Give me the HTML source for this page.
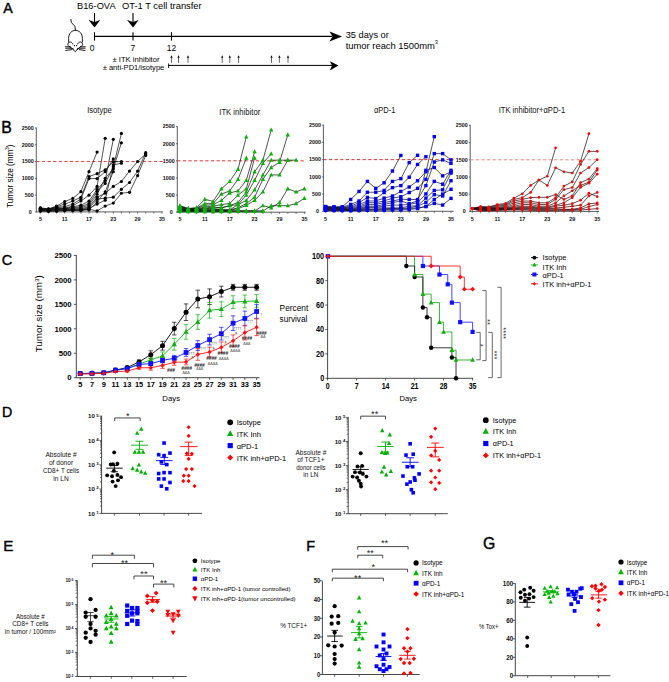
<!DOCTYPE html><html><head><meta charset="utf-8"><style>html,body{margin:0;padding:0;background:#fff;overflow:hidden;width:669px;height:682px;}svg{display:block;}text{font-family:"Liberation Sans", sans-serif;}</style></head><body>
<svg width="669" height="682" viewBox="0 0 669 682">
<rect width="669" height="682" fill="#fff"/>
<text x="3.20" y="12.70" font-size="14.20" fill="#000" stroke="#000" stroke-width="0.4">A</text>
<text x="1.30" y="132.90" font-size="15.80" fill="#000" stroke="#000" stroke-width="0.4">B</text>
<text x="1.80" y="264.80" font-size="14.50" fill="#000" stroke="#000" stroke-width="0.4">C</text>
<text x="2.00" y="416.50" font-size="14.20" fill="#000" stroke="#000" stroke-width="0.4">D</text>
<text x="3.20" y="551.40" font-size="15.20" fill="#000" stroke="#000" stroke-width="0.4">E</text>
<text x="306.20" y="551.40" font-size="14.50" fill="#000" stroke="#000" stroke-width="0.4">F</text>
<text x="482.90" y="549.10" font-size="15.80" fill="#000" stroke="#000" stroke-width="0.4">G</text>
<text x="77.00" y="9.40" font-size="9.3" text-anchor="start" fill="#000" >B16-OVA</text>
<text x="122.00" y="9.40" font-size="9.3" text-anchor="start" fill="#000" textLength="79.70" lengthAdjust="spacingAndGlyphs" >OT-1 T cell transfer</text>
<line x1="94.50" y1="13.10" x2="94.50" y2="23.00" stroke="#000" stroke-width="1.1" />
<path d="M88.50,19.8 Q91.50,21.3 94.50,22.1 Q97.50,21.3 100.30,19.8 Q97.70,23.6 94.50,27.5 Q91.30,23.6 88.50,19.8 Z" fill="#000"/>
<line x1="133.00" y1="13.10" x2="133.00" y2="23.00" stroke="#000" stroke-width="1.1" />
<path d="M127.00,19.8 Q130.00,21.3 133.00,22.1 Q136.00,21.3 138.80,19.8 Q136.20,23.6 133.00,27.5 Q129.80,23.6 127.00,19.8 Z" fill="#000"/>
<line x1="94.50" y1="36.40" x2="332.00" y2="36.40" stroke="#000" stroke-width="1.1" />
<path d="M329.5,31.4 L342,36.4 L329.5,41.5 L332.5,36.4 Z" fill="#000"/>
<line x1="94.50" y1="32.20" x2="94.50" y2="40.60" stroke="#000" stroke-width="1.1" />
<line x1="133.00" y1="32.20" x2="133.00" y2="40.60" stroke="#000" stroke-width="1.1" />
<line x1="171.50" y1="32.20" x2="171.50" y2="40.60" stroke="#000" stroke-width="1.1" />
<text x="92.20" y="50.80" font-size="8.5" text-anchor="middle" fill="#000" >0</text>
<text x="132.90" y="50.80" font-size="8.5" text-anchor="middle" fill="#000" >7</text>
<text x="171.50" y="50.80" font-size="8.5" text-anchor="middle" fill="#000" >12</text>
<text x="159.50" y="62.20" font-size="7.6" text-anchor="end" fill="#000" textLength="47.00" lengthAdjust="spacingAndGlyphs" >± ITK inhibitor</text>
<text x="164.30" y="69.60" font-size="7.6" text-anchor="end" fill="#000" textLength="61.60" lengthAdjust="spacingAndGlyphs" >± anti-PD1/isotype</text>
<line x1="168.60" y1="65.40" x2="332.00" y2="65.40" stroke="#000" stroke-width="1.0" />
<line x1="168.60" y1="63.50" x2="168.60" y2="68.00" stroke="#000" stroke-width="0.9" />
<path d="M329.8,61.3 L338.5,65.4 L329.8,70.5 L332,65.4 Z" fill="#000"/>
<line x1="171.50" y1="57.50" x2="171.50" y2="62.80" stroke="#000" stroke-width="0.6" />
<path d="M170.30,57.8 L171.50,55.3 L172.70,57.8 Z" fill="#000"/>
<line x1="178.50" y1="57.50" x2="178.50" y2="62.80" stroke="#000" stroke-width="0.6" />
<path d="M177.30,57.8 L178.50,55.3 L179.70,57.8 Z" fill="#000"/>
<line x1="188.00" y1="57.50" x2="188.00" y2="62.80" stroke="#000" stroke-width="0.6" />
<path d="M186.80,57.8 L188.00,55.3 L189.20,57.8 Z" fill="#000"/>
<line x1="222.20" y1="57.50" x2="222.20" y2="62.80" stroke="#000" stroke-width="0.6" />
<path d="M221.00,57.8 L222.20,55.3 L223.40,57.8 Z" fill="#000"/>
<line x1="229.80" y1="57.50" x2="229.80" y2="62.80" stroke="#000" stroke-width="0.6" />
<path d="M228.60,57.8 L229.80,55.3 L231.00,57.8 Z" fill="#000"/>
<line x1="238.60" y1="57.50" x2="238.60" y2="62.80" stroke="#000" stroke-width="0.6" />
<path d="M237.40,57.8 L238.60,55.3 L239.80,57.8 Z" fill="#000"/>
<line x1="271.50" y1="57.50" x2="271.50" y2="62.80" stroke="#000" stroke-width="0.6" />
<path d="M270.30,57.8 L271.50,55.3 L272.70,57.8 Z" fill="#000"/>
<line x1="279.40" y1="57.50" x2="279.40" y2="62.80" stroke="#000" stroke-width="0.6" />
<path d="M278.20,57.8 L279.40,55.3 L280.60,57.8 Z" fill="#000"/>
<line x1="288.00" y1="57.50" x2="288.00" y2="62.80" stroke="#000" stroke-width="0.6" />
<path d="M286.80,57.8 L288.00,55.3 L289.20,57.8 Z" fill="#000"/>
<text x="345.70" y="37.80" font-size="9.3" text-anchor="start" fill="#000" textLength="43.10" lengthAdjust="spacingAndGlyphs" >35 days or</text>
<text x="345.70" y="48.70" font-size="9.3" text-anchor="start" fill="#000" textLength="89.20" lengthAdjust="spacingAndGlyphs" >tumor reach 1500mm</text>
<text x="434.90" y="44.40" font-size="5.2" text-anchor="start" fill="#000" >3</text>
<g fill="none" stroke="#000" stroke-width="0.9" stroke-linecap="round" stroke-linejoin="round">
<path d="M70.9,19.4 L71.4,22.6 L74.9,26.2 L75.5,30.3"/>
<path d="M68.7,42 L68.6,38.5 C68.6,33.5 71.8,30.3 75.5,30.3 C79.2,30.3 82.4,33.5 82.4,38.5 L82.4,42"/>
<path d="M72.8,44 C72.3,41.5 69,41.5 68.2,43.2 C67.3,45 68.6,46.5 70,46.8 L75.2,51.6 L80.4,46.8 C81.8,46.5 83.2,45 82.3,43.2 C81.5,41.5 78.2,41.5 77.7,44"/>
<path d="M65.6,46.7 L70.5,46.9 M65.6,48.2 L71.5,48.2 M65.8,50.5 L71.5,49.6 M85.2,46.7 L80.3,46.9 M85.2,48.2 L79.3,48.2 M85,50.5 L79.3,49.6"/>
</g>
<circle cx="74.4" cy="45.6" r="0.7" fill="#000"/><circle cx="76.5" cy="45.6" r="0.7" fill="#000"/>
<path d="M71.3,47.6 L73.6,48.6 L73.6,50 Z M79.2,47.6 L76.9,48.6 L76.9,50 Z" fill="#000"/>
<text x="87.20" y="113.30" font-size="8.4" text-anchor="start" fill="#111" textLength="24.60" lengthAdjust="spacingAndGlyphs" >Isotype</text>
<line x1="36.30" y1="127.50" x2="36.30" y2="212.30" stroke="#333" stroke-width="0.8" />
<line x1="36.30" y1="211.90" x2="162.80" y2="211.90" stroke="#333" stroke-width="0.8" />
<line x1="35.00" y1="211.90" x2="36.30" y2="211.90" stroke="#333" stroke-width="0.7" />
<text x="31.80" y="213.75" font-size="5.4" text-anchor="end" fill="#111" font-weight="bold" >0</text>
<line x1="35.00" y1="195.12" x2="36.30" y2="195.12" stroke="#333" stroke-width="0.7" />
<text x="33.80" y="196.97" font-size="5.4" text-anchor="end" fill="#111" font-weight="bold" >500</text>
<line x1="35.00" y1="178.34" x2="36.30" y2="178.34" stroke="#333" stroke-width="0.7" />
<text x="33.80" y="180.19" font-size="5.4" text-anchor="end" fill="#111" font-weight="bold" >1000</text>
<line x1="35.00" y1="161.56" x2="36.30" y2="161.56" stroke="#333" stroke-width="0.7" />
<text x="33.80" y="163.41" font-size="5.4" text-anchor="end" fill="#111" font-weight="bold" >1500</text>
<line x1="35.00" y1="144.78" x2="36.30" y2="144.78" stroke="#333" stroke-width="0.7" />
<text x="33.80" y="146.63" font-size="5.4" text-anchor="end" fill="#111" font-weight="bold" >2000</text>
<line x1="35.00" y1="128.00" x2="36.30" y2="128.00" stroke="#333" stroke-width="0.7" />
<text x="33.80" y="129.85" font-size="5.4" text-anchor="end" fill="#111" font-weight="bold" >2500</text>
<line x1="40.40" y1="211.90" x2="40.40" y2="213.70" stroke="#333" stroke-width="0.6" />
<line x1="48.50" y1="211.90" x2="48.50" y2="213.70" stroke="#333" stroke-width="0.6" />
<line x1="56.60" y1="211.90" x2="56.60" y2="213.70" stroke="#333" stroke-width="0.6" />
<line x1="64.70" y1="211.90" x2="64.70" y2="213.70" stroke="#333" stroke-width="0.6" />
<line x1="72.80" y1="211.90" x2="72.80" y2="213.70" stroke="#333" stroke-width="0.6" />
<line x1="80.90" y1="211.90" x2="80.90" y2="213.70" stroke="#333" stroke-width="0.6" />
<line x1="89.00" y1="211.90" x2="89.00" y2="213.70" stroke="#333" stroke-width="0.6" />
<line x1="97.10" y1="211.90" x2="97.10" y2="213.70" stroke="#333" stroke-width="0.6" />
<line x1="105.20" y1="211.90" x2="105.20" y2="213.70" stroke="#333" stroke-width="0.6" />
<line x1="113.30" y1="211.90" x2="113.30" y2="213.70" stroke="#333" stroke-width="0.6" />
<line x1="121.40" y1="211.90" x2="121.40" y2="213.70" stroke="#333" stroke-width="0.6" />
<line x1="129.50" y1="211.90" x2="129.50" y2="213.70" stroke="#333" stroke-width="0.6" />
<line x1="137.60" y1="211.90" x2="137.60" y2="213.70" stroke="#333" stroke-width="0.6" />
<line x1="145.70" y1="211.90" x2="145.70" y2="213.70" stroke="#333" stroke-width="0.6" />
<line x1="153.80" y1="211.90" x2="153.80" y2="213.70" stroke="#333" stroke-width="0.6" />
<line x1="161.90" y1="211.90" x2="161.90" y2="213.70" stroke="#333" stroke-width="0.6" />
<text x="40.40" y="220.90" font-size="5.4" text-anchor="middle" fill="#111" font-weight="bold" >5</text>
<text x="64.70" y="220.90" font-size="5.4" text-anchor="middle" fill="#111" font-weight="bold" >11</text>
<text x="89.00" y="220.90" font-size="5.4" text-anchor="middle" fill="#111" font-weight="bold" >17</text>
<text x="113.30" y="220.90" font-size="5.4" text-anchor="middle" fill="#111" font-weight="bold" >23</text>
<text x="137.60" y="220.90" font-size="5.4" text-anchor="middle" fill="#111" font-weight="bold" >29</text>
<text x="161.90" y="220.90" font-size="5.4" text-anchor="middle" fill="#111" font-weight="bold" >35</text>
<line x1="36.30" y1="161.56" x2="162.80" y2="161.56" stroke="#e04040" stroke-width="1.0" stroke-dasharray="3.2 2.4"/>
<polyline points="40.40,207.87 48.50,208.88 56.60,206.19 64.70,201.50 72.80,198.41 80.90,191.63 89.00,171.70 97.10,152.10" fill="none" stroke="#111" stroke-width="0.72" />
<polyline points="40.40,208.16 48.50,209.09 56.60,206.65 64.70,204.11 72.80,200.99 80.90,197.37 89.00,176.59 97.10,173.68 105.20,169.75 113.30,161.90 121.40,161.49" fill="none" stroke="#111" stroke-width="0.72" />
<polyline points="40.40,208.45 48.50,209.31 56.60,207.11 64.70,206.70 72.80,204.11 80.90,198.91 89.00,178.57 97.10,178.57 105.20,171.70 113.30,158.94" fill="none" stroke="#111" stroke-width="0.72" />
<polyline points="40.40,208.74 48.50,209.52 56.60,207.57 64.70,208.28 72.80,205.86 80.90,200.99 89.00,195.22 97.10,186.39 105.20,138.37" fill="none" stroke="#111" stroke-width="0.72" />
<polyline points="40.40,209.03 48.50,209.73 56.60,208.03 64.70,208.54 72.80,206.87 80.90,205.19 89.00,201.13 97.10,189.35 105.20,180.52 113.30,139.34" fill="none" stroke="#111" stroke-width="0.72" />
<polyline points="40.40,209.32 48.50,209.95 56.60,208.48 64.70,208.88 72.80,207.87 80.90,206.53 89.00,203.51 97.10,191.33 105.20,183.47 113.30,166.80 121.40,133.47" fill="none" stroke="#111" stroke-width="0.72" />
<polyline points="40.40,209.61 48.50,210.16 56.60,208.94 64.70,209.22 72.80,208.54 80.90,207.54 89.00,205.19 97.10,194.25 105.20,178.34 113.30,168.78 121.40,142.87" fill="none" stroke="#111" stroke-width="0.72" />
<polyline points="40.40,209.90 48.50,210.37 56.60,209.40 64.70,209.55 72.80,209.22 80.90,208.54 89.00,206.87 97.10,197.20 105.20,193.27 113.30,186.39 121.40,181.49 129.50,171.12 137.60,161.49 145.70,154.04" fill="none" stroke="#111" stroke-width="0.72" />
<polyline points="40.40,210.19 48.50,210.59 56.60,209.86 64.70,209.89 72.80,209.55 80.90,209.22 89.00,207.87 97.10,199.15 105.20,198.17 113.30,197.20 121.40,189.35 129.50,182.50 137.60,171.12 145.70,152.67" fill="none" stroke="#111" stroke-width="0.72" />
<polyline points="40.40,210.48 48.50,210.80 56.60,210.31 64.70,210.22 72.80,209.89 80.90,209.89 89.00,209.22 97.10,210.93 105.20,206.03 113.30,203.07 121.40,193.27 129.50,192.30 137.60,175.62 145.70,155.42" fill="none" stroke="#111" stroke-width="0.72" />
<polyline points="40.40,210.77 48.50,211.02 56.60,210.77 64.70,210.56 72.80,210.22 80.90,210.22 89.00,208.54 97.10,204.05 105.20,200.15 113.30,164.92 121.40,163.24" fill="none" stroke="#111" stroke-width="0.72" />
<polyline points="40.40,211.06 48.50,211.23 56.60,211.23 64.70,210.56 72.80,210.56 80.90,210.56 89.00,209.89 97.10,201.83 105.20,191.76 113.30,171.63" fill="none" stroke="#111" stroke-width="0.72" />
<circle cx="40.40" cy="207.87" r="1.60" fill="#000"/>
<circle cx="48.50" cy="208.88" r="1.60" fill="#000"/>
<circle cx="56.60" cy="206.19" r="1.60" fill="#000"/>
<circle cx="64.70" cy="201.50" r="1.60" fill="#000"/>
<circle cx="72.80" cy="198.41" r="1.60" fill="#000"/>
<circle cx="80.90" cy="191.63" r="1.60" fill="#000"/>
<circle cx="89.00" cy="171.70" r="1.60" fill="#000"/>
<circle cx="97.10" cy="152.10" r="1.60" fill="#000"/>
<circle cx="40.40" cy="208.16" r="1.60" fill="#000"/>
<circle cx="48.50" cy="209.09" r="1.60" fill="#000"/>
<circle cx="56.60" cy="206.65" r="1.60" fill="#000"/>
<circle cx="64.70" cy="204.11" r="1.60" fill="#000"/>
<circle cx="72.80" cy="200.99" r="1.60" fill="#000"/>
<circle cx="80.90" cy="197.37" r="1.60" fill="#000"/>
<circle cx="89.00" cy="176.59" r="1.60" fill="#000"/>
<circle cx="97.10" cy="173.68" r="1.60" fill="#000"/>
<circle cx="105.20" cy="169.75" r="1.60" fill="#000"/>
<circle cx="113.30" cy="161.90" r="1.60" fill="#000"/>
<circle cx="121.40" cy="161.49" r="1.60" fill="#000"/>
<circle cx="40.40" cy="208.45" r="1.60" fill="#000"/>
<circle cx="48.50" cy="209.31" r="1.60" fill="#000"/>
<circle cx="56.60" cy="207.11" r="1.60" fill="#000"/>
<circle cx="64.70" cy="206.70" r="1.60" fill="#000"/>
<circle cx="72.80" cy="204.11" r="1.60" fill="#000"/>
<circle cx="80.90" cy="198.91" r="1.60" fill="#000"/>
<circle cx="89.00" cy="178.57" r="1.60" fill="#000"/>
<circle cx="97.10" cy="178.57" r="1.60" fill="#000"/>
<circle cx="105.20" cy="171.70" r="1.60" fill="#000"/>
<circle cx="113.30" cy="158.94" r="1.60" fill="#000"/>
<circle cx="40.40" cy="208.74" r="1.60" fill="#000"/>
<circle cx="48.50" cy="209.52" r="1.60" fill="#000"/>
<circle cx="56.60" cy="207.57" r="1.60" fill="#000"/>
<circle cx="64.70" cy="208.28" r="1.60" fill="#000"/>
<circle cx="72.80" cy="205.86" r="1.60" fill="#000"/>
<circle cx="80.90" cy="200.99" r="1.60" fill="#000"/>
<circle cx="89.00" cy="195.22" r="1.60" fill="#000"/>
<circle cx="97.10" cy="186.39" r="1.60" fill="#000"/>
<circle cx="105.20" cy="138.37" r="1.60" fill="#000"/>
<circle cx="40.40" cy="209.03" r="1.60" fill="#000"/>
<circle cx="48.50" cy="209.73" r="1.60" fill="#000"/>
<circle cx="56.60" cy="208.03" r="1.60" fill="#000"/>
<circle cx="64.70" cy="208.54" r="1.60" fill="#000"/>
<circle cx="72.80" cy="206.87" r="1.60" fill="#000"/>
<circle cx="80.90" cy="205.19" r="1.60" fill="#000"/>
<circle cx="89.00" cy="201.13" r="1.60" fill="#000"/>
<circle cx="97.10" cy="189.35" r="1.60" fill="#000"/>
<circle cx="105.20" cy="180.52" r="1.60" fill="#000"/>
<circle cx="113.30" cy="139.34" r="1.60" fill="#000"/>
<circle cx="40.40" cy="209.32" r="1.60" fill="#000"/>
<circle cx="48.50" cy="209.95" r="1.60" fill="#000"/>
<circle cx="56.60" cy="208.48" r="1.60" fill="#000"/>
<circle cx="64.70" cy="208.88" r="1.60" fill="#000"/>
<circle cx="72.80" cy="207.87" r="1.60" fill="#000"/>
<circle cx="80.90" cy="206.53" r="1.60" fill="#000"/>
<circle cx="89.00" cy="203.51" r="1.60" fill="#000"/>
<circle cx="97.10" cy="191.33" r="1.60" fill="#000"/>
<circle cx="105.20" cy="183.47" r="1.60" fill="#000"/>
<circle cx="113.30" cy="166.80" r="1.60" fill="#000"/>
<circle cx="121.40" cy="133.47" r="1.60" fill="#000"/>
<circle cx="40.40" cy="209.61" r="1.60" fill="#000"/>
<circle cx="48.50" cy="210.16" r="1.60" fill="#000"/>
<circle cx="56.60" cy="208.94" r="1.60" fill="#000"/>
<circle cx="64.70" cy="209.22" r="1.60" fill="#000"/>
<circle cx="72.80" cy="208.54" r="1.60" fill="#000"/>
<circle cx="80.90" cy="207.54" r="1.60" fill="#000"/>
<circle cx="89.00" cy="205.19" r="1.60" fill="#000"/>
<circle cx="97.10" cy="194.25" r="1.60" fill="#000"/>
<circle cx="105.20" cy="178.34" r="1.60" fill="#000"/>
<circle cx="113.30" cy="168.78" r="1.60" fill="#000"/>
<circle cx="121.40" cy="142.87" r="1.60" fill="#000"/>
<circle cx="40.40" cy="209.90" r="1.60" fill="#000"/>
<circle cx="48.50" cy="210.37" r="1.60" fill="#000"/>
<circle cx="56.60" cy="209.40" r="1.60" fill="#000"/>
<circle cx="64.70" cy="209.55" r="1.60" fill="#000"/>
<circle cx="72.80" cy="209.22" r="1.60" fill="#000"/>
<circle cx="80.90" cy="208.54" r="1.60" fill="#000"/>
<circle cx="89.00" cy="206.87" r="1.60" fill="#000"/>
<circle cx="97.10" cy="197.20" r="1.60" fill="#000"/>
<circle cx="105.20" cy="193.27" r="1.60" fill="#000"/>
<circle cx="113.30" cy="186.39" r="1.60" fill="#000"/>
<circle cx="121.40" cy="181.49" r="1.60" fill="#000"/>
<circle cx="129.50" cy="171.12" r="1.60" fill="#000"/>
<circle cx="137.60" cy="161.49" r="1.60" fill="#000"/>
<circle cx="145.70" cy="154.04" r="1.60" fill="#000"/>
<circle cx="40.40" cy="210.19" r="1.60" fill="#000"/>
<circle cx="48.50" cy="210.59" r="1.60" fill="#000"/>
<circle cx="56.60" cy="209.86" r="1.60" fill="#000"/>
<circle cx="64.70" cy="209.89" r="1.60" fill="#000"/>
<circle cx="72.80" cy="209.55" r="1.60" fill="#000"/>
<circle cx="80.90" cy="209.22" r="1.60" fill="#000"/>
<circle cx="89.00" cy="207.87" r="1.60" fill="#000"/>
<circle cx="97.10" cy="199.15" r="1.60" fill="#000"/>
<circle cx="105.20" cy="198.17" r="1.60" fill="#000"/>
<circle cx="113.30" cy="197.20" r="1.60" fill="#000"/>
<circle cx="121.40" cy="189.35" r="1.60" fill="#000"/>
<circle cx="129.50" cy="182.50" r="1.60" fill="#000"/>
<circle cx="137.60" cy="171.12" r="1.60" fill="#000"/>
<circle cx="145.70" cy="152.67" r="1.60" fill="#000"/>
<circle cx="40.40" cy="210.48" r="1.60" fill="#000"/>
<circle cx="48.50" cy="210.80" r="1.60" fill="#000"/>
<circle cx="56.60" cy="210.31" r="1.60" fill="#000"/>
<circle cx="64.70" cy="210.22" r="1.60" fill="#000"/>
<circle cx="72.80" cy="209.89" r="1.60" fill="#000"/>
<circle cx="80.90" cy="209.89" r="1.60" fill="#000"/>
<circle cx="89.00" cy="209.22" r="1.60" fill="#000"/>
<circle cx="97.10" cy="210.93" r="1.60" fill="#000"/>
<circle cx="105.20" cy="206.03" r="1.60" fill="#000"/>
<circle cx="113.30" cy="203.07" r="1.60" fill="#000"/>
<circle cx="121.40" cy="193.27" r="1.60" fill="#000"/>
<circle cx="129.50" cy="192.30" r="1.60" fill="#000"/>
<circle cx="137.60" cy="175.62" r="1.60" fill="#000"/>
<circle cx="145.70" cy="155.42" r="1.60" fill="#000"/>
<circle cx="40.40" cy="210.77" r="1.60" fill="#000"/>
<circle cx="48.50" cy="211.02" r="1.60" fill="#000"/>
<circle cx="56.60" cy="210.77" r="1.60" fill="#000"/>
<circle cx="64.70" cy="210.56" r="1.60" fill="#000"/>
<circle cx="72.80" cy="210.22" r="1.60" fill="#000"/>
<circle cx="80.90" cy="210.22" r="1.60" fill="#000"/>
<circle cx="89.00" cy="208.54" r="1.60" fill="#000"/>
<circle cx="97.10" cy="204.05" r="1.60" fill="#000"/>
<circle cx="105.20" cy="200.15" r="1.60" fill="#000"/>
<circle cx="113.30" cy="164.92" r="1.60" fill="#000"/>
<circle cx="121.40" cy="163.24" r="1.60" fill="#000"/>
<circle cx="40.40" cy="211.06" r="1.60" fill="#000"/>
<circle cx="48.50" cy="211.23" r="1.60" fill="#000"/>
<circle cx="56.60" cy="211.23" r="1.60" fill="#000"/>
<circle cx="64.70" cy="210.56" r="1.60" fill="#000"/>
<circle cx="72.80" cy="210.56" r="1.60" fill="#000"/>
<circle cx="80.90" cy="210.56" r="1.60" fill="#000"/>
<circle cx="89.00" cy="209.89" r="1.60" fill="#000"/>
<circle cx="97.10" cy="201.83" r="1.60" fill="#000"/>
<circle cx="105.20" cy="191.76" r="1.60" fill="#000"/>
<circle cx="113.30" cy="171.63" r="1.60" fill="#000"/>
<text x="219.30" y="114.50" font-size="8.4" text-anchor="start" fill="#111" textLength="40.90" lengthAdjust="spacingAndGlyphs" >ITK inhibitor</text>
<line x1="177.30" y1="126.10" x2="177.30" y2="212.60" stroke="#333" stroke-width="0.8" />
<line x1="177.30" y1="212.20" x2="305.80" y2="212.20" stroke="#333" stroke-width="0.8" />
<line x1="176.00" y1="212.20" x2="177.30" y2="212.20" stroke="#333" stroke-width="0.7" />
<text x="172.80" y="214.05" font-size="5.4" text-anchor="end" fill="#111" font-weight="bold" >0</text>
<line x1="176.00" y1="195.08" x2="177.30" y2="195.08" stroke="#333" stroke-width="0.7" />
<text x="174.80" y="196.93" font-size="5.4" text-anchor="end" fill="#111" font-weight="bold" >500</text>
<line x1="176.00" y1="177.96" x2="177.30" y2="177.96" stroke="#333" stroke-width="0.7" />
<text x="174.80" y="179.81" font-size="5.4" text-anchor="end" fill="#111" font-weight="bold" >1000</text>
<line x1="176.00" y1="160.84" x2="177.30" y2="160.84" stroke="#333" stroke-width="0.7" />
<text x="174.80" y="162.69" font-size="5.4" text-anchor="end" fill="#111" font-weight="bold" >1500</text>
<line x1="176.00" y1="143.72" x2="177.30" y2="143.72" stroke="#333" stroke-width="0.7" />
<text x="174.80" y="145.57" font-size="5.4" text-anchor="end" fill="#111" font-weight="bold" >2000</text>
<line x1="176.00" y1="126.60" x2="177.30" y2="126.60" stroke="#333" stroke-width="0.7" />
<text x="174.80" y="128.45" font-size="5.4" text-anchor="end" fill="#111" font-weight="bold" >2500</text>
<line x1="179.90" y1="212.20" x2="179.90" y2="214.00" stroke="#333" stroke-width="0.6" />
<line x1="188.20" y1="212.20" x2="188.20" y2="214.00" stroke="#333" stroke-width="0.6" />
<line x1="196.50" y1="212.20" x2="196.50" y2="214.00" stroke="#333" stroke-width="0.6" />
<line x1="204.80" y1="212.20" x2="204.80" y2="214.00" stroke="#333" stroke-width="0.6" />
<line x1="213.10" y1="212.20" x2="213.10" y2="214.00" stroke="#333" stroke-width="0.6" />
<line x1="221.40" y1="212.20" x2="221.40" y2="214.00" stroke="#333" stroke-width="0.6" />
<line x1="229.70" y1="212.20" x2="229.70" y2="214.00" stroke="#333" stroke-width="0.6" />
<line x1="238.00" y1="212.20" x2="238.00" y2="214.00" stroke="#333" stroke-width="0.6" />
<line x1="246.30" y1="212.20" x2="246.30" y2="214.00" stroke="#333" stroke-width="0.6" />
<line x1="254.60" y1="212.20" x2="254.60" y2="214.00" stroke="#333" stroke-width="0.6" />
<line x1="262.90" y1="212.20" x2="262.90" y2="214.00" stroke="#333" stroke-width="0.6" />
<line x1="271.20" y1="212.20" x2="271.20" y2="214.00" stroke="#333" stroke-width="0.6" />
<line x1="279.50" y1="212.20" x2="279.50" y2="214.00" stroke="#333" stroke-width="0.6" />
<line x1="287.80" y1="212.20" x2="287.80" y2="214.00" stroke="#333" stroke-width="0.6" />
<line x1="296.10" y1="212.20" x2="296.10" y2="214.00" stroke="#333" stroke-width="0.6" />
<line x1="304.40" y1="212.20" x2="304.40" y2="214.00" stroke="#333" stroke-width="0.6" />
<text x="179.90" y="220.90" font-size="5.4" text-anchor="middle" fill="#111" font-weight="bold" >5</text>
<text x="204.80" y="220.90" font-size="5.4" text-anchor="middle" fill="#111" font-weight="bold" >11</text>
<text x="229.70" y="220.90" font-size="5.4" text-anchor="middle" fill="#111" font-weight="bold" >17</text>
<text x="254.60" y="220.90" font-size="5.4" text-anchor="middle" fill="#111" font-weight="bold" >23</text>
<text x="279.50" y="220.90" font-size="5.4" text-anchor="middle" fill="#111" font-weight="bold" >29</text>
<text x="304.40" y="220.90" font-size="5.4" text-anchor="middle" fill="#111" font-weight="bold" >35</text>
<line x1="177.30" y1="160.84" x2="305.80" y2="160.84" stroke="#e03030" stroke-width="1.0" stroke-dasharray="3.2 2.4"/>
<polyline points="179.90,205.69 188.20,208.43 196.50,207.75 204.80,199.26 213.10,201.38 221.40,188.78 229.70,181.38 238.00,169.26 246.30,136.87" fill="none" stroke="#111" stroke-width="0.72" />
<polyline points="179.90,206.21 188.20,208.71 196.50,208.09 204.80,203.64 213.10,203.64 221.40,194.05 229.70,190.87 238.00,179.26 246.30,158.03" fill="none" stroke="#111" stroke-width="0.72" />
<polyline points="179.90,206.72 188.20,208.99 196.50,208.43 204.80,205.35 213.10,204.67 221.40,200.39 229.70,192.99 238.00,190.87 246.30,180.32 254.60,151.70" fill="none" stroke="#111" stroke-width="0.72" />
<polyline points="179.90,207.24 188.20,209.27 196.50,208.78 204.80,207.06 213.10,206.04 221.40,204.63 229.70,203.54 238.00,195.08 246.30,188.78 254.60,158.03" fill="none" stroke="#111" stroke-width="0.72" />
<polyline points="179.90,207.75 188.20,209.55 196.50,209.12 204.80,208.09 213.10,207.06 221.40,207.82 229.70,205.69 238.00,202.51 246.30,191.93 254.60,171.80 262.90,160.16 271.20,129.96" fill="none" stroke="#111" stroke-width="0.72" />
<polyline points="179.90,208.26 188.20,209.83 196.50,209.46 204.80,208.78 213.10,208.09 221.40,207.82 229.70,205.69 238.00,204.63 246.30,195.08 254.60,180.32 262.90,163.34 271.20,153.82" fill="none" stroke="#111" stroke-width="0.72" />
<polyline points="179.90,208.78 188.20,210.11 196.50,209.80 204.80,209.46 213.10,208.78 221.40,209.94 229.70,209.94 238.00,204.63 246.30,200.39 254.60,189.81 262.90,174.95 271.20,160.16 279.50,160.16 287.80,160.16 296.10,160.16" fill="none" stroke="#111" stroke-width="0.72" />
<polyline points="179.90,209.29 188.20,210.39 196.50,210.15 204.80,210.15 213.10,209.46 221.40,209.94 229.70,209.94 238.00,207.75 246.30,203.64 254.60,197.20 262.90,179.26 271.20,167.55 279.50,162.28 287.80,134.75" fill="none" stroke="#111" stroke-width="0.72" />
<polyline points="179.90,209.80 188.20,210.67 196.50,210.49 204.80,210.49 213.10,210.15 221.40,210.15 229.70,210.15 238.00,208.78 246.30,205.35 254.60,200.39 262.90,191.93 271.20,174.95 279.50,174.95 287.80,160.16" fill="none" stroke="#111" stroke-width="0.72" />
<polyline points="179.90,210.32 188.20,210.95 196.50,210.83 204.80,210.83 213.10,210.49 221.40,210.83 229.70,210.83 238.00,211.00 246.30,211.00 254.60,211.00 262.90,205.69 271.20,207.82 279.50,202.51 287.80,188.78 296.10,191.93 304.40,188.78" fill="none" stroke="#111" stroke-width="0.72" />
<polyline points="179.90,210.83 188.20,211.24 196.50,211.17 204.80,211.17 213.10,210.83 221.40,211.17 229.70,211.17 238.00,211.00 246.30,211.00 254.60,211.00 262.90,211.00 271.20,205.69 279.50,205.69 287.80,205.69 296.10,203.57 304.40,198.26" fill="none" stroke="#111" stroke-width="0.72" />
<polyline points="179.90,211.34 188.20,211.52 196.50,211.52 204.80,211.52 213.10,211.52 221.40,211.52 229.70,211.52 238.00,211.00 246.30,211.00 254.60,211.00 262.90,211.00" fill="none" stroke="#111" stroke-width="0.72" />
<polygon points="179.90,203.24 182.05,207.33 177.75,207.33" fill="#00b400"/>
<polygon points="188.20,205.98 190.35,210.07 186.05,210.07" fill="#00b400"/>
<polygon points="196.50,205.30 198.65,209.38 194.35,209.38" fill="#00b400"/>
<polygon points="204.80,196.81 206.95,200.89 202.65,200.89" fill="#00b400"/>
<polygon points="213.10,198.93 215.25,203.01 210.95,203.01" fill="#00b400"/>
<polygon points="221.40,186.33 223.55,190.41 219.25,190.41" fill="#00b400"/>
<polygon points="229.70,178.93 231.85,183.02 227.55,183.02" fill="#00b400"/>
<polygon points="238.00,166.81 240.15,170.90 235.85,170.90" fill="#00b400"/>
<polygon points="246.30,134.42 248.45,138.51 244.15,138.51" fill="#00b400"/>
<polygon points="179.90,203.76 182.05,207.84 177.75,207.84" fill="#00b400"/>
<polygon points="188.20,206.26 190.35,210.35 186.05,210.35" fill="#00b400"/>
<polygon points="196.50,205.64 198.65,209.73 194.35,209.73" fill="#00b400"/>
<polygon points="204.80,201.19 206.95,205.27 202.65,205.27" fill="#00b400"/>
<polygon points="213.10,201.19 215.25,205.27 210.95,205.27" fill="#00b400"/>
<polygon points="221.40,191.60 223.55,195.69 219.25,195.69" fill="#00b400"/>
<polygon points="229.70,188.42 231.85,192.50 227.55,192.50" fill="#00b400"/>
<polygon points="238.00,176.81 240.15,180.90 235.85,180.90" fill="#00b400"/>
<polygon points="246.30,155.58 248.45,159.67 244.15,159.67" fill="#00b400"/>
<polygon points="179.90,204.27 182.05,208.36 177.75,208.36" fill="#00b400"/>
<polygon points="188.20,206.54 190.35,210.63 186.05,210.63" fill="#00b400"/>
<polygon points="196.50,205.98 198.65,210.07 194.35,210.07" fill="#00b400"/>
<polygon points="204.80,202.90 206.95,206.99 202.65,206.99" fill="#00b400"/>
<polygon points="213.10,202.22 215.25,206.30 210.95,206.30" fill="#00b400"/>
<polygon points="221.40,197.94 223.55,202.02 219.25,202.02" fill="#00b400"/>
<polygon points="229.70,190.54 231.85,194.63 227.55,194.63" fill="#00b400"/>
<polygon points="238.00,188.42 240.15,192.50 235.85,192.50" fill="#00b400"/>
<polygon points="246.30,177.87 248.45,181.96 244.15,181.96" fill="#00b400"/>
<polygon points="254.60,149.25 256.75,153.33 252.45,153.33" fill="#00b400"/>
<polygon points="179.90,204.78 182.05,208.87 177.75,208.87" fill="#00b400"/>
<polygon points="188.20,206.82 190.35,210.91 186.05,210.91" fill="#00b400"/>
<polygon points="196.50,206.32 198.65,210.41 194.35,210.41" fill="#00b400"/>
<polygon points="204.80,204.61 206.95,208.70 202.65,208.70" fill="#00b400"/>
<polygon points="213.10,203.59 215.25,207.67 210.95,207.67" fill="#00b400"/>
<polygon points="221.40,202.18 223.55,206.27 219.25,206.27" fill="#00b400"/>
<polygon points="229.70,201.09 231.85,205.17 227.55,205.17" fill="#00b400"/>
<polygon points="238.00,192.63 240.15,196.71 235.85,196.71" fill="#00b400"/>
<polygon points="246.30,186.33 248.45,190.41 244.15,190.41" fill="#00b400"/>
<polygon points="254.60,155.58 256.75,159.67 252.45,159.67" fill="#00b400"/>
<polygon points="179.90,205.30 182.05,209.38 177.75,209.38" fill="#00b400"/>
<polygon points="188.20,207.10 190.35,211.19 186.05,211.19" fill="#00b400"/>
<polygon points="196.50,206.67 198.65,210.75 194.35,210.75" fill="#00b400"/>
<polygon points="204.80,205.64 206.95,209.73 202.65,209.73" fill="#00b400"/>
<polygon points="213.10,204.61 215.25,208.70 210.95,208.70" fill="#00b400"/>
<polygon points="221.40,205.37 223.55,209.45 219.25,209.45" fill="#00b400"/>
<polygon points="229.70,203.24 231.85,207.33 227.55,207.33" fill="#00b400"/>
<polygon points="238.00,200.06 240.15,204.14 235.85,204.14" fill="#00b400"/>
<polygon points="246.30,189.48 248.45,193.56 244.15,193.56" fill="#00b400"/>
<polygon points="254.60,169.35 256.75,173.43 252.45,173.43" fill="#00b400"/>
<polygon points="262.90,157.70 265.05,161.79 260.75,161.79" fill="#00b400"/>
<polygon points="271.20,127.50 273.35,131.59 269.05,131.59" fill="#00b400"/>
<polygon points="179.90,205.81 182.05,209.90 177.75,209.90" fill="#00b400"/>
<polygon points="188.20,207.38 190.35,211.47 186.05,211.47" fill="#00b400"/>
<polygon points="196.50,207.01 198.65,211.09 194.35,211.09" fill="#00b400"/>
<polygon points="204.80,206.32 206.95,210.41 202.65,210.41" fill="#00b400"/>
<polygon points="213.10,205.64 215.25,209.73 210.95,209.73" fill="#00b400"/>
<polygon points="221.40,205.37 223.55,209.45 219.25,209.45" fill="#00b400"/>
<polygon points="229.70,203.24 231.85,207.33 227.55,207.33" fill="#00b400"/>
<polygon points="238.00,202.18 240.15,206.27 235.85,206.27" fill="#00b400"/>
<polygon points="246.30,192.63 248.45,196.71 244.15,196.71" fill="#00b400"/>
<polygon points="254.60,177.87 256.75,181.96 252.45,181.96" fill="#00b400"/>
<polygon points="262.90,160.89 265.05,164.97 260.75,164.97" fill="#00b400"/>
<polygon points="271.20,151.37 273.35,155.45 269.05,155.45" fill="#00b400"/>
<polygon points="179.90,206.32 182.05,210.41 177.75,210.41" fill="#00b400"/>
<polygon points="188.20,207.66 190.35,211.75 186.05,211.75" fill="#00b400"/>
<polygon points="196.50,207.35 198.65,211.44 194.35,211.44" fill="#00b400"/>
<polygon points="204.80,207.01 206.95,211.09 202.65,211.09" fill="#00b400"/>
<polygon points="213.10,206.32 215.25,210.41 210.95,210.41" fill="#00b400"/>
<polygon points="221.40,207.49 223.55,211.57 219.25,211.57" fill="#00b400"/>
<polygon points="229.70,207.49 231.85,211.57 227.55,211.57" fill="#00b400"/>
<polygon points="238.00,202.18 240.15,206.27 235.85,206.27" fill="#00b400"/>
<polygon points="246.30,197.94 248.45,202.02 244.15,202.02" fill="#00b400"/>
<polygon points="254.60,187.36 256.75,191.44 252.45,191.44" fill="#00b400"/>
<polygon points="262.90,172.50 265.05,176.58 260.75,176.58" fill="#00b400"/>
<polygon points="271.20,157.70 273.35,161.79 269.05,161.79" fill="#00b400"/>
<polygon points="279.50,157.70 281.65,161.79 277.35,161.79" fill="#00b400"/>
<polygon points="287.80,157.70 289.95,161.79 285.65,161.79" fill="#00b400"/>
<polygon points="296.10,157.70 298.25,161.79 293.95,161.79" fill="#00b400"/>
<polygon points="179.90,206.84 182.05,210.92 177.75,210.92" fill="#00b400"/>
<polygon points="188.20,207.94 190.35,212.03 186.05,212.03" fill="#00b400"/>
<polygon points="196.50,207.69 198.65,211.78 194.35,211.78" fill="#00b400"/>
<polygon points="204.80,207.69 206.95,211.78 202.65,211.78" fill="#00b400"/>
<polygon points="213.10,207.01 215.25,211.09 210.95,211.09" fill="#00b400"/>
<polygon points="221.40,207.49 223.55,211.57 219.25,211.57" fill="#00b400"/>
<polygon points="229.70,207.49 231.85,211.57 227.55,211.57" fill="#00b400"/>
<polygon points="238.00,205.30 240.15,209.38 235.85,209.38" fill="#00b400"/>
<polygon points="246.30,201.19 248.45,205.27 244.15,205.27" fill="#00b400"/>
<polygon points="254.60,194.75 256.75,198.84 252.45,198.84" fill="#00b400"/>
<polygon points="262.90,176.81 265.05,180.90 260.75,180.90" fill="#00b400"/>
<polygon points="271.20,165.10 273.35,169.19 269.05,169.19" fill="#00b400"/>
<polygon points="279.50,159.83 281.65,163.91 277.35,163.91" fill="#00b400"/>
<polygon points="287.80,132.30 289.95,136.38 285.65,136.38" fill="#00b400"/>
<polygon points="179.90,207.35 182.05,211.44 177.75,211.44" fill="#00b400"/>
<polygon points="188.20,208.22 190.35,212.31 186.05,212.31" fill="#00b400"/>
<polygon points="196.50,208.04 198.65,212.12 194.35,212.12" fill="#00b400"/>
<polygon points="204.80,208.04 206.95,212.12 202.65,212.12" fill="#00b400"/>
<polygon points="213.10,207.69 215.25,211.78 210.95,211.78" fill="#00b400"/>
<polygon points="221.40,207.69 223.55,211.78 219.25,211.78" fill="#00b400"/>
<polygon points="229.70,207.69 231.85,211.78 227.55,211.78" fill="#00b400"/>
<polygon points="238.00,206.32 240.15,210.41 235.85,210.41" fill="#00b400"/>
<polygon points="246.30,202.90 248.45,206.99 244.15,206.99" fill="#00b400"/>
<polygon points="254.60,197.94 256.75,202.02 252.45,202.02" fill="#00b400"/>
<polygon points="262.90,189.48 265.05,193.56 260.75,193.56" fill="#00b400"/>
<polygon points="271.20,172.50 273.35,176.58 269.05,176.58" fill="#00b400"/>
<polygon points="279.50,172.50 281.65,176.58 277.35,176.58" fill="#00b400"/>
<polygon points="287.80,157.70 289.95,161.79 285.65,161.79" fill="#00b400"/>
<polygon points="179.90,207.87 182.05,211.95 177.75,211.95" fill="#00b400"/>
<polygon points="188.20,208.50 190.35,212.59 186.05,212.59" fill="#00b400"/>
<polygon points="196.50,208.38 198.65,212.46 194.35,212.46" fill="#00b400"/>
<polygon points="204.80,208.38 206.95,212.46 202.65,212.46" fill="#00b400"/>
<polygon points="213.10,208.04 215.25,212.12 210.95,212.12" fill="#00b400"/>
<polygon points="221.40,208.38 223.55,212.46 219.25,212.46" fill="#00b400"/>
<polygon points="229.70,208.38 231.85,212.46 227.55,212.46" fill="#00b400"/>
<polygon points="238.00,208.55 240.15,212.64 235.85,212.64" fill="#00b400"/>
<polygon points="246.30,208.55 248.45,212.64 244.15,212.64" fill="#00b400"/>
<polygon points="254.60,208.55 256.75,212.64 252.45,212.64" fill="#00b400"/>
<polygon points="262.90,203.24 265.05,207.33 260.75,207.33" fill="#00b400"/>
<polygon points="271.20,205.37 273.35,209.45 269.05,209.45" fill="#00b400"/>
<polygon points="279.50,200.06 281.65,204.14 277.35,204.14" fill="#00b400"/>
<polygon points="287.80,186.33 289.95,190.41 285.65,190.41" fill="#00b400"/>
<polygon points="296.10,189.48 298.25,193.56 293.95,193.56" fill="#00b400"/>
<polygon points="304.40,186.33 306.55,190.41 302.25,190.41" fill="#00b400"/>
<polygon points="179.90,208.38 182.05,212.46 177.75,212.46" fill="#00b400"/>
<polygon points="188.20,208.78 190.35,212.87 186.05,212.87" fill="#00b400"/>
<polygon points="196.50,208.72 198.65,212.81 194.35,212.81" fill="#00b400"/>
<polygon points="204.80,208.72 206.95,212.81 202.65,212.81" fill="#00b400"/>
<polygon points="213.10,208.38 215.25,212.46 210.95,212.46" fill="#00b400"/>
<polygon points="221.40,208.72 223.55,212.81 219.25,212.81" fill="#00b400"/>
<polygon points="229.70,208.72 231.85,212.81 227.55,212.81" fill="#00b400"/>
<polygon points="238.00,208.55 240.15,212.64 235.85,212.64" fill="#00b400"/>
<polygon points="246.30,208.55 248.45,212.64 244.15,212.64" fill="#00b400"/>
<polygon points="254.60,208.55 256.75,212.64 252.45,212.64" fill="#00b400"/>
<polygon points="262.90,208.55 265.05,212.64 260.75,212.64" fill="#00b400"/>
<polygon points="271.20,203.24 273.35,207.33 269.05,207.33" fill="#00b400"/>
<polygon points="279.50,203.24 281.65,207.33 277.35,207.33" fill="#00b400"/>
<polygon points="287.80,203.24 289.95,207.33 285.65,207.33" fill="#00b400"/>
<polygon points="296.10,201.12 298.25,205.21 293.95,205.21" fill="#00b400"/>
<polygon points="304.40,195.81 306.55,199.90 302.25,199.90" fill="#00b400"/>
<polygon points="179.90,208.89 182.05,212.98 177.75,212.98" fill="#00b400"/>
<polygon points="188.20,209.06 190.35,213.15 186.05,213.15" fill="#00b400"/>
<polygon points="196.50,209.06 198.65,213.15 194.35,213.15" fill="#00b400"/>
<polygon points="204.80,209.06 206.95,213.15 202.65,213.15" fill="#00b400"/>
<polygon points="213.10,209.06 215.25,213.15 210.95,213.15" fill="#00b400"/>
<polygon points="221.40,209.06 223.55,213.15 219.25,213.15" fill="#00b400"/>
<polygon points="229.70,209.06 231.85,213.15 227.55,213.15" fill="#00b400"/>
<polygon points="238.00,208.55 240.15,212.64 235.85,212.64" fill="#00b400"/>
<polygon points="246.30,208.55 248.45,212.64 244.15,212.64" fill="#00b400"/>
<polygon points="254.60,208.55 256.75,212.64 252.45,212.64" fill="#00b400"/>
<polygon points="262.90,208.55 265.05,212.64 260.75,212.64" fill="#00b400"/>
<text x="373.90" y="113.30" font-size="8.4" text-anchor="start" fill="#111" textLength="21.50" lengthAdjust="spacingAndGlyphs" >αPD-1</text>
<line x1="323.40" y1="124.70" x2="323.40" y2="211.70" stroke="#333" stroke-width="0.8" />
<line x1="323.40" y1="211.30" x2="453.50" y2="211.30" stroke="#333" stroke-width="0.8" />
<line x1="322.10" y1="211.30" x2="323.40" y2="211.30" stroke="#333" stroke-width="0.7" />
<text x="318.90" y="213.15" font-size="5.4" text-anchor="end" fill="#111" font-weight="bold" >0</text>
<line x1="322.10" y1="194.08" x2="323.40" y2="194.08" stroke="#333" stroke-width="0.7" />
<text x="320.90" y="195.93" font-size="5.4" text-anchor="end" fill="#111" font-weight="bold" >500</text>
<line x1="322.10" y1="176.86" x2="323.40" y2="176.86" stroke="#333" stroke-width="0.7" />
<text x="320.90" y="178.71" font-size="5.4" text-anchor="end" fill="#111" font-weight="bold" >1000</text>
<line x1="322.10" y1="159.64" x2="323.40" y2="159.64" stroke="#333" stroke-width="0.7" />
<text x="320.90" y="161.49" font-size="5.4" text-anchor="end" fill="#111" font-weight="bold" >1500</text>
<line x1="322.10" y1="142.42" x2="323.40" y2="142.42" stroke="#333" stroke-width="0.7" />
<text x="320.90" y="144.27" font-size="5.4" text-anchor="end" fill="#111" font-weight="bold" >2000</text>
<line x1="322.10" y1="125.20" x2="323.40" y2="125.20" stroke="#333" stroke-width="0.7" />
<text x="320.90" y="127.05" font-size="5.4" text-anchor="end" fill="#111" font-weight="bold" >2500</text>
<line x1="325.60" y1="211.30" x2="325.60" y2="213.10" stroke="#333" stroke-width="0.6" />
<line x1="333.96" y1="211.30" x2="333.96" y2="213.10" stroke="#333" stroke-width="0.6" />
<line x1="342.32" y1="211.30" x2="342.32" y2="213.10" stroke="#333" stroke-width="0.6" />
<line x1="350.68" y1="211.30" x2="350.68" y2="213.10" stroke="#333" stroke-width="0.6" />
<line x1="359.04" y1="211.30" x2="359.04" y2="213.10" stroke="#333" stroke-width="0.6" />
<line x1="367.40" y1="211.30" x2="367.40" y2="213.10" stroke="#333" stroke-width="0.6" />
<line x1="375.76" y1="211.30" x2="375.76" y2="213.10" stroke="#333" stroke-width="0.6" />
<line x1="384.12" y1="211.30" x2="384.12" y2="213.10" stroke="#333" stroke-width="0.6" />
<line x1="392.48" y1="211.30" x2="392.48" y2="213.10" stroke="#333" stroke-width="0.6" />
<line x1="400.84" y1="211.30" x2="400.84" y2="213.10" stroke="#333" stroke-width="0.6" />
<line x1="409.20" y1="211.30" x2="409.20" y2="213.10" stroke="#333" stroke-width="0.6" />
<line x1="417.56" y1="211.30" x2="417.56" y2="213.10" stroke="#333" stroke-width="0.6" />
<line x1="425.92" y1="211.30" x2="425.92" y2="213.10" stroke="#333" stroke-width="0.6" />
<line x1="434.28" y1="211.30" x2="434.28" y2="213.10" stroke="#333" stroke-width="0.6" />
<line x1="442.64" y1="211.30" x2="442.64" y2="213.10" stroke="#333" stroke-width="0.6" />
<line x1="451.00" y1="211.30" x2="451.00" y2="213.10" stroke="#333" stroke-width="0.6" />
<text x="325.60" y="220.90" font-size="5.4" text-anchor="middle" fill="#111" font-weight="bold" >5</text>
<text x="350.68" y="220.90" font-size="5.4" text-anchor="middle" fill="#111" font-weight="bold" >11</text>
<text x="375.76" y="220.90" font-size="5.4" text-anchor="middle" fill="#111" font-weight="bold" >17</text>
<text x="400.84" y="220.90" font-size="5.4" text-anchor="middle" fill="#111" font-weight="bold" >23</text>
<text x="425.92" y="220.90" font-size="5.4" text-anchor="middle" fill="#111" font-weight="bold" >29</text>
<text x="451.00" y="220.90" font-size="5.4" text-anchor="middle" fill="#111" font-weight="bold" >35</text>
<line x1="323.40" y1="159.64" x2="453.50" y2="159.64" stroke="#e03030" stroke-width="1.0" stroke-dasharray="3.2 2.4"/>
<polyline points="325.60,206.48 333.96,206.82 342.32,206.82 350.68,199.49 359.04,191.43 367.40,181.41 375.76,188.36 384.12,182.82 392.48,171.01 400.84,155.44" fill="none" stroke="#111" stroke-width="0.72" />
<polyline points="325.60,206.84 333.96,207.17 342.32,207.17 350.68,204.41 359.04,200.97 367.40,192.25 375.76,192.25 384.12,190.46 392.48,181.41 400.84,178.65 409.20,162.64 417.56,155.30" fill="none" stroke="#111" stroke-width="0.72" />
<polyline points="325.60,207.20 333.96,207.51 342.32,207.51 350.68,206.13 359.04,202.69 367.40,197.39 375.76,198.56 384.12,192.53 392.48,187.67 400.84,185.61 409.20,177.24 417.56,164.46 425.92,156.68" fill="none" stroke="#111" stroke-width="0.72" />
<polyline points="325.60,207.56 333.96,207.86 342.32,207.86 350.68,207.17 359.04,204.41 367.40,200.97 375.76,200.97 384.12,198.11 392.48,196.01 400.84,191.43 409.20,186.99 417.56,180.72 425.92,171.69 434.28,136.67" fill="none" stroke="#111" stroke-width="0.72" />
<polyline points="325.60,207.92 333.96,208.20 342.32,208.20 350.68,207.86 359.04,206.13 367.40,202.69 375.76,202.69 384.12,200.97 392.48,198.11 400.84,196.70 409.20,192.53 417.56,188.36 425.92,179.34 434.28,153.61 442.64,153.61 451.00,159.88" fill="none" stroke="#111" stroke-width="0.72" />
<polyline points="325.60,208.28 333.96,208.54 342.32,208.54 350.68,208.54 359.04,207.17 367.40,204.41 375.76,204.41 384.12,202.69 392.48,200.97 400.84,199.25 409.20,199.49 417.56,199.49 425.92,185.61 434.28,161.95 442.64,159.88 451.00,163.36" fill="none" stroke="#111" stroke-width="0.72" />
<polyline points="325.60,208.64 333.96,208.89 342.32,208.89 350.68,209.23 359.04,207.86 367.40,206.13 375.76,206.13 384.12,204.41 392.48,202.69 400.84,200.97 409.20,203.72 417.56,200.97 425.92,170.32 434.28,167.53 442.64,175.86 451.00,171.69" fill="none" stroke="#111" stroke-width="0.72" />
<polyline points="325.60,209.00 333.96,209.23 342.32,209.23 350.68,209.58 359.04,208.54 367.40,207.17 375.76,207.17 384.12,206.13 392.48,205.10 400.84,205.10 409.20,204.41 417.56,202.69 425.92,193.91 434.28,181.41 442.64,184.20 451.00,170.32" fill="none" stroke="#111" stroke-width="0.72" />
<polyline points="325.60,209.36 333.96,209.58 342.32,209.58 350.68,209.92 359.04,209.23 367.40,207.86 375.76,207.86 384.12,207.86 392.48,207.86 400.84,207.86 409.20,206.13 417.56,205.79 425.92,198.11 434.28,190.46 442.64,189.78 451.00,173.07" fill="none" stroke="#111" stroke-width="0.72" />
<polyline points="325.60,209.72 333.96,209.92 342.32,209.92 350.68,210.27 359.04,209.58 367.40,209.23 375.76,209.23 384.12,208.54 392.48,208.54 400.84,208.54 409.20,207.86 417.56,206.13 425.92,202.35 434.28,194.63 442.64,196.01 451.00,180.72" fill="none" stroke="#111" stroke-width="0.72" />
<polyline points="325.60,210.08 333.96,210.27 342.32,210.27 350.68,210.61 359.04,210.27 367.40,209.58 375.76,209.58 384.12,209.58 392.48,209.23 400.84,209.23 409.20,208.54 417.56,207.86 425.92,206.48 434.28,199.49 442.64,194.08 451.00,189.33" fill="none" stroke="#111" stroke-width="0.72" />
<polyline points="325.60,210.44 333.96,210.61 342.32,210.61 350.68,210.61 359.04,210.61 367.40,210.27 375.76,210.27 384.12,210.27 392.48,209.92 400.84,209.92 409.20,209.58 417.56,208.54 425.92,206.48 434.28,203.38 442.64,205.03 451.00,198.39" fill="none" stroke="#111" stroke-width="0.72" />
<rect x="323.90" y="204.78" width="3.40" height="3.40" fill="#0000ff"/>
<rect x="332.26" y="205.12" width="3.40" height="3.40" fill="#0000ff"/>
<rect x="340.62" y="205.12" width="3.40" height="3.40" fill="#0000ff"/>
<rect x="348.98" y="197.79" width="3.40" height="3.40" fill="#0000ff"/>
<rect x="357.34" y="189.73" width="3.40" height="3.40" fill="#0000ff"/>
<rect x="365.70" y="179.71" width="3.40" height="3.40" fill="#0000ff"/>
<rect x="374.06" y="186.66" width="3.40" height="3.40" fill="#0000ff"/>
<rect x="382.42" y="181.12" width="3.40" height="3.40" fill="#0000ff"/>
<rect x="390.78" y="169.31" width="3.40" height="3.40" fill="#0000ff"/>
<rect x="399.14" y="153.74" width="3.40" height="3.40" fill="#0000ff"/>
<rect x="323.90" y="205.14" width="3.40" height="3.40" fill="#0000ff"/>
<rect x="332.26" y="205.47" width="3.40" height="3.40" fill="#0000ff"/>
<rect x="340.62" y="205.47" width="3.40" height="3.40" fill="#0000ff"/>
<rect x="348.98" y="202.71" width="3.40" height="3.40" fill="#0000ff"/>
<rect x="357.34" y="199.27" width="3.40" height="3.40" fill="#0000ff"/>
<rect x="365.70" y="190.55" width="3.40" height="3.40" fill="#0000ff"/>
<rect x="374.06" y="190.55" width="3.40" height="3.40" fill="#0000ff"/>
<rect x="382.42" y="188.76" width="3.40" height="3.40" fill="#0000ff"/>
<rect x="390.78" y="179.71" width="3.40" height="3.40" fill="#0000ff"/>
<rect x="399.14" y="176.95" width="3.40" height="3.40" fill="#0000ff"/>
<rect x="407.50" y="160.94" width="3.40" height="3.40" fill="#0000ff"/>
<rect x="415.86" y="153.60" width="3.40" height="3.40" fill="#0000ff"/>
<rect x="323.90" y="205.50" width="3.40" height="3.40" fill="#0000ff"/>
<rect x="332.26" y="205.81" width="3.40" height="3.40" fill="#0000ff"/>
<rect x="340.62" y="205.81" width="3.40" height="3.40" fill="#0000ff"/>
<rect x="348.98" y="204.43" width="3.40" height="3.40" fill="#0000ff"/>
<rect x="357.34" y="200.99" width="3.40" height="3.40" fill="#0000ff"/>
<rect x="365.70" y="195.69" width="3.40" height="3.40" fill="#0000ff"/>
<rect x="374.06" y="196.86" width="3.40" height="3.40" fill="#0000ff"/>
<rect x="382.42" y="190.83" width="3.40" height="3.40" fill="#0000ff"/>
<rect x="390.78" y="185.97" width="3.40" height="3.40" fill="#0000ff"/>
<rect x="399.14" y="183.91" width="3.40" height="3.40" fill="#0000ff"/>
<rect x="407.50" y="175.54" width="3.40" height="3.40" fill="#0000ff"/>
<rect x="415.86" y="162.76" width="3.40" height="3.40" fill="#0000ff"/>
<rect x="424.22" y="154.98" width="3.40" height="3.40" fill="#0000ff"/>
<rect x="323.90" y="205.86" width="3.40" height="3.40" fill="#0000ff"/>
<rect x="332.26" y="206.16" width="3.40" height="3.40" fill="#0000ff"/>
<rect x="340.62" y="206.16" width="3.40" height="3.40" fill="#0000ff"/>
<rect x="348.98" y="205.47" width="3.40" height="3.40" fill="#0000ff"/>
<rect x="357.34" y="202.71" width="3.40" height="3.40" fill="#0000ff"/>
<rect x="365.70" y="199.27" width="3.40" height="3.40" fill="#0000ff"/>
<rect x="374.06" y="199.27" width="3.40" height="3.40" fill="#0000ff"/>
<rect x="382.42" y="196.41" width="3.40" height="3.40" fill="#0000ff"/>
<rect x="390.78" y="194.31" width="3.40" height="3.40" fill="#0000ff"/>
<rect x="399.14" y="189.73" width="3.40" height="3.40" fill="#0000ff"/>
<rect x="407.50" y="185.29" width="3.40" height="3.40" fill="#0000ff"/>
<rect x="415.86" y="179.02" width="3.40" height="3.40" fill="#0000ff"/>
<rect x="424.22" y="169.99" width="3.40" height="3.40" fill="#0000ff"/>
<rect x="432.58" y="134.97" width="3.40" height="3.40" fill="#0000ff"/>
<rect x="323.90" y="206.22" width="3.40" height="3.40" fill="#0000ff"/>
<rect x="332.26" y="206.50" width="3.40" height="3.40" fill="#0000ff"/>
<rect x="340.62" y="206.50" width="3.40" height="3.40" fill="#0000ff"/>
<rect x="348.98" y="206.16" width="3.40" height="3.40" fill="#0000ff"/>
<rect x="357.34" y="204.43" width="3.40" height="3.40" fill="#0000ff"/>
<rect x="365.70" y="200.99" width="3.40" height="3.40" fill="#0000ff"/>
<rect x="374.06" y="200.99" width="3.40" height="3.40" fill="#0000ff"/>
<rect x="382.42" y="199.27" width="3.40" height="3.40" fill="#0000ff"/>
<rect x="390.78" y="196.41" width="3.40" height="3.40" fill="#0000ff"/>
<rect x="399.14" y="195.00" width="3.40" height="3.40" fill="#0000ff"/>
<rect x="407.50" y="190.83" width="3.40" height="3.40" fill="#0000ff"/>
<rect x="415.86" y="186.66" width="3.40" height="3.40" fill="#0000ff"/>
<rect x="424.22" y="177.64" width="3.40" height="3.40" fill="#0000ff"/>
<rect x="432.58" y="151.91" width="3.40" height="3.40" fill="#0000ff"/>
<rect x="440.94" y="151.91" width="3.40" height="3.40" fill="#0000ff"/>
<rect x="449.30" y="158.18" width="3.40" height="3.40" fill="#0000ff"/>
<rect x="323.90" y="206.58" width="3.40" height="3.40" fill="#0000ff"/>
<rect x="332.26" y="206.84" width="3.40" height="3.40" fill="#0000ff"/>
<rect x="340.62" y="206.84" width="3.40" height="3.40" fill="#0000ff"/>
<rect x="348.98" y="206.84" width="3.40" height="3.40" fill="#0000ff"/>
<rect x="357.34" y="205.47" width="3.40" height="3.40" fill="#0000ff"/>
<rect x="365.70" y="202.71" width="3.40" height="3.40" fill="#0000ff"/>
<rect x="374.06" y="202.71" width="3.40" height="3.40" fill="#0000ff"/>
<rect x="382.42" y="200.99" width="3.40" height="3.40" fill="#0000ff"/>
<rect x="390.78" y="199.27" width="3.40" height="3.40" fill="#0000ff"/>
<rect x="399.14" y="197.55" width="3.40" height="3.40" fill="#0000ff"/>
<rect x="407.50" y="197.79" width="3.40" height="3.40" fill="#0000ff"/>
<rect x="415.86" y="197.79" width="3.40" height="3.40" fill="#0000ff"/>
<rect x="424.22" y="183.91" width="3.40" height="3.40" fill="#0000ff"/>
<rect x="432.58" y="160.25" width="3.40" height="3.40" fill="#0000ff"/>
<rect x="440.94" y="158.18" width="3.40" height="3.40" fill="#0000ff"/>
<rect x="449.30" y="161.66" width="3.40" height="3.40" fill="#0000ff"/>
<rect x="323.90" y="206.94" width="3.40" height="3.40" fill="#0000ff"/>
<rect x="332.26" y="207.19" width="3.40" height="3.40" fill="#0000ff"/>
<rect x="340.62" y="207.19" width="3.40" height="3.40" fill="#0000ff"/>
<rect x="348.98" y="207.53" width="3.40" height="3.40" fill="#0000ff"/>
<rect x="357.34" y="206.16" width="3.40" height="3.40" fill="#0000ff"/>
<rect x="365.70" y="204.43" width="3.40" height="3.40" fill="#0000ff"/>
<rect x="374.06" y="204.43" width="3.40" height="3.40" fill="#0000ff"/>
<rect x="382.42" y="202.71" width="3.40" height="3.40" fill="#0000ff"/>
<rect x="390.78" y="200.99" width="3.40" height="3.40" fill="#0000ff"/>
<rect x="399.14" y="199.27" width="3.40" height="3.40" fill="#0000ff"/>
<rect x="407.50" y="202.02" width="3.40" height="3.40" fill="#0000ff"/>
<rect x="415.86" y="199.27" width="3.40" height="3.40" fill="#0000ff"/>
<rect x="424.22" y="168.62" width="3.40" height="3.40" fill="#0000ff"/>
<rect x="432.58" y="165.83" width="3.40" height="3.40" fill="#0000ff"/>
<rect x="440.94" y="174.16" width="3.40" height="3.40" fill="#0000ff"/>
<rect x="449.30" y="169.99" width="3.40" height="3.40" fill="#0000ff"/>
<rect x="323.90" y="207.30" width="3.40" height="3.40" fill="#0000ff"/>
<rect x="332.26" y="207.53" width="3.40" height="3.40" fill="#0000ff"/>
<rect x="340.62" y="207.53" width="3.40" height="3.40" fill="#0000ff"/>
<rect x="348.98" y="207.88" width="3.40" height="3.40" fill="#0000ff"/>
<rect x="357.34" y="206.84" width="3.40" height="3.40" fill="#0000ff"/>
<rect x="365.70" y="205.47" width="3.40" height="3.40" fill="#0000ff"/>
<rect x="374.06" y="205.47" width="3.40" height="3.40" fill="#0000ff"/>
<rect x="382.42" y="204.43" width="3.40" height="3.40" fill="#0000ff"/>
<rect x="390.78" y="203.40" width="3.40" height="3.40" fill="#0000ff"/>
<rect x="399.14" y="203.40" width="3.40" height="3.40" fill="#0000ff"/>
<rect x="407.50" y="202.71" width="3.40" height="3.40" fill="#0000ff"/>
<rect x="415.86" y="200.99" width="3.40" height="3.40" fill="#0000ff"/>
<rect x="424.22" y="192.21" width="3.40" height="3.40" fill="#0000ff"/>
<rect x="432.58" y="179.71" width="3.40" height="3.40" fill="#0000ff"/>
<rect x="440.94" y="182.50" width="3.40" height="3.40" fill="#0000ff"/>
<rect x="449.30" y="168.62" width="3.40" height="3.40" fill="#0000ff"/>
<rect x="323.90" y="207.66" width="3.40" height="3.40" fill="#0000ff"/>
<rect x="332.26" y="207.88" width="3.40" height="3.40" fill="#0000ff"/>
<rect x="340.62" y="207.88" width="3.40" height="3.40" fill="#0000ff"/>
<rect x="348.98" y="208.22" width="3.40" height="3.40" fill="#0000ff"/>
<rect x="357.34" y="207.53" width="3.40" height="3.40" fill="#0000ff"/>
<rect x="365.70" y="206.16" width="3.40" height="3.40" fill="#0000ff"/>
<rect x="374.06" y="206.16" width="3.40" height="3.40" fill="#0000ff"/>
<rect x="382.42" y="206.16" width="3.40" height="3.40" fill="#0000ff"/>
<rect x="390.78" y="206.16" width="3.40" height="3.40" fill="#0000ff"/>
<rect x="399.14" y="206.16" width="3.40" height="3.40" fill="#0000ff"/>
<rect x="407.50" y="204.43" width="3.40" height="3.40" fill="#0000ff"/>
<rect x="415.86" y="204.09" width="3.40" height="3.40" fill="#0000ff"/>
<rect x="424.22" y="196.41" width="3.40" height="3.40" fill="#0000ff"/>
<rect x="432.58" y="188.76" width="3.40" height="3.40" fill="#0000ff"/>
<rect x="440.94" y="188.08" width="3.40" height="3.40" fill="#0000ff"/>
<rect x="449.30" y="171.37" width="3.40" height="3.40" fill="#0000ff"/>
<rect x="323.90" y="208.02" width="3.40" height="3.40" fill="#0000ff"/>
<rect x="332.26" y="208.22" width="3.40" height="3.40" fill="#0000ff"/>
<rect x="340.62" y="208.22" width="3.40" height="3.40" fill="#0000ff"/>
<rect x="348.98" y="208.57" width="3.40" height="3.40" fill="#0000ff"/>
<rect x="357.34" y="207.88" width="3.40" height="3.40" fill="#0000ff"/>
<rect x="365.70" y="207.53" width="3.40" height="3.40" fill="#0000ff"/>
<rect x="374.06" y="207.53" width="3.40" height="3.40" fill="#0000ff"/>
<rect x="382.42" y="206.84" width="3.40" height="3.40" fill="#0000ff"/>
<rect x="390.78" y="206.84" width="3.40" height="3.40" fill="#0000ff"/>
<rect x="399.14" y="206.84" width="3.40" height="3.40" fill="#0000ff"/>
<rect x="407.50" y="206.16" width="3.40" height="3.40" fill="#0000ff"/>
<rect x="415.86" y="204.43" width="3.40" height="3.40" fill="#0000ff"/>
<rect x="424.22" y="200.65" width="3.40" height="3.40" fill="#0000ff"/>
<rect x="432.58" y="192.93" width="3.40" height="3.40" fill="#0000ff"/>
<rect x="440.94" y="194.31" width="3.40" height="3.40" fill="#0000ff"/>
<rect x="449.30" y="179.02" width="3.40" height="3.40" fill="#0000ff"/>
<rect x="323.90" y="208.38" width="3.40" height="3.40" fill="#0000ff"/>
<rect x="332.26" y="208.57" width="3.40" height="3.40" fill="#0000ff"/>
<rect x="340.62" y="208.57" width="3.40" height="3.40" fill="#0000ff"/>
<rect x="348.98" y="208.91" width="3.40" height="3.40" fill="#0000ff"/>
<rect x="357.34" y="208.57" width="3.40" height="3.40" fill="#0000ff"/>
<rect x="365.70" y="207.88" width="3.40" height="3.40" fill="#0000ff"/>
<rect x="374.06" y="207.88" width="3.40" height="3.40" fill="#0000ff"/>
<rect x="382.42" y="207.88" width="3.40" height="3.40" fill="#0000ff"/>
<rect x="390.78" y="207.53" width="3.40" height="3.40" fill="#0000ff"/>
<rect x="399.14" y="207.53" width="3.40" height="3.40" fill="#0000ff"/>
<rect x="407.50" y="206.84" width="3.40" height="3.40" fill="#0000ff"/>
<rect x="415.86" y="206.16" width="3.40" height="3.40" fill="#0000ff"/>
<rect x="424.22" y="204.78" width="3.40" height="3.40" fill="#0000ff"/>
<rect x="432.58" y="197.79" width="3.40" height="3.40" fill="#0000ff"/>
<rect x="440.94" y="192.38" width="3.40" height="3.40" fill="#0000ff"/>
<rect x="449.30" y="187.63" width="3.40" height="3.40" fill="#0000ff"/>
<rect x="323.90" y="208.74" width="3.40" height="3.40" fill="#0000ff"/>
<rect x="332.26" y="208.91" width="3.40" height="3.40" fill="#0000ff"/>
<rect x="340.62" y="208.91" width="3.40" height="3.40" fill="#0000ff"/>
<rect x="348.98" y="208.91" width="3.40" height="3.40" fill="#0000ff"/>
<rect x="357.34" y="208.91" width="3.40" height="3.40" fill="#0000ff"/>
<rect x="365.70" y="208.57" width="3.40" height="3.40" fill="#0000ff"/>
<rect x="374.06" y="208.57" width="3.40" height="3.40" fill="#0000ff"/>
<rect x="382.42" y="208.57" width="3.40" height="3.40" fill="#0000ff"/>
<rect x="390.78" y="208.22" width="3.40" height="3.40" fill="#0000ff"/>
<rect x="399.14" y="208.22" width="3.40" height="3.40" fill="#0000ff"/>
<rect x="407.50" y="207.88" width="3.40" height="3.40" fill="#0000ff"/>
<rect x="415.86" y="206.84" width="3.40" height="3.40" fill="#0000ff"/>
<rect x="424.22" y="204.78" width="3.40" height="3.40" fill="#0000ff"/>
<rect x="432.58" y="201.68" width="3.40" height="3.40" fill="#0000ff"/>
<rect x="440.94" y="203.33" width="3.40" height="3.40" fill="#0000ff"/>
<rect x="449.30" y="196.69" width="3.40" height="3.40" fill="#0000ff"/>
<text x="498.70" y="112.90" font-size="8.4" text-anchor="start" fill="#111" textLength="66.40" lengthAdjust="spacingAndGlyphs" >ITK inhibitor+αPD-1</text>
<line x1="470.20" y1="124.90" x2="470.20" y2="211.80" stroke="#333" stroke-width="0.8" />
<line x1="470.20" y1="211.40" x2="599.00" y2="211.40" stroke="#333" stroke-width="0.8" />
<line x1="468.90" y1="211.40" x2="470.20" y2="211.40" stroke="#333" stroke-width="0.7" />
<text x="465.70" y="213.25" font-size="5.4" text-anchor="end" fill="#111" font-weight="bold" >0</text>
<line x1="468.90" y1="194.20" x2="470.20" y2="194.20" stroke="#333" stroke-width="0.7" />
<text x="467.70" y="196.05" font-size="5.4" text-anchor="end" fill="#111" font-weight="bold" >500</text>
<line x1="468.90" y1="177.00" x2="470.20" y2="177.00" stroke="#333" stroke-width="0.7" />
<text x="467.70" y="178.85" font-size="5.4" text-anchor="end" fill="#111" font-weight="bold" >1000</text>
<line x1="468.90" y1="159.80" x2="470.20" y2="159.80" stroke="#333" stroke-width="0.7" />
<text x="467.70" y="161.65" font-size="5.4" text-anchor="end" fill="#111" font-weight="bold" >1500</text>
<line x1="468.90" y1="142.60" x2="470.20" y2="142.60" stroke="#333" stroke-width="0.7" />
<text x="467.70" y="144.45" font-size="5.4" text-anchor="end" fill="#111" font-weight="bold" >2000</text>
<line x1="468.90" y1="125.40" x2="470.20" y2="125.40" stroke="#333" stroke-width="0.7" />
<text x="467.70" y="127.25" font-size="5.4" text-anchor="end" fill="#111" font-weight="bold" >2500</text>
<line x1="472.30" y1="211.40" x2="472.30" y2="213.20" stroke="#333" stroke-width="0.6" />
<line x1="480.63" y1="211.40" x2="480.63" y2="213.20" stroke="#333" stroke-width="0.6" />
<line x1="488.96" y1="211.40" x2="488.96" y2="213.20" stroke="#333" stroke-width="0.6" />
<line x1="497.29" y1="211.40" x2="497.29" y2="213.20" stroke="#333" stroke-width="0.6" />
<line x1="505.62" y1="211.40" x2="505.62" y2="213.20" stroke="#333" stroke-width="0.6" />
<line x1="513.95" y1="211.40" x2="513.95" y2="213.20" stroke="#333" stroke-width="0.6" />
<line x1="522.28" y1="211.40" x2="522.28" y2="213.20" stroke="#333" stroke-width="0.6" />
<line x1="530.61" y1="211.40" x2="530.61" y2="213.20" stroke="#333" stroke-width="0.6" />
<line x1="538.94" y1="211.40" x2="538.94" y2="213.20" stroke="#333" stroke-width="0.6" />
<line x1="547.27" y1="211.40" x2="547.27" y2="213.20" stroke="#333" stroke-width="0.6" />
<line x1="555.60" y1="211.40" x2="555.60" y2="213.20" stroke="#333" stroke-width="0.6" />
<line x1="563.93" y1="211.40" x2="563.93" y2="213.20" stroke="#333" stroke-width="0.6" />
<line x1="572.26" y1="211.40" x2="572.26" y2="213.20" stroke="#333" stroke-width="0.6" />
<line x1="580.59" y1="211.40" x2="580.59" y2="213.20" stroke="#333" stroke-width="0.6" />
<line x1="588.92" y1="211.40" x2="588.92" y2="213.20" stroke="#333" stroke-width="0.6" />
<line x1="597.25" y1="211.40" x2="597.25" y2="213.20" stroke="#333" stroke-width="0.6" />
<text x="472.30" y="220.90" font-size="5.4" text-anchor="middle" fill="#111" font-weight="bold" >5</text>
<text x="497.29" y="220.90" font-size="5.4" text-anchor="middle" fill="#111" font-weight="bold" >11</text>
<text x="522.28" y="220.90" font-size="5.4" text-anchor="middle" fill="#111" font-weight="bold" >17</text>
<text x="547.27" y="220.90" font-size="5.4" text-anchor="middle" fill="#111" font-weight="bold" >23</text>
<text x="572.26" y="220.90" font-size="5.4" text-anchor="middle" fill="#111" font-weight="bold" >29</text>
<text x="597.25" y="220.90" font-size="5.4" text-anchor="middle" fill="#111" font-weight="bold" >35</text>
<line x1="470.20" y1="159.80" x2="599.00" y2="159.80" stroke="#f08080" stroke-width="1.0" stroke-dasharray="3.2 2.4"/>
<polyline points="472.30,208.30 480.63,206.58 488.96,206.93 497.29,204.52 505.62,203.38 513.95,198.05 522.28,193.82 530.61,185.39 538.94,180.06 547.27,185.39 555.60,167.82 563.93,171.77 572.26,173.01 580.59,161.21 588.92,133.66" fill="none" stroke="#111" stroke-width="0.72" />
<polyline points="472.30,208.48 480.63,206.96 488.96,207.27 497.29,205.21 505.62,204.52 513.95,199.36 522.28,197.64 530.61,192.41 538.94,180.06 547.27,176.24 555.60,147.86" fill="none" stroke="#111" stroke-width="0.72" />
<polyline points="472.30,208.48 480.63,207.33 488.96,207.62 497.29,206.24 505.62,205.21 513.95,201.08 522.28,199.36 530.61,197.64 538.94,197.33 547.27,197.33 555.60,194.54 563.93,199.46 572.26,195.92 580.59,182.57 588.92,179.06 597.25,168.54" fill="none" stroke="#111" stroke-width="0.72" />
<polyline points="472.30,208.65 480.63,207.71 488.96,207.96 497.29,207.27 505.62,206.24 513.95,202.80 522.28,201.08 530.61,201.08 538.94,202.80 547.27,202.80 555.60,197.64 563.93,186.12 572.26,181.88 580.59,164.31 588.92,151.37 597.25,151.37" fill="none" stroke="#111" stroke-width="0.72" />
<polyline points="472.30,208.65 480.63,208.09 488.96,208.30 497.29,207.96 505.62,207.27 513.95,204.52 522.28,202.80 530.61,202.80 538.94,204.52 547.27,204.52 555.60,199.36 563.93,189.62 572.26,187.49 580.59,173.01 588.92,167.54 597.25,159.66" fill="none" stroke="#111" stroke-width="0.72" />
<polyline points="472.30,208.65 480.63,208.46 488.96,208.65 497.29,208.30 505.62,207.96 513.95,206.24 522.28,204.52 530.61,204.52 538.94,206.24 547.27,206.24 555.60,202.80 563.93,195.92 572.26,190.76 580.59,185.39 588.92,182.16 597.25,170.12" fill="none" stroke="#111" stroke-width="0.72" />
<polyline points="472.30,208.82 480.63,208.84 488.96,208.99 497.29,208.65 505.62,208.30 513.95,207.27 522.28,206.24 530.61,206.24 538.94,207.27 547.27,207.27 555.60,205.21 563.93,202.80 572.26,197.64 580.59,187.32 588.92,183.19 597.25,174.14" fill="none" stroke="#111" stroke-width="0.72" />
<polyline points="472.30,208.82 480.63,209.21 488.96,209.34 497.29,208.99 505.62,208.65 513.95,207.96 522.28,207.27 530.61,207.27 538.94,207.96 547.27,207.96 555.60,206.24 563.93,205.21 572.26,203.66 580.59,200.15 588.92,193.13 597.25,196.64" fill="none" stroke="#111" stroke-width="0.72" />
<polyline points="472.30,208.82 480.63,209.59 488.96,209.68 497.29,209.34 505.62,208.99 513.95,208.65 522.28,207.96 530.61,207.96 538.94,208.65 547.27,208.65 555.60,207.96 563.93,207.27 572.26,206.24 580.59,205.21 588.92,195.92 597.25,192.41" fill="none" stroke="#111" stroke-width="0.72" />
<polyline points="472.30,208.99 480.63,209.96 488.96,210.02 497.29,209.68 505.62,209.34 513.95,208.99 522.28,208.65 530.61,208.65 538.94,209.34 547.27,209.34 555.60,208.65 563.93,209.30 572.26,209.30 580.59,207.96 588.92,203.83 597.25,202.97" fill="none" stroke="#111" stroke-width="0.72" />
<polyline points="472.30,208.99 480.63,210.34 488.96,210.37 497.29,210.02 505.62,209.68 513.95,209.34 522.28,209.34 530.61,209.34 538.94,210.02 547.27,210.02 555.60,209.68 563.93,209.68 572.26,209.68 580.59,209.34 588.92,206.58 597.25,204.38" fill="none" stroke="#111" stroke-width="0.72" />
<polyline points="472.30,208.99 480.63,210.71 488.96,210.71 497.29,210.37 505.62,210.02 513.95,210.02 522.28,210.02 530.61,210.37 538.94,210.71 547.27,210.71 555.60,210.37 563.93,210.37 572.26,210.37 580.59,210.02 588.92,209.34 597.25,208.58" fill="none" stroke="#111" stroke-width="0.72" />
<circle cx="472.30" cy="208.30" r="1.35" fill="#ff0000"/>
<circle cx="480.63" cy="206.58" r="1.35" fill="#ff0000"/>
<circle cx="488.96" cy="206.93" r="1.35" fill="#ff0000"/>
<circle cx="497.29" cy="204.52" r="1.35" fill="#ff0000"/>
<circle cx="505.62" cy="203.38" r="1.35" fill="#ff0000"/>
<circle cx="513.95" cy="198.05" r="1.35" fill="#ff0000"/>
<circle cx="522.28" cy="193.82" r="1.35" fill="#ff0000"/>
<circle cx="530.61" cy="185.39" r="1.35" fill="#ff0000"/>
<circle cx="538.94" cy="180.06" r="1.35" fill="#ff0000"/>
<circle cx="547.27" cy="185.39" r="1.35" fill="#ff0000"/>
<circle cx="555.60" cy="167.82" r="1.35" fill="#ff0000"/>
<circle cx="563.93" cy="171.77" r="1.35" fill="#ff0000"/>
<circle cx="572.26" cy="173.01" r="1.35" fill="#ff0000"/>
<circle cx="580.59" cy="161.21" r="1.35" fill="#ff0000"/>
<circle cx="588.92" cy="133.66" r="1.35" fill="#ff0000"/>
<circle cx="472.30" cy="208.48" r="1.35" fill="#ff0000"/>
<circle cx="480.63" cy="206.96" r="1.35" fill="#ff0000"/>
<circle cx="488.96" cy="207.27" r="1.35" fill="#ff0000"/>
<circle cx="497.29" cy="205.21" r="1.35" fill="#ff0000"/>
<circle cx="505.62" cy="204.52" r="1.35" fill="#ff0000"/>
<circle cx="513.95" cy="199.36" r="1.35" fill="#ff0000"/>
<circle cx="522.28" cy="197.64" r="1.35" fill="#ff0000"/>
<circle cx="530.61" cy="192.41" r="1.35" fill="#ff0000"/>
<circle cx="538.94" cy="180.06" r="1.35" fill="#ff0000"/>
<circle cx="547.27" cy="176.24" r="1.35" fill="#ff0000"/>
<circle cx="555.60" cy="147.86" r="1.35" fill="#ff0000"/>
<circle cx="472.30" cy="208.48" r="1.35" fill="#ff0000"/>
<circle cx="480.63" cy="207.33" r="1.35" fill="#ff0000"/>
<circle cx="488.96" cy="207.62" r="1.35" fill="#ff0000"/>
<circle cx="497.29" cy="206.24" r="1.35" fill="#ff0000"/>
<circle cx="505.62" cy="205.21" r="1.35" fill="#ff0000"/>
<circle cx="513.95" cy="201.08" r="1.35" fill="#ff0000"/>
<circle cx="522.28" cy="199.36" r="1.35" fill="#ff0000"/>
<circle cx="530.61" cy="197.64" r="1.35" fill="#ff0000"/>
<circle cx="538.94" cy="197.33" r="1.35" fill="#ff0000"/>
<circle cx="547.27" cy="197.33" r="1.35" fill="#ff0000"/>
<circle cx="555.60" cy="194.54" r="1.35" fill="#ff0000"/>
<circle cx="563.93" cy="199.46" r="1.35" fill="#ff0000"/>
<circle cx="572.26" cy="195.92" r="1.35" fill="#ff0000"/>
<circle cx="580.59" cy="182.57" r="1.35" fill="#ff0000"/>
<circle cx="588.92" cy="179.06" r="1.35" fill="#ff0000"/>
<circle cx="597.25" cy="168.54" r="1.35" fill="#ff0000"/>
<circle cx="472.30" cy="208.65" r="1.35" fill="#ff0000"/>
<circle cx="480.63" cy="207.71" r="1.35" fill="#ff0000"/>
<circle cx="488.96" cy="207.96" r="1.35" fill="#ff0000"/>
<circle cx="497.29" cy="207.27" r="1.35" fill="#ff0000"/>
<circle cx="505.62" cy="206.24" r="1.35" fill="#ff0000"/>
<circle cx="513.95" cy="202.80" r="1.35" fill="#ff0000"/>
<circle cx="522.28" cy="201.08" r="1.35" fill="#ff0000"/>
<circle cx="530.61" cy="201.08" r="1.35" fill="#ff0000"/>
<circle cx="538.94" cy="202.80" r="1.35" fill="#ff0000"/>
<circle cx="547.27" cy="202.80" r="1.35" fill="#ff0000"/>
<circle cx="555.60" cy="197.64" r="1.35" fill="#ff0000"/>
<circle cx="563.93" cy="186.12" r="1.35" fill="#ff0000"/>
<circle cx="572.26" cy="181.88" r="1.35" fill="#ff0000"/>
<circle cx="580.59" cy="164.31" r="1.35" fill="#ff0000"/>
<circle cx="588.92" cy="151.37" r="1.35" fill="#ff0000"/>
<circle cx="597.25" cy="151.37" r="1.35" fill="#ff0000"/>
<circle cx="472.30" cy="208.65" r="1.35" fill="#ff0000"/>
<circle cx="480.63" cy="208.09" r="1.35" fill="#ff0000"/>
<circle cx="488.96" cy="208.30" r="1.35" fill="#ff0000"/>
<circle cx="497.29" cy="207.96" r="1.35" fill="#ff0000"/>
<circle cx="505.62" cy="207.27" r="1.35" fill="#ff0000"/>
<circle cx="513.95" cy="204.52" r="1.35" fill="#ff0000"/>
<circle cx="522.28" cy="202.80" r="1.35" fill="#ff0000"/>
<circle cx="530.61" cy="202.80" r="1.35" fill="#ff0000"/>
<circle cx="538.94" cy="204.52" r="1.35" fill="#ff0000"/>
<circle cx="547.27" cy="204.52" r="1.35" fill="#ff0000"/>
<circle cx="555.60" cy="199.36" r="1.35" fill="#ff0000"/>
<circle cx="563.93" cy="189.62" r="1.35" fill="#ff0000"/>
<circle cx="572.26" cy="187.49" r="1.35" fill="#ff0000"/>
<circle cx="580.59" cy="173.01" r="1.35" fill="#ff0000"/>
<circle cx="588.92" cy="167.54" r="1.35" fill="#ff0000"/>
<circle cx="597.25" cy="159.66" r="1.35" fill="#ff0000"/>
<circle cx="472.30" cy="208.65" r="1.35" fill="#ff0000"/>
<circle cx="480.63" cy="208.46" r="1.35" fill="#ff0000"/>
<circle cx="488.96" cy="208.65" r="1.35" fill="#ff0000"/>
<circle cx="497.29" cy="208.30" r="1.35" fill="#ff0000"/>
<circle cx="505.62" cy="207.96" r="1.35" fill="#ff0000"/>
<circle cx="513.95" cy="206.24" r="1.35" fill="#ff0000"/>
<circle cx="522.28" cy="204.52" r="1.35" fill="#ff0000"/>
<circle cx="530.61" cy="204.52" r="1.35" fill="#ff0000"/>
<circle cx="538.94" cy="206.24" r="1.35" fill="#ff0000"/>
<circle cx="547.27" cy="206.24" r="1.35" fill="#ff0000"/>
<circle cx="555.60" cy="202.80" r="1.35" fill="#ff0000"/>
<circle cx="563.93" cy="195.92" r="1.35" fill="#ff0000"/>
<circle cx="572.26" cy="190.76" r="1.35" fill="#ff0000"/>
<circle cx="580.59" cy="185.39" r="1.35" fill="#ff0000"/>
<circle cx="588.92" cy="182.16" r="1.35" fill="#ff0000"/>
<circle cx="597.25" cy="170.12" r="1.35" fill="#ff0000"/>
<circle cx="472.30" cy="208.82" r="1.35" fill="#ff0000"/>
<circle cx="480.63" cy="208.84" r="1.35" fill="#ff0000"/>
<circle cx="488.96" cy="208.99" r="1.35" fill="#ff0000"/>
<circle cx="497.29" cy="208.65" r="1.35" fill="#ff0000"/>
<circle cx="505.62" cy="208.30" r="1.35" fill="#ff0000"/>
<circle cx="513.95" cy="207.27" r="1.35" fill="#ff0000"/>
<circle cx="522.28" cy="206.24" r="1.35" fill="#ff0000"/>
<circle cx="530.61" cy="206.24" r="1.35" fill="#ff0000"/>
<circle cx="538.94" cy="207.27" r="1.35" fill="#ff0000"/>
<circle cx="547.27" cy="207.27" r="1.35" fill="#ff0000"/>
<circle cx="555.60" cy="205.21" r="1.35" fill="#ff0000"/>
<circle cx="563.93" cy="202.80" r="1.35" fill="#ff0000"/>
<circle cx="572.26" cy="197.64" r="1.35" fill="#ff0000"/>
<circle cx="580.59" cy="187.32" r="1.35" fill="#ff0000"/>
<circle cx="588.92" cy="183.19" r="1.35" fill="#ff0000"/>
<circle cx="597.25" cy="174.14" r="1.35" fill="#ff0000"/>
<circle cx="472.30" cy="208.82" r="1.35" fill="#ff0000"/>
<circle cx="480.63" cy="209.21" r="1.35" fill="#ff0000"/>
<circle cx="488.96" cy="209.34" r="1.35" fill="#ff0000"/>
<circle cx="497.29" cy="208.99" r="1.35" fill="#ff0000"/>
<circle cx="505.62" cy="208.65" r="1.35" fill="#ff0000"/>
<circle cx="513.95" cy="207.96" r="1.35" fill="#ff0000"/>
<circle cx="522.28" cy="207.27" r="1.35" fill="#ff0000"/>
<circle cx="530.61" cy="207.27" r="1.35" fill="#ff0000"/>
<circle cx="538.94" cy="207.96" r="1.35" fill="#ff0000"/>
<circle cx="547.27" cy="207.96" r="1.35" fill="#ff0000"/>
<circle cx="555.60" cy="206.24" r="1.35" fill="#ff0000"/>
<circle cx="563.93" cy="205.21" r="1.35" fill="#ff0000"/>
<circle cx="572.26" cy="203.66" r="1.35" fill="#ff0000"/>
<circle cx="580.59" cy="200.15" r="1.35" fill="#ff0000"/>
<circle cx="588.92" cy="193.13" r="1.35" fill="#ff0000"/>
<circle cx="597.25" cy="196.64" r="1.35" fill="#ff0000"/>
<circle cx="472.30" cy="208.82" r="1.35" fill="#ff0000"/>
<circle cx="480.63" cy="209.59" r="1.35" fill="#ff0000"/>
<circle cx="488.96" cy="209.68" r="1.35" fill="#ff0000"/>
<circle cx="497.29" cy="209.34" r="1.35" fill="#ff0000"/>
<circle cx="505.62" cy="208.99" r="1.35" fill="#ff0000"/>
<circle cx="513.95" cy="208.65" r="1.35" fill="#ff0000"/>
<circle cx="522.28" cy="207.96" r="1.35" fill="#ff0000"/>
<circle cx="530.61" cy="207.96" r="1.35" fill="#ff0000"/>
<circle cx="538.94" cy="208.65" r="1.35" fill="#ff0000"/>
<circle cx="547.27" cy="208.65" r="1.35" fill="#ff0000"/>
<circle cx="555.60" cy="207.96" r="1.35" fill="#ff0000"/>
<circle cx="563.93" cy="207.27" r="1.35" fill="#ff0000"/>
<circle cx="572.26" cy="206.24" r="1.35" fill="#ff0000"/>
<circle cx="580.59" cy="205.21" r="1.35" fill="#ff0000"/>
<circle cx="588.92" cy="195.92" r="1.35" fill="#ff0000"/>
<circle cx="597.25" cy="192.41" r="1.35" fill="#ff0000"/>
<circle cx="472.30" cy="208.99" r="1.35" fill="#ff0000"/>
<circle cx="480.63" cy="209.96" r="1.35" fill="#ff0000"/>
<circle cx="488.96" cy="210.02" r="1.35" fill="#ff0000"/>
<circle cx="497.29" cy="209.68" r="1.35" fill="#ff0000"/>
<circle cx="505.62" cy="209.34" r="1.35" fill="#ff0000"/>
<circle cx="513.95" cy="208.99" r="1.35" fill="#ff0000"/>
<circle cx="522.28" cy="208.65" r="1.35" fill="#ff0000"/>
<circle cx="530.61" cy="208.65" r="1.35" fill="#ff0000"/>
<circle cx="538.94" cy="209.34" r="1.35" fill="#ff0000"/>
<circle cx="547.27" cy="209.34" r="1.35" fill="#ff0000"/>
<circle cx="555.60" cy="208.65" r="1.35" fill="#ff0000"/>
<circle cx="563.93" cy="209.30" r="1.35" fill="#ff0000"/>
<circle cx="572.26" cy="209.30" r="1.35" fill="#ff0000"/>
<circle cx="580.59" cy="207.96" r="1.35" fill="#ff0000"/>
<circle cx="588.92" cy="203.83" r="1.35" fill="#ff0000"/>
<circle cx="597.25" cy="202.97" r="1.35" fill="#ff0000"/>
<circle cx="472.30" cy="208.99" r="1.35" fill="#ff0000"/>
<circle cx="480.63" cy="210.34" r="1.35" fill="#ff0000"/>
<circle cx="488.96" cy="210.37" r="1.35" fill="#ff0000"/>
<circle cx="497.29" cy="210.02" r="1.35" fill="#ff0000"/>
<circle cx="505.62" cy="209.68" r="1.35" fill="#ff0000"/>
<circle cx="513.95" cy="209.34" r="1.35" fill="#ff0000"/>
<circle cx="522.28" cy="209.34" r="1.35" fill="#ff0000"/>
<circle cx="530.61" cy="209.34" r="1.35" fill="#ff0000"/>
<circle cx="538.94" cy="210.02" r="1.35" fill="#ff0000"/>
<circle cx="547.27" cy="210.02" r="1.35" fill="#ff0000"/>
<circle cx="555.60" cy="209.68" r="1.35" fill="#ff0000"/>
<circle cx="563.93" cy="209.68" r="1.35" fill="#ff0000"/>
<circle cx="572.26" cy="209.68" r="1.35" fill="#ff0000"/>
<circle cx="580.59" cy="209.34" r="1.35" fill="#ff0000"/>
<circle cx="588.92" cy="206.58" r="1.35" fill="#ff0000"/>
<circle cx="597.25" cy="204.38" r="1.35" fill="#ff0000"/>
<circle cx="472.30" cy="208.99" r="1.35" fill="#ff0000"/>
<circle cx="480.63" cy="210.71" r="1.35" fill="#ff0000"/>
<circle cx="488.96" cy="210.71" r="1.35" fill="#ff0000"/>
<circle cx="497.29" cy="210.37" r="1.35" fill="#ff0000"/>
<circle cx="505.62" cy="210.02" r="1.35" fill="#ff0000"/>
<circle cx="513.95" cy="210.02" r="1.35" fill="#ff0000"/>
<circle cx="522.28" cy="210.02" r="1.35" fill="#ff0000"/>
<circle cx="530.61" cy="210.37" r="1.35" fill="#ff0000"/>
<circle cx="538.94" cy="210.71" r="1.35" fill="#ff0000"/>
<circle cx="547.27" cy="210.71" r="1.35" fill="#ff0000"/>
<circle cx="555.60" cy="210.37" r="1.35" fill="#ff0000"/>
<circle cx="563.93" cy="210.37" r="1.35" fill="#ff0000"/>
<circle cx="572.26" cy="210.37" r="1.35" fill="#ff0000"/>
<circle cx="580.59" cy="210.02" r="1.35" fill="#ff0000"/>
<circle cx="588.92" cy="209.34" r="1.35" fill="#ff0000"/>
<circle cx="597.25" cy="208.58" r="1.35" fill="#ff0000"/>
<text x="12.60" y="207.80" font-size="8.3" text-anchor="start" fill="#000" textLength="63.30" lengthAdjust="spacingAndGlyphs" transform="rotate(-90 12.60 207.80)" >Tumor size (mm<tspan font-size="5" dy="-3.2">3</tspan><tspan dy="3.2">)</tspan></text>
<line x1="76.30" y1="255.00" x2="76.30" y2="378.20" stroke="#333" stroke-width="0.9" />
<line x1="76.30" y1="377.70" x2="259.60" y2="377.70" stroke="#333" stroke-width="0.9" />
<line x1="73.80" y1="377.70" x2="76.30" y2="377.70" stroke="#333" stroke-width="0.8" />
<text x="71.60" y="380.40" font-size="8.0" text-anchor="end" fill="#000" font-weight="bold" textLength="4.30" lengthAdjust="spacingAndGlyphs" >0</text>
<line x1="73.80" y1="353.25" x2="76.30" y2="353.25" stroke="#333" stroke-width="0.8" />
<text x="71.60" y="355.95" font-size="8.0" text-anchor="end" fill="#000" font-weight="bold" textLength="12.90" lengthAdjust="spacingAndGlyphs" >500</text>
<line x1="73.80" y1="328.80" x2="76.30" y2="328.80" stroke="#333" stroke-width="0.8" />
<text x="71.60" y="331.50" font-size="8.0" text-anchor="end" fill="#000" font-weight="bold" textLength="17.20" lengthAdjust="spacingAndGlyphs" >1000</text>
<line x1="73.80" y1="304.35" x2="76.30" y2="304.35" stroke="#333" stroke-width="0.8" />
<text x="71.60" y="307.05" font-size="8.0" text-anchor="end" fill="#000" font-weight="bold" textLength="17.20" lengthAdjust="spacingAndGlyphs" >1500</text>
<line x1="73.80" y1="279.90" x2="76.30" y2="279.90" stroke="#333" stroke-width="0.8" />
<text x="71.60" y="282.60" font-size="8.0" text-anchor="end" fill="#000" font-weight="bold" textLength="17.20" lengthAdjust="spacingAndGlyphs" >2000</text>
<line x1="73.80" y1="255.45" x2="76.30" y2="255.45" stroke="#333" stroke-width="0.8" />
<text x="71.60" y="258.15" font-size="8.0" text-anchor="end" fill="#000" font-weight="bold" textLength="17.20" lengthAdjust="spacingAndGlyphs" >2500</text>
<line x1="80.20" y1="377.70" x2="80.20" y2="379.90" stroke="#333" stroke-width="0.8" />
<text x="80.20" y="387.40" font-size="7.4" text-anchor="middle" fill="#000" font-weight="bold" >5</text>
<line x1="91.96" y1="377.70" x2="91.96" y2="379.90" stroke="#333" stroke-width="0.8" />
<text x="91.96" y="387.40" font-size="7.4" text-anchor="middle" fill="#000" font-weight="bold" >7</text>
<line x1="103.72" y1="377.70" x2="103.72" y2="379.90" stroke="#333" stroke-width="0.8" />
<text x="103.72" y="387.40" font-size="7.4" text-anchor="middle" fill="#000" font-weight="bold" >9</text>
<line x1="115.48" y1="377.70" x2="115.48" y2="379.90" stroke="#333" stroke-width="0.8" />
<text x="115.48" y="387.40" font-size="7.4" text-anchor="middle" fill="#000" font-weight="bold" >11</text>
<line x1="127.24" y1="377.70" x2="127.24" y2="379.90" stroke="#333" stroke-width="0.8" />
<text x="127.24" y="387.40" font-size="7.4" text-anchor="middle" fill="#000" font-weight="bold" >13</text>
<line x1="139.00" y1="377.70" x2="139.00" y2="379.90" stroke="#333" stroke-width="0.8" />
<text x="139.00" y="387.40" font-size="7.4" text-anchor="middle" fill="#000" font-weight="bold" >15</text>
<line x1="150.76" y1="377.70" x2="150.76" y2="379.90" stroke="#333" stroke-width="0.8" />
<text x="150.76" y="387.40" font-size="7.4" text-anchor="middle" fill="#000" font-weight="bold" >17</text>
<line x1="162.52" y1="377.70" x2="162.52" y2="379.90" stroke="#333" stroke-width="0.8" />
<text x="162.52" y="387.40" font-size="7.4" text-anchor="middle" fill="#000" font-weight="bold" >19</text>
<line x1="174.28" y1="377.70" x2="174.28" y2="379.90" stroke="#333" stroke-width="0.8" />
<text x="174.28" y="387.40" font-size="7.4" text-anchor="middle" fill="#000" font-weight="bold" >21</text>
<line x1="186.04" y1="377.70" x2="186.04" y2="379.90" stroke="#333" stroke-width="0.8" />
<text x="186.04" y="387.40" font-size="7.4" text-anchor="middle" fill="#000" font-weight="bold" >23</text>
<line x1="197.80" y1="377.70" x2="197.80" y2="379.90" stroke="#333" stroke-width="0.8" />
<text x="197.80" y="387.40" font-size="7.4" text-anchor="middle" fill="#000" font-weight="bold" >25</text>
<line x1="209.56" y1="377.70" x2="209.56" y2="379.90" stroke="#333" stroke-width="0.8" />
<text x="209.56" y="387.40" font-size="7.4" text-anchor="middle" fill="#000" font-weight="bold" >27</text>
<line x1="221.32" y1="377.70" x2="221.32" y2="379.90" stroke="#333" stroke-width="0.8" />
<text x="221.32" y="387.40" font-size="7.4" text-anchor="middle" fill="#000" font-weight="bold" >29</text>
<line x1="233.08" y1="377.70" x2="233.08" y2="379.90" stroke="#333" stroke-width="0.8" />
<text x="233.08" y="387.40" font-size="7.4" text-anchor="middle" fill="#000" font-weight="bold" >31</text>
<line x1="244.84" y1="377.70" x2="244.84" y2="379.90" stroke="#333" stroke-width="0.8" />
<text x="244.84" y="387.40" font-size="7.4" text-anchor="middle" fill="#000" font-weight="bold" >33</text>
<line x1="256.60" y1="377.70" x2="256.60" y2="379.90" stroke="#333" stroke-width="0.8" />
<text x="256.60" y="387.40" font-size="7.4" text-anchor="middle" fill="#000" font-weight="bold" >35</text>
<text x="171.20" y="401.30" font-size="7.6" text-anchor="middle" fill="#000" textLength="17.70" lengthAdjust="spacingAndGlyphs" >Days</text>
<text x="42.30" y="352.30" font-size="9.6" text-anchor="start" fill="#000" textLength="77.00" lengthAdjust="spacingAndGlyphs" transform="rotate(-90 42.30 352.30)" >Tumor size (mm<tspan font-size="6" dy="-3.5">3</tspan><tspan dy="3.5">)</tspan></text>
<line x1="80.20" y1="373.15" x2="80.20" y2="373.54" stroke="#000" stroke-width="0.7" />
<line x1="78.00" y1="373.15" x2="82.40" y2="373.15" stroke="#000" stroke-width="0.7" />
<line x1="80.20" y1="373.93" x2="80.20" y2="373.54" stroke="#000" stroke-width="0.7" />
<line x1="78.00" y1="373.93" x2="82.40" y2="373.93" stroke="#000" stroke-width="0.7" />
<line x1="91.96" y1="372.91" x2="91.96" y2="373.30" stroke="#000" stroke-width="0.7" />
<line x1="89.76" y1="372.91" x2="94.16" y2="372.91" stroke="#000" stroke-width="0.7" />
<line x1="91.96" y1="373.69" x2="91.96" y2="373.30" stroke="#000" stroke-width="0.7" />
<line x1="89.76" y1="373.69" x2="94.16" y2="373.69" stroke="#000" stroke-width="0.7" />
<line x1="103.72" y1="372.32" x2="103.72" y2="372.81" stroke="#000" stroke-width="0.7" />
<line x1="101.52" y1="372.32" x2="105.92" y2="372.32" stroke="#000" stroke-width="0.7" />
<line x1="103.72" y1="373.30" x2="103.72" y2="372.81" stroke="#000" stroke-width="0.7" />
<line x1="101.52" y1="373.30" x2="105.92" y2="373.30" stroke="#000" stroke-width="0.7" />
<line x1="115.48" y1="369.39" x2="115.48" y2="370.12" stroke="#000" stroke-width="0.7" />
<line x1="113.28" y1="369.39" x2="117.68" y2="369.39" stroke="#000" stroke-width="0.7" />
<line x1="115.48" y1="370.85" x2="115.48" y2="370.12" stroke="#000" stroke-width="0.7" />
<line x1="113.28" y1="370.85" x2="117.68" y2="370.85" stroke="#000" stroke-width="0.7" />
<line x1="127.24" y1="366.31" x2="127.24" y2="367.53" stroke="#000" stroke-width="0.7" />
<line x1="125.04" y1="366.31" x2="129.44" y2="366.31" stroke="#000" stroke-width="0.7" />
<line x1="127.24" y1="368.75" x2="127.24" y2="367.53" stroke="#000" stroke-width="0.7" />
<line x1="125.04" y1="368.75" x2="129.44" y2="368.75" stroke="#000" stroke-width="0.7" />
<line x1="139.00" y1="359.95" x2="139.00" y2="361.91" stroke="#000" stroke-width="0.7" />
<line x1="136.80" y1="359.95" x2="141.20" y2="359.95" stroke="#000" stroke-width="0.7" />
<line x1="139.00" y1="363.86" x2="139.00" y2="361.91" stroke="#000" stroke-width="0.7" />
<line x1="136.80" y1="363.86" x2="141.20" y2="363.86" stroke="#000" stroke-width="0.7" />
<line x1="150.76" y1="350.81" x2="150.76" y2="354.72" stroke="#000" stroke-width="0.7" />
<line x1="148.56" y1="350.81" x2="152.96" y2="350.81" stroke="#000" stroke-width="0.7" />
<line x1="150.76" y1="358.63" x2="150.76" y2="354.72" stroke="#000" stroke-width="0.7" />
<line x1="148.56" y1="358.63" x2="152.96" y2="358.63" stroke="#000" stroke-width="0.7" />
<line x1="162.52" y1="341.32" x2="162.52" y2="345.72" stroke="#000" stroke-width="0.7" />
<line x1="160.32" y1="341.32" x2="164.72" y2="341.32" stroke="#000" stroke-width="0.7" />
<line x1="162.52" y1="350.12" x2="162.52" y2="345.72" stroke="#000" stroke-width="0.7" />
<line x1="160.32" y1="350.12" x2="164.72" y2="350.12" stroke="#000" stroke-width="0.7" />
<line x1="174.28" y1="322.25" x2="174.28" y2="328.60" stroke="#000" stroke-width="0.7" />
<line x1="172.08" y1="322.25" x2="176.48" y2="322.25" stroke="#000" stroke-width="0.7" />
<line x1="174.28" y1="334.96" x2="174.28" y2="328.60" stroke="#000" stroke-width="0.7" />
<line x1="172.08" y1="334.96" x2="176.48" y2="334.96" stroke="#000" stroke-width="0.7" />
<line x1="186.04" y1="303.91" x2="186.04" y2="312.22" stroke="#000" stroke-width="0.7" />
<line x1="183.84" y1="303.91" x2="188.24" y2="303.91" stroke="#000" stroke-width="0.7" />
<line x1="186.04" y1="320.54" x2="186.04" y2="312.22" stroke="#000" stroke-width="0.7" />
<line x1="183.84" y1="320.54" x2="188.24" y2="320.54" stroke="#000" stroke-width="0.7" />
<line x1="197.80" y1="290.22" x2="197.80" y2="299.02" stroke="#000" stroke-width="0.7" />
<line x1="195.60" y1="290.22" x2="200.00" y2="290.22" stroke="#000" stroke-width="0.7" />
<line x1="197.80" y1="307.82" x2="197.80" y2="299.02" stroke="#000" stroke-width="0.7" />
<line x1="195.60" y1="307.82" x2="200.00" y2="307.82" stroke="#000" stroke-width="0.7" />
<line x1="209.56" y1="288.90" x2="209.56" y2="296.72" stroke="#000" stroke-width="0.7" />
<line x1="207.36" y1="288.90" x2="211.76" y2="288.90" stroke="#000" stroke-width="0.7" />
<line x1="209.56" y1="304.55" x2="209.56" y2="296.72" stroke="#000" stroke-width="0.7" />
<line x1="207.36" y1="304.55" x2="211.76" y2="304.55" stroke="#000" stroke-width="0.7" />
<line x1="221.32" y1="286.21" x2="221.32" y2="291.59" stroke="#000" stroke-width="0.7" />
<line x1="219.12" y1="286.21" x2="223.52" y2="286.21" stroke="#000" stroke-width="0.7" />
<line x1="221.32" y1="296.97" x2="221.32" y2="291.59" stroke="#000" stroke-width="0.7" />
<line x1="219.12" y1="296.97" x2="223.52" y2="296.97" stroke="#000" stroke-width="0.7" />
<line x1="233.08" y1="284.35" x2="233.08" y2="287.28" stroke="#000" stroke-width="0.7" />
<line x1="230.88" y1="284.35" x2="235.28" y2="284.35" stroke="#000" stroke-width="0.7" />
<line x1="233.08" y1="290.22" x2="233.08" y2="287.28" stroke="#000" stroke-width="0.7" />
<line x1="230.88" y1="290.22" x2="235.28" y2="290.22" stroke="#000" stroke-width="0.7" />
<line x1="244.84" y1="284.35" x2="244.84" y2="287.28" stroke="#000" stroke-width="0.7" />
<line x1="242.64" y1="284.35" x2="247.04" y2="284.35" stroke="#000" stroke-width="0.7" />
<line x1="244.84" y1="290.22" x2="244.84" y2="287.28" stroke="#000" stroke-width="0.7" />
<line x1="242.64" y1="290.22" x2="247.04" y2="290.22" stroke="#000" stroke-width="0.7" />
<line x1="256.60" y1="284.35" x2="256.60" y2="287.28" stroke="#000" stroke-width="0.7" />
<line x1="254.40" y1="284.35" x2="258.80" y2="284.35" stroke="#000" stroke-width="0.7" />
<line x1="256.60" y1="290.22" x2="256.60" y2="287.28" stroke="#000" stroke-width="0.7" />
<line x1="254.40" y1="290.22" x2="258.80" y2="290.22" stroke="#000" stroke-width="0.7" />
<polyline points="80.20,373.54 91.96,373.30 103.72,372.81 115.48,370.12 127.24,367.53 139.00,361.91 150.76,354.72 162.52,345.72 174.28,328.60 186.04,312.22 197.80,299.02 209.56,296.72 221.32,291.59 233.08,287.28 244.84,287.28 256.60,287.28" fill="none" stroke="#000" stroke-width="0.9" />
<line x1="80.20" y1="373.40" x2="80.20" y2="373.79" stroke="#10b010" stroke-width="0.7" />
<line x1="78.00" y1="373.40" x2="82.40" y2="373.40" stroke="#10b010" stroke-width="0.7" />
<line x1="80.20" y1="374.18" x2="80.20" y2="373.79" stroke="#10b010" stroke-width="0.7" />
<line x1="78.00" y1="374.18" x2="82.40" y2="374.18" stroke="#10b010" stroke-width="0.7" />
<line x1="91.96" y1="373.15" x2="91.96" y2="373.54" stroke="#10b010" stroke-width="0.7" />
<line x1="89.76" y1="373.15" x2="94.16" y2="373.15" stroke="#10b010" stroke-width="0.7" />
<line x1="91.96" y1="373.93" x2="91.96" y2="373.54" stroke="#10b010" stroke-width="0.7" />
<line x1="89.76" y1="373.93" x2="94.16" y2="373.93" stroke="#10b010" stroke-width="0.7" />
<line x1="103.72" y1="372.57" x2="103.72" y2="373.05" stroke="#10b010" stroke-width="0.7" />
<line x1="101.52" y1="372.57" x2="105.92" y2="372.57" stroke="#10b010" stroke-width="0.7" />
<line x1="103.72" y1="373.54" x2="103.72" y2="373.05" stroke="#10b010" stroke-width="0.7" />
<line x1="101.52" y1="373.54" x2="105.92" y2="373.54" stroke="#10b010" stroke-width="0.7" />
<line x1="115.48" y1="369.63" x2="115.48" y2="370.37" stroke="#10b010" stroke-width="0.7" />
<line x1="113.28" y1="369.63" x2="117.68" y2="369.63" stroke="#10b010" stroke-width="0.7" />
<line x1="115.48" y1="371.10" x2="115.48" y2="370.37" stroke="#10b010" stroke-width="0.7" />
<line x1="113.28" y1="371.10" x2="117.68" y2="371.10" stroke="#10b010" stroke-width="0.7" />
<line x1="127.24" y1="367.43" x2="127.24" y2="368.41" stroke="#10b010" stroke-width="0.7" />
<line x1="125.04" y1="367.43" x2="129.44" y2="367.43" stroke="#10b010" stroke-width="0.7" />
<line x1="127.24" y1="369.39" x2="127.24" y2="368.41" stroke="#10b010" stroke-width="0.7" />
<line x1="125.04" y1="369.39" x2="129.44" y2="369.39" stroke="#10b010" stroke-width="0.7" />
<line x1="139.00" y1="362.64" x2="139.00" y2="364.11" stroke="#10b010" stroke-width="0.7" />
<line x1="136.80" y1="362.64" x2="141.20" y2="362.64" stroke="#10b010" stroke-width="0.7" />
<line x1="139.00" y1="365.57" x2="139.00" y2="364.11" stroke="#10b010" stroke-width="0.7" />
<line x1="136.80" y1="365.57" x2="141.20" y2="365.57" stroke="#10b010" stroke-width="0.7" />
<line x1="150.76" y1="357.06" x2="150.76" y2="360.00" stroke="#10b010" stroke-width="0.7" />
<line x1="148.56" y1="357.06" x2="152.96" y2="357.06" stroke="#10b010" stroke-width="0.7" />
<line x1="150.76" y1="362.93" x2="150.76" y2="360.00" stroke="#10b010" stroke-width="0.7" />
<line x1="148.56" y1="362.93" x2="152.96" y2="362.93" stroke="#10b010" stroke-width="0.7" />
<line x1="162.52" y1="351.98" x2="162.52" y2="355.89" stroke="#10b010" stroke-width="0.7" />
<line x1="160.32" y1="351.98" x2="164.72" y2="351.98" stroke="#10b010" stroke-width="0.7" />
<line x1="162.52" y1="359.80" x2="162.52" y2="355.89" stroke="#10b010" stroke-width="0.7" />
<line x1="160.32" y1="359.80" x2="164.72" y2="359.80" stroke="#10b010" stroke-width="0.7" />
<line x1="174.28" y1="338.43" x2="174.28" y2="344.30" stroke="#10b010" stroke-width="0.7" />
<line x1="172.08" y1="338.43" x2="176.48" y2="338.43" stroke="#10b010" stroke-width="0.7" />
<line x1="174.28" y1="350.17" x2="174.28" y2="344.30" stroke="#10b010" stroke-width="0.7" />
<line x1="172.08" y1="350.17" x2="176.48" y2="350.17" stroke="#10b010" stroke-width="0.7" />
<line x1="186.04" y1="324.55" x2="186.04" y2="331.88" stroke="#10b010" stroke-width="0.7" />
<line x1="183.84" y1="324.55" x2="188.24" y2="324.55" stroke="#10b010" stroke-width="0.7" />
<line x1="186.04" y1="339.22" x2="186.04" y2="331.88" stroke="#10b010" stroke-width="0.7" />
<line x1="183.84" y1="339.22" x2="188.24" y2="339.22" stroke="#10b010" stroke-width="0.7" />
<line x1="197.80" y1="314.67" x2="197.80" y2="322.00" stroke="#10b010" stroke-width="0.7" />
<line x1="195.60" y1="314.67" x2="200.00" y2="314.67" stroke="#10b010" stroke-width="0.7" />
<line x1="197.80" y1="329.34" x2="197.80" y2="322.00" stroke="#10b010" stroke-width="0.7" />
<line x1="195.60" y1="329.34" x2="200.00" y2="329.34" stroke="#10b010" stroke-width="0.7" />
<line x1="209.56" y1="302.49" x2="209.56" y2="310.32" stroke="#10b010" stroke-width="0.7" />
<line x1="207.36" y1="302.49" x2="211.76" y2="302.49" stroke="#10b010" stroke-width="0.7" />
<line x1="209.56" y1="318.14" x2="209.56" y2="310.32" stroke="#10b010" stroke-width="0.7" />
<line x1="207.36" y1="318.14" x2="211.76" y2="318.14" stroke="#10b010" stroke-width="0.7" />
<line x1="221.32" y1="301.76" x2="221.32" y2="309.09" stroke="#10b010" stroke-width="0.7" />
<line x1="219.12" y1="301.76" x2="223.52" y2="301.76" stroke="#10b010" stroke-width="0.7" />
<line x1="221.32" y1="316.43" x2="221.32" y2="309.09" stroke="#10b010" stroke-width="0.7" />
<line x1="219.12" y1="316.43" x2="223.52" y2="316.43" stroke="#10b010" stroke-width="0.7" />
<line x1="233.08" y1="295.74" x2="233.08" y2="302.10" stroke="#10b010" stroke-width="0.7" />
<line x1="230.88" y1="295.74" x2="235.28" y2="295.74" stroke="#10b010" stroke-width="0.7" />
<line x1="233.08" y1="308.46" x2="233.08" y2="302.10" stroke="#10b010" stroke-width="0.7" />
<line x1="230.88" y1="308.46" x2="235.28" y2="308.46" stroke="#10b010" stroke-width="0.7" />
<line x1="244.84" y1="295.06" x2="244.84" y2="301.42" stroke="#10b010" stroke-width="0.7" />
<line x1="242.64" y1="295.06" x2="247.04" y2="295.06" stroke="#10b010" stroke-width="0.7" />
<line x1="244.84" y1="307.77" x2="244.84" y2="301.42" stroke="#10b010" stroke-width="0.7" />
<line x1="242.64" y1="307.77" x2="247.04" y2="307.77" stroke="#10b010" stroke-width="0.7" />
<line x1="256.60" y1="294.57" x2="256.60" y2="300.93" stroke="#10b010" stroke-width="0.7" />
<line x1="254.40" y1="294.57" x2="258.80" y2="294.57" stroke="#10b010" stroke-width="0.7" />
<line x1="256.60" y1="307.28" x2="256.60" y2="300.93" stroke="#10b010" stroke-width="0.7" />
<line x1="254.40" y1="307.28" x2="258.80" y2="307.28" stroke="#10b010" stroke-width="0.7" />
<polyline points="80.20,373.79 91.96,373.54 103.72,373.05 115.48,370.37 127.24,368.41 139.00,364.11 150.76,360.00 162.52,355.89 174.28,344.30 186.04,331.88 197.80,322.00 209.56,310.32 221.32,309.09 233.08,302.10 244.84,301.42 256.60,300.93" fill="none" stroke="#10b010" stroke-width="0.9" />
<line x1="80.20" y1="373.15" x2="80.20" y2="373.54" stroke="#1010ff" stroke-width="0.7" />
<line x1="78.00" y1="373.15" x2="82.40" y2="373.15" stroke="#1010ff" stroke-width="0.7" />
<line x1="80.20" y1="373.93" x2="80.20" y2="373.54" stroke="#1010ff" stroke-width="0.7" />
<line x1="78.00" y1="373.93" x2="82.40" y2="373.93" stroke="#1010ff" stroke-width="0.7" />
<line x1="91.96" y1="372.91" x2="91.96" y2="373.30" stroke="#1010ff" stroke-width="0.7" />
<line x1="89.76" y1="372.91" x2="94.16" y2="372.91" stroke="#1010ff" stroke-width="0.7" />
<line x1="91.96" y1="373.69" x2="91.96" y2="373.30" stroke="#1010ff" stroke-width="0.7" />
<line x1="89.76" y1="373.69" x2="94.16" y2="373.69" stroke="#1010ff" stroke-width="0.7" />
<line x1="103.72" y1="372.32" x2="103.72" y2="372.81" stroke="#1010ff" stroke-width="0.7" />
<line x1="101.52" y1="372.32" x2="105.92" y2="372.32" stroke="#1010ff" stroke-width="0.7" />
<line x1="103.72" y1="373.30" x2="103.72" y2="372.81" stroke="#1010ff" stroke-width="0.7" />
<line x1="101.52" y1="373.30" x2="105.92" y2="373.30" stroke="#1010ff" stroke-width="0.7" />
<line x1="115.48" y1="369.39" x2="115.48" y2="370.12" stroke="#1010ff" stroke-width="0.7" />
<line x1="113.28" y1="369.39" x2="117.68" y2="369.39" stroke="#1010ff" stroke-width="0.7" />
<line x1="115.48" y1="370.85" x2="115.48" y2="370.12" stroke="#1010ff" stroke-width="0.7" />
<line x1="113.28" y1="370.85" x2="117.68" y2="370.85" stroke="#1010ff" stroke-width="0.7" />
<line x1="127.24" y1="367.63" x2="127.24" y2="368.60" stroke="#1010ff" stroke-width="0.7" />
<line x1="125.04" y1="367.63" x2="129.44" y2="367.63" stroke="#1010ff" stroke-width="0.7" />
<line x1="127.24" y1="369.58" x2="127.24" y2="368.60" stroke="#1010ff" stroke-width="0.7" />
<line x1="125.04" y1="369.58" x2="129.44" y2="369.58" stroke="#1010ff" stroke-width="0.7" />
<line x1="139.00" y1="363.03" x2="139.00" y2="364.50" stroke="#1010ff" stroke-width="0.7" />
<line x1="136.80" y1="363.03" x2="141.20" y2="363.03" stroke="#1010ff" stroke-width="0.7" />
<line x1="139.00" y1="365.96" x2="139.00" y2="364.50" stroke="#1010ff" stroke-width="0.7" />
<line x1="136.80" y1="365.96" x2="141.20" y2="365.96" stroke="#1010ff" stroke-width="0.7" />
<line x1="150.76" y1="361.66" x2="150.76" y2="363.62" stroke="#1010ff" stroke-width="0.7" />
<line x1="148.56" y1="361.66" x2="152.96" y2="361.66" stroke="#1010ff" stroke-width="0.7" />
<line x1="150.76" y1="365.57" x2="150.76" y2="363.62" stroke="#1010ff" stroke-width="0.7" />
<line x1="148.56" y1="365.57" x2="152.96" y2="365.57" stroke="#1010ff" stroke-width="0.7" />
<line x1="162.52" y1="357.94" x2="162.52" y2="360.39" stroke="#1010ff" stroke-width="0.7" />
<line x1="160.32" y1="357.94" x2="164.72" y2="357.94" stroke="#1010ff" stroke-width="0.7" />
<line x1="162.52" y1="362.83" x2="162.52" y2="360.39" stroke="#1010ff" stroke-width="0.7" />
<line x1="160.32" y1="362.83" x2="164.72" y2="362.83" stroke="#1010ff" stroke-width="0.7" />
<line x1="174.28" y1="355.35" x2="174.28" y2="358.29" stroke="#1010ff" stroke-width="0.7" />
<line x1="172.08" y1="355.35" x2="176.48" y2="355.35" stroke="#1010ff" stroke-width="0.7" />
<line x1="174.28" y1="361.22" x2="174.28" y2="358.29" stroke="#1010ff" stroke-width="0.7" />
<line x1="172.08" y1="361.22" x2="176.48" y2="361.22" stroke="#1010ff" stroke-width="0.7" />
<line x1="186.04" y1="348.60" x2="186.04" y2="352.52" stroke="#1010ff" stroke-width="0.7" />
<line x1="183.84" y1="348.60" x2="188.24" y2="348.60" stroke="#1010ff" stroke-width="0.7" />
<line x1="186.04" y1="356.43" x2="186.04" y2="352.52" stroke="#1010ff" stroke-width="0.7" />
<line x1="183.84" y1="356.43" x2="188.24" y2="356.43" stroke="#1010ff" stroke-width="0.7" />
<line x1="197.80" y1="340.63" x2="197.80" y2="345.52" stroke="#1010ff" stroke-width="0.7" />
<line x1="195.60" y1="340.63" x2="200.00" y2="340.63" stroke="#1010ff" stroke-width="0.7" />
<line x1="197.80" y1="350.41" x2="197.80" y2="345.52" stroke="#1010ff" stroke-width="0.7" />
<line x1="195.60" y1="350.41" x2="200.00" y2="350.41" stroke="#1010ff" stroke-width="0.7" />
<line x1="209.56" y1="334.23" x2="209.56" y2="339.61" stroke="#1010ff" stroke-width="0.7" />
<line x1="207.36" y1="334.23" x2="211.76" y2="334.23" stroke="#1010ff" stroke-width="0.7" />
<line x1="209.56" y1="344.99" x2="209.56" y2="339.61" stroke="#1010ff" stroke-width="0.7" />
<line x1="207.36" y1="344.99" x2="211.76" y2="344.99" stroke="#1010ff" stroke-width="0.7" />
<line x1="221.32" y1="327.33" x2="221.32" y2="333.69" stroke="#1010ff" stroke-width="0.7" />
<line x1="219.12" y1="327.33" x2="223.52" y2="327.33" stroke="#1010ff" stroke-width="0.7" />
<line x1="221.32" y1="340.05" x2="221.32" y2="333.69" stroke="#1010ff" stroke-width="0.7" />
<line x1="219.12" y1="340.05" x2="223.52" y2="340.05" stroke="#1010ff" stroke-width="0.7" />
<line x1="233.08" y1="315.84" x2="233.08" y2="323.18" stroke="#1010ff" stroke-width="0.7" />
<line x1="230.88" y1="315.84" x2="235.28" y2="315.84" stroke="#1010ff" stroke-width="0.7" />
<line x1="233.08" y1="330.51" x2="233.08" y2="323.18" stroke="#1010ff" stroke-width="0.7" />
<line x1="230.88" y1="330.51" x2="235.28" y2="330.51" stroke="#1010ff" stroke-width="0.7" />
<line x1="244.84" y1="311.15" x2="244.84" y2="318.48" stroke="#1010ff" stroke-width="0.7" />
<line x1="242.64" y1="311.15" x2="247.04" y2="311.15" stroke="#1010ff" stroke-width="0.7" />
<line x1="244.84" y1="325.82" x2="244.84" y2="318.48" stroke="#1010ff" stroke-width="0.7" />
<line x1="242.64" y1="325.82" x2="247.04" y2="325.82" stroke="#1010ff" stroke-width="0.7" />
<line x1="256.60" y1="304.64" x2="256.60" y2="311.49" stroke="#1010ff" stroke-width="0.7" />
<line x1="254.40" y1="304.64" x2="258.80" y2="304.64" stroke="#1010ff" stroke-width="0.7" />
<line x1="256.60" y1="318.34" x2="256.60" y2="311.49" stroke="#1010ff" stroke-width="0.7" />
<line x1="254.40" y1="318.34" x2="258.80" y2="318.34" stroke="#1010ff" stroke-width="0.7" />
<polyline points="80.20,373.54 91.96,373.30 103.72,372.81 115.48,370.12 127.24,368.60 139.00,364.50 150.76,363.62 162.52,360.39 174.28,358.29 186.04,352.52 197.80,345.52 209.56,339.61 221.32,333.69 233.08,323.18 244.84,318.48 256.60,311.49" fill="none" stroke="#1010ff" stroke-width="0.9" />
<line x1="80.20" y1="373.64" x2="80.20" y2="374.03" stroke="#ff1010" stroke-width="0.7" />
<line x1="78.00" y1="373.64" x2="82.40" y2="373.64" stroke="#ff1010" stroke-width="0.7" />
<line x1="80.20" y1="374.42" x2="80.20" y2="374.03" stroke="#ff1010" stroke-width="0.7" />
<line x1="78.00" y1="374.42" x2="82.40" y2="374.42" stroke="#ff1010" stroke-width="0.7" />
<line x1="91.96" y1="373.40" x2="91.96" y2="373.79" stroke="#ff1010" stroke-width="0.7" />
<line x1="89.76" y1="373.40" x2="94.16" y2="373.40" stroke="#ff1010" stroke-width="0.7" />
<line x1="91.96" y1="374.18" x2="91.96" y2="373.79" stroke="#ff1010" stroke-width="0.7" />
<line x1="89.76" y1="374.18" x2="94.16" y2="374.18" stroke="#ff1010" stroke-width="0.7" />
<line x1="103.72" y1="372.81" x2="103.72" y2="373.30" stroke="#ff1010" stroke-width="0.7" />
<line x1="101.52" y1="372.81" x2="105.92" y2="372.81" stroke="#ff1010" stroke-width="0.7" />
<line x1="103.72" y1="373.79" x2="103.72" y2="373.30" stroke="#ff1010" stroke-width="0.7" />
<line x1="101.52" y1="373.79" x2="105.92" y2="373.79" stroke="#ff1010" stroke-width="0.7" />
<line x1="115.48" y1="370.85" x2="115.48" y2="371.59" stroke="#ff1010" stroke-width="0.7" />
<line x1="113.28" y1="370.85" x2="117.68" y2="370.85" stroke="#ff1010" stroke-width="0.7" />
<line x1="115.48" y1="372.32" x2="115.48" y2="371.59" stroke="#ff1010" stroke-width="0.7" />
<line x1="113.28" y1="372.32" x2="117.68" y2="372.32" stroke="#ff1010" stroke-width="0.7" />
<line x1="127.24" y1="370.12" x2="127.24" y2="371.10" stroke="#ff1010" stroke-width="0.7" />
<line x1="125.04" y1="370.12" x2="129.44" y2="370.12" stroke="#ff1010" stroke-width="0.7" />
<line x1="127.24" y1="372.08" x2="127.24" y2="371.10" stroke="#ff1010" stroke-width="0.7" />
<line x1="125.04" y1="372.08" x2="129.44" y2="372.08" stroke="#ff1010" stroke-width="0.7" />
<line x1="139.00" y1="366.36" x2="139.00" y2="367.82" stroke="#ff1010" stroke-width="0.7" />
<line x1="136.80" y1="366.36" x2="141.20" y2="366.36" stroke="#ff1010" stroke-width="0.7" />
<line x1="139.00" y1="369.29" x2="139.00" y2="367.82" stroke="#ff1010" stroke-width="0.7" />
<line x1="136.80" y1="369.29" x2="141.20" y2="369.29" stroke="#ff1010" stroke-width="0.7" />
<line x1="150.76" y1="365.28" x2="150.76" y2="367.72" stroke="#ff1010" stroke-width="0.7" />
<line x1="148.56" y1="365.28" x2="152.96" y2="365.28" stroke="#ff1010" stroke-width="0.7" />
<line x1="150.76" y1="370.17" x2="150.76" y2="367.72" stroke="#ff1010" stroke-width="0.7" />
<line x1="148.56" y1="370.17" x2="152.96" y2="370.17" stroke="#ff1010" stroke-width="0.7" />
<line x1="162.52" y1="362.49" x2="162.52" y2="365.43" stroke="#ff1010" stroke-width="0.7" />
<line x1="160.32" y1="362.49" x2="164.72" y2="362.49" stroke="#ff1010" stroke-width="0.7" />
<line x1="162.52" y1="368.36" x2="162.52" y2="365.43" stroke="#ff1010" stroke-width="0.7" />
<line x1="160.32" y1="368.36" x2="164.72" y2="368.36" stroke="#ff1010" stroke-width="0.7" />
<line x1="174.28" y1="359.36" x2="174.28" y2="362.30" stroke="#ff1010" stroke-width="0.7" />
<line x1="172.08" y1="359.36" x2="176.48" y2="359.36" stroke="#ff1010" stroke-width="0.7" />
<line x1="174.28" y1="365.23" x2="174.28" y2="362.30" stroke="#ff1010" stroke-width="0.7" />
<line x1="172.08" y1="365.23" x2="176.48" y2="365.23" stroke="#ff1010" stroke-width="0.7" />
<line x1="186.04" y1="358.97" x2="186.04" y2="361.91" stroke="#ff1010" stroke-width="0.7" />
<line x1="183.84" y1="358.97" x2="188.24" y2="358.97" stroke="#ff1010" stroke-width="0.7" />
<line x1="186.04" y1="364.84" x2="186.04" y2="361.91" stroke="#ff1010" stroke-width="0.7" />
<line x1="183.84" y1="364.84" x2="188.24" y2="364.84" stroke="#ff1010" stroke-width="0.7" />
<line x1="197.80" y1="348.56" x2="197.80" y2="354.42" stroke="#ff1010" stroke-width="0.7" />
<line x1="195.60" y1="348.56" x2="200.00" y2="348.56" stroke="#ff1010" stroke-width="0.7" />
<line x1="197.80" y1="360.29" x2="197.80" y2="354.42" stroke="#ff1010" stroke-width="0.7" />
<line x1="195.60" y1="360.29" x2="200.00" y2="360.29" stroke="#ff1010" stroke-width="0.7" />
<line x1="209.56" y1="347.14" x2="209.56" y2="352.03" stroke="#ff1010" stroke-width="0.7" />
<line x1="207.36" y1="347.14" x2="211.76" y2="347.14" stroke="#ff1010" stroke-width="0.7" />
<line x1="209.56" y1="356.92" x2="209.56" y2="352.03" stroke="#ff1010" stroke-width="0.7" />
<line x1="207.36" y1="356.92" x2="211.76" y2="356.92" stroke="#ff1010" stroke-width="0.7" />
<line x1="221.32" y1="341.95" x2="221.32" y2="347.33" stroke="#ff1010" stroke-width="0.7" />
<line x1="219.12" y1="341.95" x2="223.52" y2="341.95" stroke="#ff1010" stroke-width="0.7" />
<line x1="221.32" y1="352.71" x2="221.32" y2="347.33" stroke="#ff1010" stroke-width="0.7" />
<line x1="219.12" y1="352.71" x2="223.52" y2="352.71" stroke="#ff1010" stroke-width="0.7" />
<line x1="233.08" y1="334.96" x2="233.08" y2="340.83" stroke="#ff1010" stroke-width="0.7" />
<line x1="230.88" y1="334.96" x2="235.28" y2="334.96" stroke="#ff1010" stroke-width="0.7" />
<line x1="233.08" y1="346.70" x2="233.08" y2="340.83" stroke="#ff1010" stroke-width="0.7" />
<line x1="230.88" y1="346.70" x2="235.28" y2="346.70" stroke="#ff1010" stroke-width="0.7" />
<line x1="244.84" y1="325.28" x2="244.84" y2="332.61" stroke="#ff1010" stroke-width="0.7" />
<line x1="242.64" y1="325.28" x2="247.04" y2="325.28" stroke="#ff1010" stroke-width="0.7" />
<line x1="244.84" y1="339.95" x2="244.84" y2="332.61" stroke="#ff1010" stroke-width="0.7" />
<line x1="242.64" y1="339.95" x2="247.04" y2="339.95" stroke="#ff1010" stroke-width="0.7" />
<line x1="256.60" y1="318.92" x2="256.60" y2="327.24" stroke="#ff1010" stroke-width="0.7" />
<line x1="254.40" y1="318.92" x2="258.80" y2="318.92" stroke="#ff1010" stroke-width="0.7" />
<line x1="256.60" y1="335.55" x2="256.60" y2="327.24" stroke="#ff1010" stroke-width="0.7" />
<line x1="254.40" y1="335.55" x2="258.80" y2="335.55" stroke="#ff1010" stroke-width="0.7" />
<polyline points="80.20,374.03 91.96,373.79 103.72,373.30 115.48,371.59 127.24,371.10 139.00,367.82 150.76,367.72 162.52,365.43 174.28,362.30 186.04,361.91 197.80,354.42 209.56,352.03 221.32,347.33 233.08,340.83 244.84,332.61 256.60,327.24" fill="none" stroke="#ff1010" stroke-width="0.9" />
<circle cx="80.20" cy="373.54" r="2.50" fill="#000"/>
<circle cx="91.96" cy="373.30" r="2.50" fill="#000"/>
<circle cx="103.72" cy="372.81" r="2.50" fill="#000"/>
<circle cx="115.48" cy="370.12" r="2.50" fill="#000"/>
<circle cx="127.24" cy="367.53" r="2.50" fill="#000"/>
<circle cx="139.00" cy="361.91" r="2.50" fill="#000"/>
<circle cx="150.76" cy="354.72" r="2.50" fill="#000"/>
<circle cx="162.52" cy="345.72" r="2.50" fill="#000"/>
<circle cx="174.28" cy="328.60" r="2.50" fill="#000"/>
<circle cx="186.04" cy="312.22" r="2.50" fill="#000"/>
<circle cx="197.80" cy="299.02" r="2.50" fill="#000"/>
<circle cx="209.56" cy="296.72" r="2.50" fill="#000"/>
<circle cx="221.32" cy="291.59" r="2.50" fill="#000"/>
<circle cx="233.08" cy="287.28" r="2.50" fill="#000"/>
<circle cx="244.84" cy="287.28" r="2.50" fill="#000"/>
<circle cx="256.60" cy="287.28" r="2.50" fill="#000"/>
<polygon points="80.20,370.82 82.80,375.76 77.60,375.76" fill="#10b010"/>
<polygon points="91.96,370.58 94.56,375.52 89.36,375.52" fill="#10b010"/>
<polygon points="103.72,370.09 106.32,375.03 101.12,375.03" fill="#10b010"/>
<polygon points="115.48,367.40 118.08,372.34 112.88,372.34" fill="#10b010"/>
<polygon points="127.24,365.44 129.84,370.38 124.64,370.38" fill="#10b010"/>
<polygon points="139.00,361.14 141.60,366.08 136.40,366.08" fill="#10b010"/>
<polygon points="150.76,357.03 153.36,361.97 148.16,361.97" fill="#10b010"/>
<polygon points="162.52,352.93 165.12,357.87 159.92,357.87" fill="#10b010"/>
<polygon points="174.28,341.34 176.88,346.28 171.68,346.28" fill="#10b010"/>
<polygon points="186.04,328.92 188.64,333.86 183.44,333.86" fill="#10b010"/>
<polygon points="197.80,319.04 200.40,323.98 195.20,323.98" fill="#10b010"/>
<polygon points="209.56,307.35 212.16,312.29 206.96,312.29" fill="#10b010"/>
<polygon points="221.32,306.13 223.92,311.07 218.72,311.07" fill="#10b010"/>
<polygon points="233.08,299.14 235.68,304.08 230.48,304.08" fill="#10b010"/>
<polygon points="244.84,298.45 247.44,303.39 242.24,303.39" fill="#10b010"/>
<polygon points="256.60,297.96 259.20,302.90 254.00,302.90" fill="#10b010"/>
<rect x="77.80" y="371.14" width="4.80" height="4.80" fill="#1010ff"/>
<rect x="89.56" y="370.90" width="4.80" height="4.80" fill="#1010ff"/>
<rect x="101.32" y="370.41" width="4.80" height="4.80" fill="#1010ff"/>
<rect x="113.08" y="367.72" width="4.80" height="4.80" fill="#1010ff"/>
<rect x="124.84" y="366.20" width="4.80" height="4.80" fill="#1010ff"/>
<rect x="136.60" y="362.10" width="4.80" height="4.80" fill="#1010ff"/>
<rect x="148.36" y="361.22" width="4.80" height="4.80" fill="#1010ff"/>
<rect x="160.12" y="357.99" width="4.80" height="4.80" fill="#1010ff"/>
<rect x="171.88" y="355.89" width="4.80" height="4.80" fill="#1010ff"/>
<rect x="183.64" y="350.12" width="4.80" height="4.80" fill="#1010ff"/>
<rect x="195.40" y="343.12" width="4.80" height="4.80" fill="#1010ff"/>
<rect x="207.16" y="337.21" width="4.80" height="4.80" fill="#1010ff"/>
<rect x="218.92" y="331.29" width="4.80" height="4.80" fill="#1010ff"/>
<rect x="230.68" y="320.78" width="4.80" height="4.80" fill="#1010ff"/>
<rect x="242.44" y="316.08" width="4.80" height="4.80" fill="#1010ff"/>
<rect x="254.20" y="309.09" width="4.80" height="4.80" fill="#1010ff"/>
<polygon points="80.20,371.83 82.40,374.03 80.20,376.23 78.00,374.03" fill="#ff1010"/>
<polygon points="91.96,371.59 94.16,373.79 91.96,375.99 89.76,373.79" fill="#ff1010"/>
<polygon points="103.72,371.10 105.92,373.30 103.72,375.50 101.52,373.30" fill="#ff1010"/>
<polygon points="115.48,369.39 117.68,371.59 115.48,373.79 113.28,371.59" fill="#ff1010"/>
<polygon points="127.24,368.90 129.44,371.10 127.24,373.30 125.04,371.10" fill="#ff1010"/>
<polygon points="139.00,365.62 141.20,367.82 139.00,370.02 136.80,367.82" fill="#ff1010"/>
<polygon points="150.76,365.52 152.96,367.72 150.76,369.92 148.56,367.72" fill="#ff1010"/>
<polygon points="162.52,363.23 164.72,365.43 162.52,367.63 160.32,365.43" fill="#ff1010"/>
<polygon points="174.28,360.10 176.48,362.30 174.28,364.50 172.08,362.30" fill="#ff1010"/>
<polygon points="186.04,359.71 188.24,361.91 186.04,364.11 183.84,361.91" fill="#ff1010"/>
<polygon points="197.80,352.22 200.00,354.42 197.80,356.62 195.60,354.42" fill="#ff1010"/>
<polygon points="209.56,349.83 211.76,352.03 209.56,354.23 207.36,352.03" fill="#ff1010"/>
<polygon points="221.32,345.13 223.52,347.33 221.32,349.53 219.12,347.33" fill="#ff1010"/>
<polygon points="233.08,338.63 235.28,340.83 233.08,343.03 230.88,340.83" fill="#ff1010"/>
<polygon points="244.84,330.41 247.04,332.61 244.84,334.81 242.64,332.61" fill="#ff1010"/>
<polygon points="256.60,325.04 258.80,327.24 256.60,329.44 254.40,327.24" fill="#ff1010"/>
<text x="167.00" y="372.30" font-size="5.3" text-anchor="start" fill="#1a1a1a" font-weight="bold" textLength="8.00" lengthAdjust="spacingAndGlyphs" font-style="italic">###</text>
<text x="181.20" y="369.70" font-size="5.3" text-anchor="start" fill="#1a1a1a" font-weight="bold" textLength="10.80" lengthAdjust="spacingAndGlyphs" font-style="italic">####</text>
<text x="194.15" y="366.60" font-size="5.3" text-anchor="start" fill="#1a1a1a" font-weight="bold" textLength="10.50" lengthAdjust="spacingAndGlyphs" font-style="italic">####</text>
<text x="206.25" y="359.50" font-size="5.3" text-anchor="start" fill="#1a1a1a" font-weight="bold" textLength="10.50" lengthAdjust="spacingAndGlyphs" font-style="italic">####</text>
<text x="217.55" y="355.20" font-size="5.3" text-anchor="start" fill="#1a1a1a" font-weight="bold" textLength="10.50" lengthAdjust="spacingAndGlyphs" font-style="italic">####</text>
<text x="229.05" y="348.20" font-size="5.3" text-anchor="start" fill="#1a1a1a" font-weight="bold" textLength="10.50" lengthAdjust="spacingAndGlyphs" font-style="italic">####</text>
<text x="241.80" y="340.20" font-size="5.3" text-anchor="start" fill="#1a1a1a" font-weight="bold" textLength="10.20" lengthAdjust="spacingAndGlyphs" font-style="italic">####</text>
<text x="256.50" y="334.80" font-size="5.3" text-anchor="start" fill="#1a1a1a" font-weight="bold" textLength="10.00" lengthAdjust="spacingAndGlyphs" font-style="italic">####</text>
<text x="182.40" y="373.60" font-size="3.6" text-anchor="start" fill="#333" textLength="7.20" lengthAdjust="spacingAndGlyphs" >ΔΔΔ</text>
<text x="196.15" y="370.30" font-size="3.6" text-anchor="start" fill="#333" textLength="6.90" lengthAdjust="spacingAndGlyphs" >ΔΔΔ</text>
<text x="207.75" y="364.60" font-size="3.6" text-anchor="start" fill="#333" textLength="9.90" lengthAdjust="spacingAndGlyphs" >ΔΔΔΔ</text>
<text x="218.75" y="360.40" font-size="3.6" text-anchor="start" fill="#333" textLength="9.90" lengthAdjust="spacingAndGlyphs" >ΔΔΔΔ</text>
<text x="230.25" y="352.00" font-size="3.6" text-anchor="start" fill="#333" textLength="9.90" lengthAdjust="spacingAndGlyphs" >ΔΔΔΔ</text>
<text x="243.30" y="344.70" font-size="3.6" text-anchor="start" fill="#333" textLength="7.20" lengthAdjust="spacingAndGlyphs" >ΔΔΔ</text>
<text x="260.50" y="337.60" font-size="3.6" text-anchor="start" fill="#333" textLength="5.00" lengthAdjust="spacingAndGlyphs" >ΔΔ</text>
<text x="174.50" y="360.00" font-size="4.2" text-anchor="start" fill="#444" textLength="4.00" lengthAdjust="spacingAndGlyphs" >††</text>
<text x="188.50" y="354.70" font-size="4.2" text-anchor="start" fill="#444" textLength="6.00" lengthAdjust="spacingAndGlyphs" >†††</text>
<text x="198.10" y="350.30" font-size="4.2" text-anchor="start" fill="#444" textLength="7.80" lengthAdjust="spacingAndGlyphs" >††††</text>
<text x="209.10" y="345.00" font-size="4.2" text-anchor="start" fill="#444" textLength="7.80" lengthAdjust="spacingAndGlyphs" >††††</text>
<text x="221.10" y="339.10" font-size="4.2" text-anchor="start" fill="#444" textLength="7.80" lengthAdjust="spacingAndGlyphs" >††††</text>
<text x="233.40" y="329.70" font-size="4.2" text-anchor="start" fill="#444" textLength="7.80" lengthAdjust="spacingAndGlyphs" >††††</text>
<text x="247.25" y="323.40" font-size="4.2" text-anchor="start" fill="#444" textLength="5.90" lengthAdjust="spacingAndGlyphs" >†††</text>
<text x="260.50" y="315.60" font-size="4.2" text-anchor="start" fill="#444" textLength="1.60" lengthAdjust="spacingAndGlyphs" >†</text>
<text x="236.20" y="334.70" font-size="4.2" text-anchor="middle" fill="#444" >§</text>
<text x="225.50" y="344.00" font-size="4.2" text-anchor="middle" fill="#444" >§</text>
<text x="213.50" y="350.00" font-size="4.2" text-anchor="middle" fill="#444" >§</text>
<text x="192.50" y="359.30" font-size="4.2" text-anchor="middle" fill="#444" >§</text>
<line x1="327.60" y1="255.75" x2="327.60" y2="378.80" stroke="#333" stroke-width="0.9" />
<line x1="327.60" y1="378.30" x2="473.11" y2="378.30" stroke="#333" stroke-width="0.9" />
<line x1="325.30" y1="378.30" x2="327.60" y2="378.30" stroke="#333" stroke-width="0.8" />
<text x="324.20" y="381.30" font-size="8.6" text-anchor="end" fill="#000" font-weight="bold" textLength="4.07" lengthAdjust="spacingAndGlyphs" >0</text>
<line x1="325.30" y1="353.89" x2="327.60" y2="353.89" stroke="#333" stroke-width="0.8" />
<text x="324.20" y="356.89" font-size="8.6" text-anchor="end" fill="#000" font-weight="bold" textLength="8.14" lengthAdjust="spacingAndGlyphs" >20</text>
<line x1="325.30" y1="329.48" x2="327.60" y2="329.48" stroke="#333" stroke-width="0.8" />
<text x="324.20" y="332.48" font-size="8.6" text-anchor="end" fill="#000" font-weight="bold" textLength="8.14" lengthAdjust="spacingAndGlyphs" >40</text>
<line x1="325.30" y1="305.07" x2="327.60" y2="305.07" stroke="#333" stroke-width="0.8" />
<text x="324.20" y="308.07" font-size="8.6" text-anchor="end" fill="#000" font-weight="bold" textLength="8.14" lengthAdjust="spacingAndGlyphs" >60</text>
<line x1="325.30" y1="280.66" x2="327.60" y2="280.66" stroke="#333" stroke-width="0.8" />
<text x="324.20" y="283.66" font-size="8.6" text-anchor="end" fill="#000" font-weight="bold" textLength="8.14" lengthAdjust="spacingAndGlyphs" >80</text>
<line x1="325.30" y1="256.25" x2="327.60" y2="256.25" stroke="#333" stroke-width="0.8" />
<text x="324.20" y="259.25" font-size="8.6" text-anchor="end" fill="#000" font-weight="bold" textLength="12.21" lengthAdjust="spacingAndGlyphs" >100</text>
<line x1="327.60" y1="378.30" x2="327.60" y2="380.50" stroke="#333" stroke-width="0.8" />
<text x="327.60" y="389.20" font-size="8.7" text-anchor="middle" fill="#000" font-weight="bold" textLength="3.90" lengthAdjust="spacingAndGlyphs" >0</text>
<line x1="356.60" y1="378.30" x2="356.60" y2="380.50" stroke="#333" stroke-width="0.8" />
<text x="356.60" y="389.20" font-size="8.7" text-anchor="middle" fill="#000" font-weight="bold" textLength="3.90" lengthAdjust="spacingAndGlyphs" >7</text>
<line x1="385.60" y1="378.30" x2="385.60" y2="380.50" stroke="#333" stroke-width="0.8" />
<text x="385.60" y="389.20" font-size="8.7" text-anchor="middle" fill="#000" font-weight="bold" textLength="7.80" lengthAdjust="spacingAndGlyphs" >14</text>
<line x1="414.60" y1="378.30" x2="414.60" y2="380.50" stroke="#333" stroke-width="0.8" />
<text x="414.60" y="389.20" font-size="8.7" text-anchor="middle" fill="#000" font-weight="bold" textLength="7.80" lengthAdjust="spacingAndGlyphs" >21</text>
<line x1="443.60" y1="378.30" x2="443.60" y2="380.50" stroke="#333" stroke-width="0.8" />
<text x="443.60" y="389.20" font-size="8.7" text-anchor="middle" fill="#000" font-weight="bold" textLength="7.80" lengthAdjust="spacingAndGlyphs" >28</text>
<line x1="472.61" y1="378.30" x2="472.61" y2="380.50" stroke="#333" stroke-width="0.8" />
<text x="472.61" y="389.20" font-size="8.7" text-anchor="middle" fill="#000" font-weight="bold" textLength="7.80" lengthAdjust="spacingAndGlyphs" >35</text>
<text x="408.10" y="401.30" font-size="7.6" text-anchor="middle" fill="#000" textLength="17.40" lengthAdjust="spacingAndGlyphs" >Days</text>
<text x="279.60" y="311.10" font-size="8.3" text-anchor="start" fill="#000" textLength="28.60" lengthAdjust="spacingAndGlyphs" >Percent</text>
<text x="279.60" y="321.50" font-size="8.3" text-anchor="start" fill="#000" textLength="27.70" lengthAdjust="spacingAndGlyphs" >survival</text>
<polyline points="327.60,256.25 422.89,256.25 422.89,266.01 439.46,266.01 439.46,274.56 447.75,274.56 447.75,284.32 451.89,284.32 451.89,302.63 460.18,302.63 460.18,322.16 472.61,322.16 472.61,331.92 472.61,331.92" fill="none" stroke="#3030ff" stroke-width="0.9" />
<polyline points="327.60,256.25 414.60,256.25 414.60,274.56 422.89,274.56 422.89,294.09 431.18,294.09 431.18,302.63 439.46,302.63 439.46,322.16 443.60,322.16 443.60,331.92 451.89,331.92 451.89,350.23 456.03,350.23 456.03,359.99 472.61,359.99" fill="none" stroke="#20b020" stroke-width="0.9" />
<polyline points="327.60,256.25 406.32,256.25 406.32,266.01 414.60,266.01 414.60,277.00 422.89,277.00 422.89,307.51 427.03,307.51 427.03,317.28 431.18,317.28 431.18,347.79 451.89,347.79 451.89,357.55 456.03,357.55 456.03,378.30 456.03,378.30" fill="none" stroke="#222" stroke-width="0.9" />
<polyline points="327.60,256.25 431.18,256.25 431.18,266.01 460.18,266.01 460.18,277.00 464.32,277.00 464.32,289.20 472.61,289.20" fill="none" stroke="#ff2020" stroke-width="0.9" />
<circle cx="406.32" cy="266.01" r="2.20" fill="#000"/>
<circle cx="414.60" cy="277.00" r="2.20" fill="#000"/>
<circle cx="422.89" cy="307.51" r="2.20" fill="#000"/>
<circle cx="427.03" cy="317.28" r="2.20" fill="#000"/>
<circle cx="431.18" cy="347.79" r="2.20" fill="#000"/>
<circle cx="451.89" cy="357.55" r="2.20" fill="#000"/>
<circle cx="456.03" cy="378.30" r="2.20" fill="#000"/>
<polygon points="414.60,271.82 417.00,276.38 412.20,276.38" fill="#10b010"/>
<polygon points="422.89,291.35 425.29,295.91 420.49,295.91" fill="#10b010"/>
<polygon points="431.18,299.89 433.57,304.45 428.78,304.45" fill="#10b010"/>
<polygon points="439.46,319.42 441.86,323.98 437.06,323.98" fill="#10b010"/>
<polygon points="443.60,329.19 446.00,333.75 441.20,333.75" fill="#10b010"/>
<polygon points="451.89,347.49 454.29,352.05 449.49,352.05" fill="#10b010"/>
<polygon points="456.03,357.26 458.43,361.82 453.63,361.82" fill="#10b010"/>
<polygon points="472.61,357.26 475.00,361.82 470.21,361.82" fill="#10b010"/>
<rect x="420.79" y="263.91" width="4.20" height="4.20" fill="#1010ff"/>
<rect x="437.36" y="272.46" width="4.20" height="4.20" fill="#1010ff"/>
<rect x="445.65" y="282.22" width="4.20" height="4.20" fill="#1010ff"/>
<rect x="449.79" y="300.53" width="4.20" height="4.20" fill="#1010ff"/>
<rect x="458.08" y="320.06" width="4.20" height="4.20" fill="#1010ff"/>
<rect x="470.50" y="329.82" width="4.20" height="4.20" fill="#1010ff"/>
<polygon points="431.18,263.59 433.60,266.01 431.18,268.43 428.75,266.01" fill="#ff1010"/>
<polygon points="460.18,274.58 462.60,277.00 460.18,279.42 457.76,277.00" fill="#ff1010"/>
<polygon points="464.32,286.78 466.74,289.20 464.32,291.62 461.90,289.20" fill="#ff1010"/>
<polygon points="472.61,286.78 475.03,289.20 472.61,291.62 470.19,289.20" fill="#ff1010"/>
<rect x="325.70" y="254.05" width="4.40" height="4.40" fill="#1010ff"/>
<polygon points="327.90,254.05 330.10,256.25 327.90,258.45 325.70,256.25" fill="#ff1010"/>
<polyline points="476.20,332.40 480.20,332.40 480.20,359.80 476.20,359.80" fill="none" stroke="#444" stroke-width="0.8" />
<text x="477.70" y="345.30" font-size="7.5" fill="#222" text-anchor="middle" transform="rotate(90 477.70 345.30)">*</text>
<polyline points="482.30,290.50 486.10,290.50 486.10,360.60 482.30,360.60" fill="none" stroke="#444" stroke-width="0.8" />
<text x="485.10" y="321.90" font-size="7.5" fill="#222" text-anchor="middle" transform="rotate(90 485.10 321.90)">**</text>
<polyline points="488.20,332.40 492.30,332.40 492.30,377.60 488.20,377.60" fill="none" stroke="#444" stroke-width="0.8" />
<text x="491.90" y="355.00" font-size="7.5" fill="#222" text-anchor="middle" transform="rotate(90 491.90 355.00)">***</text>
<polyline points="497.40,287.30 501.10,287.30 501.10,377.60 497.40,377.60" fill="none" stroke="#444" stroke-width="0.8" />
<text x="500.50" y="333.20" font-size="7.5" fill="#222" text-anchor="middle" transform="rotate(90 500.50 333.20)">****</text>
<line x1="531.00" y1="257.65" x2="537.90" y2="257.65" stroke="#000" stroke-width="0.9" />
<circle cx="534.40" cy="257.65" r="1.90" fill="#000"/>
<text x="542.60" y="259.90" font-size="7.4" text-anchor="start" fill="#000" >Isotype</text>
<line x1="531.00" y1="264.90" x2="537.90" y2="264.90" stroke="#10b010" stroke-width="0.9" />
<polygon points="534.40,262.51 536.50,266.50 532.30,266.50" fill="#10b010"/>
<text x="542.60" y="269.70" font-size="7.4" text-anchor="start" fill="#000" >ITK Inh</text>
<line x1="531.00" y1="274.50" x2="537.90" y2="274.50" stroke="#1010ff" stroke-width="0.9" />
<rect x="532.40" y="272.50" width="4.00" height="4.00" fill="#1010ff"/>
<text x="542.60" y="278.10" font-size="7.4" text-anchor="start" fill="#000" >αPD-1</text>
<line x1="531.00" y1="283.80" x2="537.90" y2="283.80" stroke="#ff1010" stroke-width="0.9" />
<polygon points="534.40,282.04 536.16,283.80 534.40,285.56 532.64,283.80" fill="#ff1010"/>
<text x="542.60" y="286.50" font-size="7.4" text-anchor="start" fill="#000" >ITK inh+αPD-1</text>
<line x1="101.60" y1="415.80" x2="101.60" y2="513.80" stroke="#333" stroke-width="0.9" />
<line x1="101.60" y1="513.40" x2="202.10" y2="513.40" stroke="#333" stroke-width="0.9" />
<line x1="99.40" y1="416.10" x2="101.60" y2="416.10" stroke="#333" stroke-width="0.8" />
<text x="94.90" y="418.40" font-size="6.1" font-weight="bold" text-anchor="end" fill="#111">10</text>
<text x="96.30" y="416.50" font-size="4.3" font-weight="bold" fill="#111">5</text>
<line x1="100.00" y1="433.10" x2="101.60" y2="433.10" stroke="#333" stroke-width="0.7" />
<line x1="100.00" y1="428.82" x2="101.60" y2="428.82" stroke="#333" stroke-width="0.7" />
<line x1="100.00" y1="425.78" x2="101.60" y2="425.78" stroke="#333" stroke-width="0.7" />
<line x1="100.00" y1="423.42" x2="101.60" y2="423.42" stroke="#333" stroke-width="0.7" />
<line x1="100.00" y1="421.50" x2="101.60" y2="421.50" stroke="#333" stroke-width="0.7" />
<line x1="100.00" y1="419.87" x2="101.60" y2="419.87" stroke="#333" stroke-width="0.7" />
<line x1="100.00" y1="418.46" x2="101.60" y2="418.46" stroke="#333" stroke-width="0.7" />
<line x1="100.00" y1="417.21" x2="101.60" y2="417.21" stroke="#333" stroke-width="0.7" />
<line x1="99.40" y1="440.43" x2="101.60" y2="440.43" stroke="#333" stroke-width="0.8" />
<text x="94.90" y="442.73" font-size="6.1" font-weight="bold" text-anchor="end" fill="#111">10</text>
<text x="96.30" y="440.82" font-size="4.3" font-weight="bold" fill="#111">4</text>
<line x1="100.00" y1="457.43" x2="101.60" y2="457.43" stroke="#333" stroke-width="0.7" />
<line x1="100.00" y1="453.14" x2="101.60" y2="453.14" stroke="#333" stroke-width="0.7" />
<line x1="100.00" y1="450.10" x2="101.60" y2="450.10" stroke="#333" stroke-width="0.7" />
<line x1="100.00" y1="447.75" x2="101.60" y2="447.75" stroke="#333" stroke-width="0.7" />
<line x1="100.00" y1="445.82" x2="101.60" y2="445.82" stroke="#333" stroke-width="0.7" />
<line x1="100.00" y1="444.19" x2="101.60" y2="444.19" stroke="#333" stroke-width="0.7" />
<line x1="100.00" y1="442.78" x2="101.60" y2="442.78" stroke="#333" stroke-width="0.7" />
<line x1="100.00" y1="441.54" x2="101.60" y2="441.54" stroke="#333" stroke-width="0.7" />
<line x1="99.40" y1="464.75" x2="101.60" y2="464.75" stroke="#333" stroke-width="0.8" />
<text x="94.90" y="467.05" font-size="6.1" font-weight="bold" text-anchor="end" fill="#111">10</text>
<text x="96.30" y="465.15" font-size="4.3" font-weight="bold" fill="#111">3</text>
<line x1="100.00" y1="481.75" x2="101.60" y2="481.75" stroke="#333" stroke-width="0.7" />
<line x1="100.00" y1="477.47" x2="101.60" y2="477.47" stroke="#333" stroke-width="0.7" />
<line x1="100.00" y1="474.43" x2="101.60" y2="474.43" stroke="#333" stroke-width="0.7" />
<line x1="100.00" y1="472.07" x2="101.60" y2="472.07" stroke="#333" stroke-width="0.7" />
<line x1="100.00" y1="470.15" x2="101.60" y2="470.15" stroke="#333" stroke-width="0.7" />
<line x1="100.00" y1="468.52" x2="101.60" y2="468.52" stroke="#333" stroke-width="0.7" />
<line x1="100.00" y1="467.11" x2="101.60" y2="467.11" stroke="#333" stroke-width="0.7" />
<line x1="100.00" y1="465.86" x2="101.60" y2="465.86" stroke="#333" stroke-width="0.7" />
<line x1="99.40" y1="489.07" x2="101.60" y2="489.07" stroke="#333" stroke-width="0.8" />
<text x="94.90" y="491.38" font-size="6.1" font-weight="bold" text-anchor="end" fill="#111">10</text>
<text x="96.30" y="489.47" font-size="4.3" font-weight="bold" fill="#111">2</text>
<line x1="100.00" y1="506.08" x2="101.60" y2="506.08" stroke="#333" stroke-width="0.7" />
<line x1="100.00" y1="501.79" x2="101.60" y2="501.79" stroke="#333" stroke-width="0.7" />
<line x1="100.00" y1="498.75" x2="101.60" y2="498.75" stroke="#333" stroke-width="0.7" />
<line x1="100.00" y1="496.40" x2="101.60" y2="496.40" stroke="#333" stroke-width="0.7" />
<line x1="100.00" y1="494.47" x2="101.60" y2="494.47" stroke="#333" stroke-width="0.7" />
<line x1="100.00" y1="492.84" x2="101.60" y2="492.84" stroke="#333" stroke-width="0.7" />
<line x1="100.00" y1="491.43" x2="101.60" y2="491.43" stroke="#333" stroke-width="0.7" />
<line x1="100.00" y1="490.19" x2="101.60" y2="490.19" stroke="#333" stroke-width="0.7" />
<line x1="99.40" y1="513.40" x2="101.60" y2="513.40" stroke="#333" stroke-width="0.8" />
<text x="94.90" y="515.70" font-size="6.1" font-weight="bold" text-anchor="end" fill="#111">10</text>
<text x="96.30" y="513.80" font-size="4.3" font-weight="bold" fill="#111">1</text>
<line x1="114.40" y1="513.40" x2="114.40" y2="515.60" stroke="#333" stroke-width="0.8" />
<line x1="139.50" y1="513.40" x2="139.50" y2="515.60" stroke="#333" stroke-width="0.8" />
<line x1="164.10" y1="513.40" x2="164.10" y2="515.60" stroke="#333" stroke-width="0.8" />
<line x1="188.60" y1="513.40" x2="188.60" y2="515.60" stroke="#333" stroke-width="0.8" />
<text x="61.00" y="457.30" font-size="6.6" text-anchor="middle" fill="#111" >Absolute #</text>
<text x="61.00" y="465.10" font-size="6.6" text-anchor="middle" fill="#111" >of donor</text>
<text x="61.00" y="472.90" font-size="6.6" text-anchor="middle" fill="#111" textLength="36.20" lengthAdjust="spacingAndGlyphs" >CD8+ T cells</text>
<text x="61.00" y="480.70" font-size="6.6" text-anchor="middle" fill="#111" >in LN</text>
<line x1="106.12" y1="468.16" x2="122.80" y2="468.16" stroke="#000" stroke-width="0.9" />
<line x1="114.37" y1="465.47" x2="114.37" y2="471.75" stroke="#000" stroke-width="0.9" />
<line x1="110.78" y1="465.47" x2="117.96" y2="465.47" stroke="#000" stroke-width="0.9" />
<line x1="110.78" y1="471.75" x2="117.96" y2="471.75" stroke="#000" stroke-width="0.9" />
<circle cx="114.19" cy="452.38" r="1.95" fill="#000"/>
<circle cx="110.78" cy="464.57" r="1.95" fill="#000"/>
<circle cx="112.94" cy="464.22" r="1.95" fill="#000"/>
<circle cx="117.42" cy="463.68" r="1.95" fill="#000"/>
<circle cx="113.83" cy="470.85" r="1.95" fill="#000"/>
<circle cx="107.20" cy="475.34" r="1.95" fill="#000"/>
<circle cx="112.04" cy="476.23" r="1.95" fill="#000"/>
<circle cx="117.42" cy="474.98" r="1.95" fill="#000"/>
<circle cx="121.01" cy="477.13" r="1.95" fill="#000"/>
<circle cx="112.58" cy="481.61" r="1.95" fill="#000"/>
<circle cx="117.96" cy="480.36" r="1.95" fill="#000"/>
<circle cx="115.63" cy="486.10" r="1.95" fill="#000"/>
<line x1="130.87" y1="445.20" x2="147.91" y2="445.20" stroke="#00b000" stroke-width="0.9" />
<line x1="139.48" y1="441.26" x2="139.48" y2="449.33" stroke="#00b000" stroke-width="0.9" />
<line x1="135.54" y1="441.26" x2="143.43" y2="441.26" stroke="#00b000" stroke-width="0.9" />
<line x1="135.54" y1="449.33" x2="143.43" y2="449.33" stroke="#00b000" stroke-width="0.9" />
<polygon points="141.28,426.55 143.48,430.73 139.08,430.73" fill="#00b000"/>
<polygon points="137.15,430.68 139.35,434.86 134.95,434.86" fill="#00b000"/>
<polygon points="134.82,449.51 137.02,453.69 132.62,453.69" fill="#00b000"/>
<polygon points="138.95,449.51 141.15,453.69 136.75,453.69" fill="#00b000"/>
<polygon points="143.07,449.51 145.27,453.69 140.87,453.69" fill="#00b000"/>
<polygon points="138.95,462.42 141.15,466.60 136.75,466.60" fill="#00b000"/>
<polygon points="132.67,466.01 134.87,470.19 130.47,470.19" fill="#00b000"/>
<polygon points="137.15,467.45 139.35,471.63 134.95,471.63" fill="#00b000"/>
<polygon points="141.28,469.24 143.48,473.42 139.08,473.42" fill="#00b000"/>
<polygon points="145.22,470.68 147.42,474.86 143.02,474.86" fill="#00b000"/>
<line x1="155.99" y1="460.63" x2="172.49" y2="460.63" stroke="#0000ff" stroke-width="0.9" />
<line x1="164.24" y1="457.40" x2="164.24" y2="464.57" stroke="#0000ff" stroke-width="0.9" />
<line x1="160.29" y1="457.40" x2="168.18" y2="457.40" stroke="#0000ff" stroke-width="0.9" />
<line x1="160.29" y1="464.57" x2="168.18" y2="464.57" stroke="#0000ff" stroke-width="0.9" />
<rect x="162.26" y="441.25" width="3.60" height="3.60" fill="#0000ff"/>
<rect x="156.88" y="452.91" width="3.60" height="3.60" fill="#0000ff"/>
<rect x="162.26" y="453.81" width="3.60" height="3.60" fill="#0000ff"/>
<rect x="168.18" y="451.29" width="3.60" height="3.60" fill="#0000ff"/>
<rect x="159.57" y="460.08" width="3.60" height="3.60" fill="#0000ff"/>
<rect x="164.95" y="462.77" width="3.60" height="3.60" fill="#0000ff"/>
<rect x="156.88" y="471.74" width="3.60" height="3.60" fill="#0000ff"/>
<rect x="162.26" y="470.85" width="3.60" height="3.60" fill="#0000ff"/>
<rect x="168.18" y="470.85" width="3.60" height="3.60" fill="#0000ff"/>
<rect x="156.88" y="477.12" width="3.60" height="3.60" fill="#0000ff"/>
<rect x="162.26" y="477.12" width="3.60" height="3.60" fill="#0000ff"/>
<rect x="168.18" y="480.71" width="3.60" height="3.60" fill="#0000ff"/>
<rect x="159.57" y="484.30" width="3.60" height="3.60" fill="#0000ff"/>
<rect x="164.95" y="486.99" width="3.60" height="3.60" fill="#0000ff"/>
<line x1="180.20" y1="446.64" x2="197.60" y2="446.64" stroke="#ff0000" stroke-width="0.9" />
<line x1="188.63" y1="442.15" x2="188.63" y2="455.61" stroke="#ff0000" stroke-width="0.9" />
<line x1="184.69" y1="442.15" x2="192.58" y2="442.15" stroke="#ff0000" stroke-width="0.9" />
<line x1="184.69" y1="455.61" x2="192.58" y2="455.61" stroke="#ff0000" stroke-width="0.9" />
<polygon points="188.63,425.17 190.72,427.26 188.63,429.35 186.54,427.26" fill="#ff0000"/>
<polygon points="188.63,433.78 190.72,435.87 188.63,437.96 186.54,435.87" fill="#ff0000"/>
<polygon points="186.84,451.36 188.93,453.45 186.84,455.54 184.75,453.45" fill="#ff0000"/>
<polygon points="191.86,451.72 193.95,453.81 191.86,455.90 189.77,453.81" fill="#ff0000"/>
<polygon points="188.63,456.74 190.72,458.83 188.63,460.92 186.54,458.83" fill="#ff0000"/>
<polygon points="186.12,466.97 188.21,469.06 186.12,471.15 184.03,469.06" fill="#ff0000"/>
<polygon points="191.86,466.97 193.95,469.06 191.86,471.15 189.77,469.06" fill="#ff0000"/>
<polygon points="183.79,473.61 185.88,475.70 183.79,477.79 181.70,475.70" fill="#ff0000"/>
<polygon points="188.63,473.61 190.72,475.70 188.63,477.79 186.54,475.70" fill="#ff0000"/>
<polygon points="183.25,478.99 185.34,481.08 183.25,483.17 181.16,481.08" fill="#ff0000"/>
<polygon points="188.63,478.99 190.72,481.08 188.63,483.17 186.54,481.08" fill="#ff0000"/>
<polygon points="194.55,484.01 196.64,486.10 194.55,488.19 192.46,486.10" fill="#ff0000"/>
<polyline points="114.73,421.14 114.73,417.94 140.20,417.94 140.20,421.14" fill="none" stroke="#333" stroke-width="0.9" />
<text x="127.80" y="418.58" font-size="9.2" text-anchor="middle" fill="#222" >*</text>
<circle cx="230.20" cy="422.30" r="2.90" fill="#000"/>
<text x="236.70" y="425.30" font-size="7.5" text-anchor="start" fill="#000" >Isotype</text>
<polygon points="230.20,430.17 233.30,436.06 227.10,436.06" fill="#00b000"/>
<text x="236.70" y="436.70" font-size="7.5" text-anchor="start" fill="#000" >ITK Inh</text>
<rect x="227.60" y="443.00" width="5.20" height="5.20" fill="#0000ff"/>
<text x="236.70" y="448.60" font-size="7.5" text-anchor="start" fill="#000" >αPD-1</text>
<polygon points="230.20,454.63 233.17,457.60 230.20,460.57 227.23,457.60" fill="#ff0000"/>
<text x="236.70" y="460.60" font-size="7.5" text-anchor="start" fill="#000" >ITK inh+αPD-1</text>
<line x1="348.20" y1="417.10" x2="348.20" y2="514.10" stroke="#333" stroke-width="0.9" />
<line x1="348.20" y1="513.70" x2="447.80" y2="513.70" stroke="#333" stroke-width="0.9" />
<line x1="346.00" y1="417.40" x2="348.20" y2="417.40" stroke="#333" stroke-width="0.8" />
<text x="341.50" y="419.70" font-size="6.1" font-weight="bold" text-anchor="end" fill="#111">10</text>
<text x="342.90" y="417.80" font-size="4.3" font-weight="bold" fill="#111">5</text>
<line x1="346.60" y1="434.23" x2="348.20" y2="434.23" stroke="#333" stroke-width="0.7" />
<line x1="346.60" y1="429.99" x2="348.20" y2="429.99" stroke="#333" stroke-width="0.7" />
<line x1="346.60" y1="426.98" x2="348.20" y2="426.98" stroke="#333" stroke-width="0.7" />
<line x1="346.60" y1="424.65" x2="348.20" y2="424.65" stroke="#333" stroke-width="0.7" />
<line x1="346.60" y1="422.74" x2="348.20" y2="422.74" stroke="#333" stroke-width="0.7" />
<line x1="346.60" y1="421.13" x2="348.20" y2="421.13" stroke="#333" stroke-width="0.7" />
<line x1="346.60" y1="419.73" x2="348.20" y2="419.73" stroke="#333" stroke-width="0.7" />
<line x1="346.60" y1="418.50" x2="348.20" y2="418.50" stroke="#333" stroke-width="0.7" />
<line x1="346.00" y1="441.48" x2="348.20" y2="441.48" stroke="#333" stroke-width="0.8" />
<text x="341.50" y="443.78" font-size="6.1" font-weight="bold" text-anchor="end" fill="#111">10</text>
<text x="342.90" y="441.88" font-size="4.3" font-weight="bold" fill="#111">4</text>
<line x1="346.60" y1="458.30" x2="348.20" y2="458.30" stroke="#333" stroke-width="0.7" />
<line x1="346.60" y1="454.06" x2="348.20" y2="454.06" stroke="#333" stroke-width="0.7" />
<line x1="346.60" y1="451.06" x2="348.20" y2="451.06" stroke="#333" stroke-width="0.7" />
<line x1="346.60" y1="448.72" x2="348.20" y2="448.72" stroke="#333" stroke-width="0.7" />
<line x1="346.60" y1="446.82" x2="348.20" y2="446.82" stroke="#333" stroke-width="0.7" />
<line x1="346.60" y1="445.20" x2="348.20" y2="445.20" stroke="#333" stroke-width="0.7" />
<line x1="346.60" y1="443.81" x2="348.20" y2="443.81" stroke="#333" stroke-width="0.7" />
<line x1="346.60" y1="442.58" x2="348.20" y2="442.58" stroke="#333" stroke-width="0.7" />
<line x1="346.00" y1="465.55" x2="348.20" y2="465.55" stroke="#333" stroke-width="0.8" />
<text x="341.50" y="467.85" font-size="6.1" font-weight="bold" text-anchor="end" fill="#111">10</text>
<text x="342.90" y="465.95" font-size="4.3" font-weight="bold" fill="#111">3</text>
<line x1="346.60" y1="482.38" x2="348.20" y2="482.38" stroke="#333" stroke-width="0.7" />
<line x1="346.60" y1="478.14" x2="348.20" y2="478.14" stroke="#333" stroke-width="0.7" />
<line x1="346.60" y1="475.13" x2="348.20" y2="475.13" stroke="#333" stroke-width="0.7" />
<line x1="346.60" y1="472.80" x2="348.20" y2="472.80" stroke="#333" stroke-width="0.7" />
<line x1="346.60" y1="470.89" x2="348.20" y2="470.89" stroke="#333" stroke-width="0.7" />
<line x1="346.60" y1="469.28" x2="348.20" y2="469.28" stroke="#333" stroke-width="0.7" />
<line x1="346.60" y1="467.88" x2="348.20" y2="467.88" stroke="#333" stroke-width="0.7" />
<line x1="346.60" y1="466.65" x2="348.20" y2="466.65" stroke="#333" stroke-width="0.7" />
<line x1="346.00" y1="489.62" x2="348.20" y2="489.62" stroke="#333" stroke-width="0.8" />
<text x="341.50" y="491.93" font-size="6.1" font-weight="bold" text-anchor="end" fill="#111">10</text>
<text x="342.90" y="490.02" font-size="4.3" font-weight="bold" fill="#111">2</text>
<line x1="346.60" y1="506.45" x2="348.20" y2="506.45" stroke="#333" stroke-width="0.7" />
<line x1="346.60" y1="502.21" x2="348.20" y2="502.21" stroke="#333" stroke-width="0.7" />
<line x1="346.60" y1="499.21" x2="348.20" y2="499.21" stroke="#333" stroke-width="0.7" />
<line x1="346.60" y1="496.87" x2="348.20" y2="496.87" stroke="#333" stroke-width="0.7" />
<line x1="346.60" y1="494.97" x2="348.20" y2="494.97" stroke="#333" stroke-width="0.7" />
<line x1="346.60" y1="493.35" x2="348.20" y2="493.35" stroke="#333" stroke-width="0.7" />
<line x1="346.60" y1="491.96" x2="348.20" y2="491.96" stroke="#333" stroke-width="0.7" />
<line x1="346.60" y1="490.73" x2="348.20" y2="490.73" stroke="#333" stroke-width="0.7" />
<line x1="346.00" y1="513.70" x2="348.20" y2="513.70" stroke="#333" stroke-width="0.8" />
<text x="341.50" y="516.00" font-size="6.1" font-weight="bold" text-anchor="end" fill="#111">10</text>
<text x="342.90" y="514.10" font-size="4.3" font-weight="bold" fill="#111">1</text>
<line x1="360.70" y1="513.70" x2="360.70" y2="515.90" stroke="#333" stroke-width="0.8" />
<line x1="385.50" y1="513.70" x2="385.50" y2="515.90" stroke="#333" stroke-width="0.8" />
<line x1="410.10" y1="513.70" x2="410.10" y2="515.90" stroke="#333" stroke-width="0.8" />
<line x1="435.20" y1="513.70" x2="435.20" y2="515.90" stroke="#333" stroke-width="0.8" />
<text x="310.90" y="454.60" font-size="6.5" text-anchor="middle" fill="#111" >Absolute #</text>
<text x="310.90" y="462.30" font-size="6.5" text-anchor="middle" fill="#111" >of TCF1+</text>
<text x="310.90" y="469.90" font-size="6.5" text-anchor="middle" fill="#111" textLength="29.50" lengthAdjust="spacingAndGlyphs" >donor cells</text>
<text x="310.90" y="477.40" font-size="6.5" text-anchor="middle" fill="#111" >in LN</text>
<line x1="352.65" y1="469.44" x2="368.79" y2="469.44" stroke="#000" stroke-width="0.9" />
<line x1="360.72" y1="466.75" x2="360.72" y2="472.13" stroke="#000" stroke-width="0.9" />
<line x1="357.13" y1="466.75" x2="364.30" y2="466.75" stroke="#000" stroke-width="0.9" />
<line x1="357.13" y1="472.13" x2="364.30" y2="472.13" stroke="#000" stroke-width="0.9" />
<circle cx="360.72" cy="453.30" r="1.95" fill="#000"/>
<circle cx="357.49" cy="466.39" r="1.95" fill="#000"/>
<circle cx="362.15" cy="465.85" r="1.95" fill="#000"/>
<circle cx="359.82" cy="472.49" r="1.95" fill="#000"/>
<circle cx="354.98" cy="472.13" r="1.95" fill="#000"/>
<circle cx="352.65" cy="476.61" r="1.95" fill="#000"/>
<circle cx="357.13" cy="477.51" r="1.95" fill="#000"/>
<circle cx="362.87" cy="473.92" r="1.95" fill="#000"/>
<circle cx="366.46" cy="476.61" r="1.95" fill="#000"/>
<circle cx="358.92" cy="480.74" r="1.95" fill="#000"/>
<circle cx="360.72" cy="483.79" r="1.95" fill="#000"/>
<circle cx="361.08" cy="486.48" r="1.95" fill="#000"/>
<line x1="377.22" y1="446.48" x2="393.54" y2="446.48" stroke="#00b000" stroke-width="0.9" />
<line x1="385.47" y1="442.00" x2="385.47" y2="452.04" stroke="#00b000" stroke-width="0.9" />
<line x1="381.52" y1="442.00" x2="389.42" y2="442.00" stroke="#00b000" stroke-width="0.9" />
<line x1="381.52" y1="452.04" x2="389.42" y2="452.04" stroke="#00b000" stroke-width="0.9" />
<polygon points="382.24,428.01 384.44,432.19 380.04,432.19" fill="#00b000"/>
<polygon points="389.78,432.31 391.98,436.49 387.58,436.49" fill="#00b000"/>
<polygon points="389.06,440.92 391.26,445.10 386.86,445.10" fill="#00b000"/>
<polygon points="381.88,449.89 384.08,454.07 379.68,454.07" fill="#00b000"/>
<polygon points="387.26,450.25 389.46,454.43 385.06,454.43" fill="#00b000"/>
<polygon points="384.93,450.79 387.13,454.97 382.73,454.97" fill="#00b000"/>
<polygon points="384.04,464.60 386.24,468.78 381.84,468.78" fill="#00b000"/>
<polygon points="381.88,469.26 384.08,473.44 379.68,473.44" fill="#00b000"/>
<polygon points="386.19,472.31 388.39,476.49 383.99,476.49" fill="#00b000"/>
<polygon points="390.85,468.73 393.05,472.91 388.65,472.91" fill="#00b000"/>
<line x1="401.88" y1="462.26" x2="418.57" y2="462.26" stroke="#0000ff" stroke-width="0.9" />
<line x1="410.13" y1="457.78" x2="410.13" y2="466.75" stroke="#0000ff" stroke-width="0.9" />
<line x1="406.19" y1="457.78" x2="414.08" y2="457.78" stroke="#0000ff" stroke-width="0.9" />
<line x1="406.19" y1="466.75" x2="414.08" y2="466.75" stroke="#0000ff" stroke-width="0.9" />
<rect x="408.33" y="441.99" width="3.60" height="3.60" fill="#0000ff"/>
<rect x="404.21" y="453.29" width="3.60" height="3.60" fill="#0000ff"/>
<rect x="411.38" y="452.39" width="3.60" height="3.60" fill="#0000ff"/>
<rect x="405.46" y="464.95" width="3.60" height="3.60" fill="#0000ff"/>
<rect x="410.85" y="464.95" width="3.60" height="3.60" fill="#0000ff"/>
<rect x="401.16" y="474.28" width="3.60" height="3.60" fill="#0000ff"/>
<rect x="417.30" y="472.12" width="3.60" height="3.60" fill="#0000ff"/>
<rect x="412.64" y="476.07" width="3.60" height="3.60" fill="#0000ff"/>
<rect x="413.18" y="478.40" width="3.60" height="3.60" fill="#0000ff"/>
<rect x="408.33" y="480.20" width="3.60" height="3.60" fill="#0000ff"/>
<rect x="405.11" y="482.35" width="3.60" height="3.60" fill="#0000ff"/>
<rect x="409.59" y="487.91" width="3.60" height="3.60" fill="#0000ff"/>
<rect x="411.38" y="490.96" width="3.60" height="3.60" fill="#0000ff"/>
<line x1="427.00" y1="447.38" x2="443.68" y2="447.38" stroke="#ff0000" stroke-width="0.9" />
<line x1="435.25" y1="443.07" x2="435.25" y2="456.88" stroke="#ff0000" stroke-width="0.9" />
<line x1="431.30" y1="443.07" x2="439.19" y2="443.07" stroke="#ff0000" stroke-width="0.9" />
<line x1="431.30" y1="456.88" x2="439.19" y2="456.88" stroke="#ff0000" stroke-width="0.9" />
<polygon points="435.25,426.45 437.34,428.54 435.25,430.63 433.16,428.54" fill="#ff0000"/>
<polygon points="431.12,434.70 433.21,436.79 431.12,438.88 429.03,436.79" fill="#ff0000"/>
<polygon points="435.25,448.87 437.34,450.96 435.25,453.05 433.16,450.96" fill="#ff0000"/>
<polygon points="431.12,453.36 433.21,455.45 431.12,457.54 429.03,455.45" fill="#ff0000"/>
<polygon points="439.19,457.84 441.28,459.93 439.19,462.02 437.10,459.93" fill="#ff0000"/>
<polygon points="431.12,468.61 433.21,470.70 431.12,472.79 429.03,470.70" fill="#ff0000"/>
<polygon points="439.19,468.61 441.28,470.70 439.19,472.79 437.10,470.70" fill="#ff0000"/>
<polygon points="435.25,475.42 437.34,477.51 435.25,479.60 433.16,477.51" fill="#ff0000"/>
<polygon points="431.12,480.26 433.21,482.35 431.12,484.44 429.03,482.35" fill="#ff0000"/>
<polygon points="439.19,480.80 441.28,482.89 439.19,484.98 437.10,482.89" fill="#ff0000"/>
<polygon points="435.25,487.08 437.34,489.17 435.25,491.26 433.16,489.17" fill="#ff0000"/>
<polyline points="360.72,419.37 360.72,416.17 385.47,416.17 385.47,419.37" fill="none" stroke="#333" stroke-width="0.9" />
<text x="374.70" y="417.38" font-size="9.2" text-anchor="middle" fill="#222" >**</text>
<circle cx="485.80" cy="420.20" r="2.90" fill="#000"/>
<text x="492.80" y="423.12" font-size="7.3" text-anchor="start" fill="#000" >Isotype</text>
<polygon points="485.80,427.97 488.90,433.86 482.70,433.86" fill="#00b000"/>
<text x="492.80" y="434.42" font-size="7.3" text-anchor="start" fill="#000" >ITK Inh</text>
<rect x="483.20" y="440.90" width="5.20" height="5.20" fill="#0000ff"/>
<text x="492.80" y="446.42" font-size="7.3" text-anchor="start" fill="#000" >αPD-1</text>
<polygon points="485.80,452.43 488.77,455.40 485.80,458.37 482.83,455.40" fill="#ff0000"/>
<text x="492.80" y="458.32" font-size="7.3" text-anchor="start" fill="#000" >ITK inh+αPD-1</text>
<line x1="77.30" y1="580.30" x2="77.30" y2="676.90" stroke="#333" stroke-width="0.9" />
<line x1="77.30" y1="676.50" x2="186.70" y2="676.50" stroke="#333" stroke-width="0.9" />
<line x1="75.10" y1="580.60" x2="77.30" y2="580.60" stroke="#333" stroke-width="0.8" />
<text x="70.80" y="582.30" font-size="4.8" font-weight="bold" text-anchor="end" fill="#111">10</text>
<text x="71.40" y="581.20" font-size="3.4" font-weight="bold" fill="#111">6</text>
<line x1="75.70" y1="597.36" x2="77.30" y2="597.36" stroke="#333" stroke-width="0.7" />
<line x1="75.70" y1="593.14" x2="77.30" y2="593.14" stroke="#333" stroke-width="0.7" />
<line x1="75.70" y1="590.14" x2="77.30" y2="590.14" stroke="#333" stroke-width="0.7" />
<line x1="75.70" y1="587.82" x2="77.30" y2="587.82" stroke="#333" stroke-width="0.7" />
<line x1="75.70" y1="585.92" x2="77.30" y2="585.92" stroke="#333" stroke-width="0.7" />
<line x1="75.70" y1="584.31" x2="77.30" y2="584.31" stroke="#333" stroke-width="0.7" />
<line x1="75.70" y1="582.92" x2="77.30" y2="582.92" stroke="#333" stroke-width="0.7" />
<line x1="75.70" y1="581.70" x2="77.30" y2="581.70" stroke="#333" stroke-width="0.7" />
<line x1="75.10" y1="604.58" x2="77.30" y2="604.58" stroke="#333" stroke-width="0.8" />
<text x="70.80" y="606.28" font-size="4.8" font-weight="bold" text-anchor="end" fill="#111">10</text>
<text x="71.40" y="605.18" font-size="3.4" font-weight="bold" fill="#111">5</text>
<line x1="75.70" y1="621.33" x2="77.30" y2="621.33" stroke="#333" stroke-width="0.7" />
<line x1="75.70" y1="617.11" x2="77.30" y2="617.11" stroke="#333" stroke-width="0.7" />
<line x1="75.70" y1="614.12" x2="77.30" y2="614.12" stroke="#333" stroke-width="0.7" />
<line x1="75.70" y1="611.79" x2="77.30" y2="611.79" stroke="#333" stroke-width="0.7" />
<line x1="75.70" y1="609.89" x2="77.30" y2="609.89" stroke="#333" stroke-width="0.7" />
<line x1="75.70" y1="608.29" x2="77.30" y2="608.29" stroke="#333" stroke-width="0.7" />
<line x1="75.70" y1="606.90" x2="77.30" y2="606.90" stroke="#333" stroke-width="0.7" />
<line x1="75.70" y1="605.67" x2="77.30" y2="605.67" stroke="#333" stroke-width="0.7" />
<line x1="75.10" y1="628.55" x2="77.30" y2="628.55" stroke="#333" stroke-width="0.8" />
<text x="70.80" y="630.25" font-size="4.8" font-weight="bold" text-anchor="end" fill="#111">10</text>
<text x="71.40" y="629.15" font-size="3.4" font-weight="bold" fill="#111">4</text>
<line x1="75.70" y1="645.31" x2="77.30" y2="645.31" stroke="#333" stroke-width="0.7" />
<line x1="75.70" y1="641.09" x2="77.30" y2="641.09" stroke="#333" stroke-width="0.7" />
<line x1="75.70" y1="638.09" x2="77.30" y2="638.09" stroke="#333" stroke-width="0.7" />
<line x1="75.70" y1="635.77" x2="77.30" y2="635.77" stroke="#333" stroke-width="0.7" />
<line x1="75.70" y1="633.87" x2="77.30" y2="633.87" stroke="#333" stroke-width="0.7" />
<line x1="75.70" y1="632.26" x2="77.30" y2="632.26" stroke="#333" stroke-width="0.7" />
<line x1="75.70" y1="630.87" x2="77.30" y2="630.87" stroke="#333" stroke-width="0.7" />
<line x1="75.70" y1="629.65" x2="77.30" y2="629.65" stroke="#333" stroke-width="0.7" />
<line x1="75.10" y1="652.52" x2="77.30" y2="652.52" stroke="#333" stroke-width="0.8" />
<text x="70.80" y="654.23" font-size="4.8" font-weight="bold" text-anchor="end" fill="#111">10</text>
<text x="71.40" y="653.12" font-size="3.4" font-weight="bold" fill="#111">3</text>
<line x1="75.70" y1="669.28" x2="77.30" y2="669.28" stroke="#333" stroke-width="0.7" />
<line x1="75.70" y1="665.06" x2="77.30" y2="665.06" stroke="#333" stroke-width="0.7" />
<line x1="75.70" y1="662.07" x2="77.30" y2="662.07" stroke="#333" stroke-width="0.7" />
<line x1="75.70" y1="659.74" x2="77.30" y2="659.74" stroke="#333" stroke-width="0.7" />
<line x1="75.70" y1="657.84" x2="77.30" y2="657.84" stroke="#333" stroke-width="0.7" />
<line x1="75.70" y1="656.24" x2="77.30" y2="656.24" stroke="#333" stroke-width="0.7" />
<line x1="75.70" y1="654.85" x2="77.30" y2="654.85" stroke="#333" stroke-width="0.7" />
<line x1="75.70" y1="653.62" x2="77.30" y2="653.62" stroke="#333" stroke-width="0.7" />
<line x1="75.10" y1="676.50" x2="77.30" y2="676.50" stroke="#333" stroke-width="0.8" />
<text x="70.80" y="678.20" font-size="4.8" font-weight="bold" text-anchor="end" fill="#111">10</text>
<text x="71.40" y="677.10" font-size="3.4" font-weight="bold" fill="#111">2</text>
<line x1="90.42" y1="676.50" x2="90.42" y2="678.70" stroke="#333" stroke-width="0.8" />
<line x1="111.25" y1="676.50" x2="111.25" y2="678.70" stroke="#333" stroke-width="0.8" />
<line x1="131.88" y1="676.50" x2="131.88" y2="678.70" stroke="#333" stroke-width="0.8" />
<line x1="152.71" y1="676.50" x2="152.71" y2="678.70" stroke="#333" stroke-width="0.8" />
<line x1="173.12" y1="676.50" x2="173.12" y2="678.70" stroke="#333" stroke-width="0.8" />
<text x="30.40" y="618.50" font-size="6.6" text-anchor="middle" fill="#111" textLength="28.70" lengthAdjust="spacingAndGlyphs" >Absolute #</text>
<text x="30.40" y="626.10" font-size="6.6" text-anchor="middle" fill="#111" textLength="36.30" lengthAdjust="spacingAndGlyphs" >CD8+ T cells</text>
<text x="30.40" y="634.00" font-size="6.6" text-anchor="middle" fill="#111" textLength="51.10" lengthAdjust="spacingAndGlyphs" >in tumor  / 100mm²</text>
<line x1="84.17" y1="615.71" x2="97.08" y2="615.71" stroke="#333" stroke-width="0.9" />
<line x1="90.54" y1="612.50" x2="90.54" y2="621.60" stroke="#333" stroke-width="0.9" />
<line x1="87.42" y1="612.50" x2="93.67" y2="612.50" stroke="#333" stroke-width="0.9" />
<line x1="87.42" y1="621.60" x2="93.67" y2="621.60" stroke="#333" stroke-width="0.9" />
<circle cx="90.54" cy="599.17" r="2.15" fill="#000"/>
<circle cx="85.69" cy="612.54" r="2.15" fill="#000"/>
<circle cx="95.60" cy="609.90" r="2.15" fill="#000"/>
<circle cx="85.69" cy="616.75" r="2.15" fill="#000"/>
<circle cx="95.60" cy="616.75" r="2.15" fill="#000"/>
<circle cx="90.54" cy="624.00" r="2.15" fill="#000"/>
<circle cx="90.54" cy="628.40" r="2.15" fill="#000"/>
<circle cx="95.60" cy="630.81" r="2.15" fill="#000"/>
<circle cx="95.60" cy="634.71" r="2.15" fill="#000"/>
<circle cx="85.69" cy="632.71" r="2.15" fill="#000"/>
<circle cx="85.69" cy="637.79" r="2.15" fill="#000"/>
<circle cx="90.54" cy="642.00" r="2.15" fill="#000"/>
<line x1="104.38" y1="618.96" x2="118.33" y2="618.96" stroke="#00b400" stroke-width="0.9" />
<line x1="111.15" y1="616.67" x2="111.15" y2="622.29" stroke="#00b400" stroke-width="0.9" />
<line x1="108.02" y1="616.67" x2="114.27" y2="616.67" stroke="#00b400" stroke-width="0.9" />
<line x1="108.02" y1="622.29" x2="114.27" y2="622.29" stroke="#00b400" stroke-width="0.9" />
<polygon points="111.15,604.76 113.55,609.32 108.75,609.32" fill="#00b400"/>
<polygon points="111.15,610.60 113.55,615.16 108.75,615.16" fill="#00b400"/>
<polygon points="106.29,613.01 108.69,617.57 103.89,617.57" fill="#00b400"/>
<polygon points="116.29,613.01 118.69,617.57 113.89,617.57" fill="#00b400"/>
<polygon points="106.29,619.35 108.69,623.91 103.89,623.91" fill="#00b400"/>
<polygon points="111.15,616.47 113.55,621.03 108.75,621.03" fill="#00b400"/>
<polygon points="116.29,621.26 118.69,625.82 113.89,625.82" fill="#00b400"/>
<polygon points="106.29,625.66 108.69,630.22 103.89,630.22" fill="#00b400"/>
<polygon points="111.15,623.97 113.55,628.53 108.75,628.53" fill="#00b400"/>
<polygon points="116.29,625.66 118.69,630.22 113.89,630.22" fill="#00b400"/>
<polygon points="111.15,630.47 113.55,635.03 108.75,635.03" fill="#00b400"/>
<polygon points="111.15,639.26 113.55,643.82 108.75,643.82" fill="#00b400"/>
<line x1="124.58" y1="612.92" x2="139.58" y2="612.92" stroke="#0000ff" stroke-width="0.9" />
<line x1="132.06" y1="609.79" x2="132.06" y2="616.04" stroke="#0000ff" stroke-width="0.9" />
<line x1="128.94" y1="609.79" x2="135.19" y2="609.79" stroke="#0000ff" stroke-width="0.9" />
<line x1="128.94" y1="616.04" x2="135.19" y2="616.04" stroke="#0000ff" stroke-width="0.9" />
<rect x="125.11" y="603.44" width="4.20" height="4.20" fill="#0000ff"/>
<rect x="129.96" y="605.90" width="4.20" height="4.20" fill="#0000ff"/>
<rect x="135.28" y="605.90" width="4.20" height="4.20" fill="#0000ff"/>
<rect x="125.11" y="608.82" width="4.20" height="4.20" fill="#0000ff"/>
<rect x="135.28" y="611.23" width="4.20" height="4.20" fill="#0000ff"/>
<rect x="125.11" y="613.65" width="4.20" height="4.20" fill="#0000ff"/>
<rect x="129.96" y="611.23" width="4.20" height="4.20" fill="#0000ff"/>
<rect x="125.11" y="621.90" width="4.20" height="4.20" fill="#0000ff"/>
<rect x="129.96" y="618.52" width="4.20" height="4.20" fill="#0000ff"/>
<rect x="135.28" y="619.00" width="4.20" height="4.20" fill="#0000ff"/>
<rect x="135.28" y="608.82" width="4.20" height="4.20" fill="#0000ff"/>
<rect x="135.28" y="621.90" width="4.20" height="4.20" fill="#0000ff"/>
<line x1="146.25" y1="599.58" x2="160.00" y2="599.58" stroke="#ff0000" stroke-width="0.9" />
<line x1="152.50" y1="596.71" x2="152.50" y2="602.29" stroke="#ff0000" stroke-width="0.9" />
<line x1="149.38" y1="596.71" x2="155.62" y2="596.71" stroke="#ff0000" stroke-width="0.9" />
<line x1="149.38" y1="602.29" x2="155.62" y2="602.29" stroke="#ff0000" stroke-width="0.9" />
<polygon points="156.10,590.71 158.52,593.12 156.10,595.54 153.68,593.12" fill="#ff0000"/>
<polygon points="147.29,593.48 149.71,595.90 147.29,598.32 144.87,595.90" fill="#ff0000"/>
<polygon points="147.29,600.29 149.71,602.71 147.29,605.13 144.87,602.71" fill="#ff0000"/>
<polygon points="157.29,599.08 159.71,601.50 157.29,603.92 154.87,601.50" fill="#ff0000"/>
<polygon points="152.50,608.21 154.92,610.62 152.50,613.04 150.08,610.62" fill="#ff0000"/>
<polygon points="152.50,598.00 154.92,600.42 152.50,602.84 150.08,600.42" fill="#ff0000"/>
<line x1="165.42" y1="616.00" x2="180.83" y2="616.00" stroke="#ff0000" stroke-width="0.9" />
<line x1="173.10" y1="613.96" x2="173.10" y2="618.12" stroke="#ff0000" stroke-width="0.9" />
<line x1="169.98" y1="613.96" x2="176.23" y2="613.96" stroke="#ff0000" stroke-width="0.9" />
<line x1="169.98" y1="618.12" x2="176.23" y2="618.12" stroke="#ff0000" stroke-width="0.9" />
<polygon points="167.79,614.34 170.19,609.78 165.39,609.78" fill="#ff0000"/>
<polygon points="178.29,614.34 180.69,609.78 175.89,609.78" fill="#ff0000"/>
<polygon points="167.79,617.57 170.19,613.01 165.39,613.01" fill="#ff0000"/>
<polygon points="173.10,616.74 175.50,612.18 170.70,612.18" fill="#ff0000"/>
<polygon points="178.29,618.24 180.69,613.68 175.89,613.68" fill="#ff0000"/>
<polygon points="173.10,623.24 175.50,618.68 170.70,618.68" fill="#ff0000"/>
<polygon points="173.10,635.34 175.50,630.78 170.70,630.78" fill="#ff0000"/>
<polyline points="92.40,558.80 92.40,555.20 134.40,555.20 134.40,558.80" fill="none" stroke="#333" stroke-width="0.9" />
<text x="112.30" y="557.58" font-size="9.2" text-anchor="middle" fill="#222" >*</text>
<polyline points="92.40,567.30 92.40,563.50 153.50,563.50 153.50,567.30" fill="none" stroke="#333" stroke-width="0.9" />
<text x="124.50" y="565.68" font-size="9.2" text-anchor="middle" fill="#222" >**</text>
<polyline points="134.00,579.40 134.00,576.00 153.50,576.00 153.50,579.40" fill="none" stroke="#333" stroke-width="0.9" />
<text x="143.90" y="577.08" font-size="9.2" text-anchor="middle" fill="#222" >**</text>
<polyline points="153.50,587.50 153.50,584.10 173.80,584.10 173.80,587.50" fill="none" stroke="#333" stroke-width="0.9" />
<text x="163.60" y="585.98" font-size="9.2" text-anchor="middle" fill="#222" >**</text>
<circle cx="194.90" cy="560.80" r="2.40" fill="#000"/>
<text x="200.80" y="563.24" font-size="6.1" text-anchor="start" fill="#000" >Isotype</text>
<polygon points="194.90,566.85 197.40,571.60 192.40,571.60" fill="#00b400"/>
<text x="200.80" y="572.14" font-size="6.1" text-anchor="start" fill="#000" >ITK Inh</text>
<rect x="192.70" y="576.50" width="4.40" height="4.40" fill="#0000ff"/>
<text x="200.80" y="581.14" font-size="6.1" text-anchor="start" fill="#000" >αPD-1</text>
<polygon points="194.90,586.07 197.43,588.60 194.90,591.13 192.37,588.60" fill="#ff0000"/>
<text x="200.80" y="591.04" font-size="6.1" text-anchor="start" fill="#000" >ITK inh+αPD-1 (tumor controlled)</text>
<polygon points="194.90,601.48 197.60,596.35 192.20,596.35" fill="#ff0000"/>
<text x="200.80" y="600.84" font-size="6.1" text-anchor="start" fill="#000" >ITK inh+αPD-1(tumor uncontrolled)</text>
<line x1="322.40" y1="581.30" x2="322.40" y2="674.90" stroke="#333" stroke-width="0.9" />
<line x1="322.40" y1="674.50" x2="419.70" y2="674.50" stroke="#333" stroke-width="0.9" />
<line x1="320.00" y1="674.50" x2="322.40" y2="674.50" stroke="#333" stroke-width="0.8" />
<text x="320.40" y="676.80" font-size="6.6" text-anchor="end" fill="#111" font-weight="bold" textLength="3.30" lengthAdjust="spacingAndGlyphs" >0</text>
<line x1="320.00" y1="655.75" x2="322.40" y2="655.75" stroke="#333" stroke-width="0.8" />
<text x="320.40" y="658.05" font-size="6.6" text-anchor="end" fill="#111" font-weight="bold" textLength="6.60" lengthAdjust="spacingAndGlyphs" >10</text>
<line x1="320.00" y1="637.00" x2="322.40" y2="637.00" stroke="#333" stroke-width="0.8" />
<text x="320.40" y="639.30" font-size="6.6" text-anchor="end" fill="#111" font-weight="bold" textLength="6.60" lengthAdjust="spacingAndGlyphs" >20</text>
<line x1="320.00" y1="618.25" x2="322.40" y2="618.25" stroke="#333" stroke-width="0.8" />
<text x="320.40" y="620.55" font-size="6.6" text-anchor="end" fill="#111" font-weight="bold" textLength="6.60" lengthAdjust="spacingAndGlyphs" >30</text>
<line x1="320.00" y1="599.50" x2="322.40" y2="599.50" stroke="#333" stroke-width="0.8" />
<text x="320.40" y="601.80" font-size="6.6" text-anchor="end" fill="#111" font-weight="bold" textLength="6.60" lengthAdjust="spacingAndGlyphs" >40</text>
<line x1="320.00" y1="580.75" x2="322.40" y2="580.75" stroke="#333" stroke-width="0.8" />
<text x="320.40" y="583.05" font-size="6.6" text-anchor="end" fill="#111" font-weight="bold" textLength="6.60" lengthAdjust="spacingAndGlyphs" >50</text>
<line x1="334.60" y1="674.50" x2="334.60" y2="676.70" stroke="#333" stroke-width="0.8" />
<line x1="359.20" y1="674.50" x2="359.20" y2="676.70" stroke="#333" stroke-width="0.8" />
<line x1="383.50" y1="674.50" x2="383.50" y2="676.70" stroke="#333" stroke-width="0.8" />
<line x1="407.40" y1="674.50" x2="407.40" y2="676.70" stroke="#333" stroke-width="0.8" />
<text x="307.20" y="628.40" font-size="6.4" text-anchor="end" fill="#111" >% TCF1+</text>
<line x1="327.17" y1="636.04" x2="342.72" y2="636.04" stroke="#000" stroke-width="0.9" />
<line x1="334.65" y1="630.36" x2="334.65" y2="641.57" stroke="#000" stroke-width="0.9" />
<line x1="331.36" y1="630.36" x2="337.94" y2="630.36" stroke="#000" stroke-width="0.9" />
<line x1="331.36" y1="641.57" x2="337.94" y2="641.57" stroke="#000" stroke-width="0.9" />
<circle cx="334.65" cy="606.14" r="2.10" fill="#000"/>
<circle cx="331.66" cy="616.61" r="2.10" fill="#000"/>
<circle cx="338.24" cy="616.16" r="2.10" fill="#000"/>
<circle cx="331.66" cy="623.63" r="2.10" fill="#000"/>
<circle cx="338.24" cy="622.88" r="2.10" fill="#000"/>
<circle cx="334.65" cy="632.60" r="2.10" fill="#000"/>
<circle cx="328.22" cy="645.31" r="2.10" fill="#000"/>
<circle cx="334.65" cy="646.50" r="2.10" fill="#000"/>
<circle cx="341.67" cy="645.61" r="2.10" fill="#000"/>
<circle cx="334.65" cy="653.98" r="2.10" fill="#000"/>
<circle cx="334.65" cy="659.06" r="2.10" fill="#000"/>
<circle cx="334.65" cy="663.54" r="2.10" fill="#000"/>
<line x1="351.09" y1="632.60" x2="367.09" y2="632.60" stroke="#00b400" stroke-width="0.9" />
<line x1="359.16" y1="626.62" x2="359.16" y2="637.83" stroke="#00b400" stroke-width="0.9" />
<line x1="355.87" y1="626.62" x2="362.45" y2="626.62" stroke="#00b400" stroke-width="0.9" />
<line x1="355.87" y1="637.83" x2="362.45" y2="637.83" stroke="#00b400" stroke-width="0.9" />
<polygon points="359.16,595.26 361.36,599.44 356.96,599.44" fill="#00b400"/>
<polygon points="359.16,609.17 361.36,613.35 356.96,613.35" fill="#00b400"/>
<polygon points="352.59,618.58 354.79,622.76 350.39,622.76" fill="#00b400"/>
<polygon points="359.16,621.12 361.36,625.30 356.96,625.30" fill="#00b400"/>
<polygon points="365.59,620.38 367.79,624.56 363.39,624.56" fill="#00b400"/>
<polygon points="359.16,626.06 361.36,630.24 356.96,630.24" fill="#00b400"/>
<polygon points="359.16,631.14 361.36,635.32 356.96,635.32" fill="#00b400"/>
<polygon points="355.58,636.82 357.78,641.00 353.38,641.00" fill="#00b400"/>
<polygon points="362.60,636.07 364.80,640.25 360.40,640.25" fill="#00b400"/>
<polygon points="359.16,646.98 361.36,651.16 356.96,651.16" fill="#00b400"/>
<polygon points="359.16,660.44 361.36,664.62 356.96,664.62" fill="#00b400"/>
<polygon points="359.16,664.47 361.36,668.65 356.96,668.65" fill="#00b400"/>
<line x1="375.61" y1="656.52" x2="391.45" y2="656.52" stroke="#0000ff" stroke-width="0.9" />
<line x1="383.53" y1="653.53" x2="383.53" y2="660.25" stroke="#0000ff" stroke-width="0.9" />
<line x1="380.24" y1="653.53" x2="386.82" y2="653.53" stroke="#0000ff" stroke-width="0.9" />
<line x1="380.24" y1="660.25" x2="386.82" y2="660.25" stroke="#0000ff" stroke-width="0.9" />
<rect x="381.58" y="632.59" width="3.90" height="3.90" fill="#0000ff"/>
<rect x="381.58" y="640.37" width="3.90" height="3.90" fill="#0000ff"/>
<rect x="374.55" y="644.55" width="3.90" height="3.90" fill="#0000ff"/>
<rect x="387.56" y="644.55" width="3.90" height="3.90" fill="#0000ff"/>
<rect x="381.58" y="647.54" width="3.90" height="3.90" fill="#0000ff"/>
<rect x="384.57" y="651.58" width="3.90" height="3.90" fill="#0000ff"/>
<rect x="377.84" y="653.52" width="3.90" height="3.90" fill="#0000ff"/>
<rect x="381.58" y="657.11" width="3.90" height="3.90" fill="#0000ff"/>
<rect x="374.55" y="664.28" width="3.90" height="3.90" fill="#0000ff"/>
<rect x="381.58" y="662.79" width="3.90" height="3.90" fill="#0000ff"/>
<rect x="387.56" y="665.03" width="3.90" height="3.90" fill="#0000ff"/>
<rect x="377.84" y="667.27" width="3.90" height="3.90" fill="#0000ff"/>
<rect x="381.58" y="669.07" width="3.90" height="3.90" fill="#0000ff"/>
<rect x="384.57" y="667.27" width="3.90" height="3.90" fill="#0000ff"/>
<line x1="399.22" y1="655.32" x2="415.67" y2="655.32" stroke="#ff0000" stroke-width="0.9" />
<line x1="407.44" y1="651.29" x2="407.44" y2="659.06" stroke="#ff0000" stroke-width="0.9" />
<line x1="404.16" y1="651.29" x2="410.73" y2="651.29" stroke="#ff0000" stroke-width="0.9" />
<line x1="404.16" y1="659.06" x2="410.73" y2="659.06" stroke="#ff0000" stroke-width="0.9" />
<polygon points="407.44,626.96 409.64,629.16 407.44,631.36 405.24,629.16" fill="#ff0000"/>
<polygon points="407.44,635.93 409.64,638.13 407.44,640.33 405.24,638.13" fill="#ff0000"/>
<polygon points="404.01,646.10 406.21,648.30 404.01,650.50 401.81,648.30" fill="#ff0000"/>
<polygon points="410.43,646.10 412.63,648.30 410.43,650.50 408.23,648.30" fill="#ff0000"/>
<polygon points="407.44,649.38 409.64,651.58 407.44,653.78 405.24,651.58" fill="#ff0000"/>
<polygon points="400.72,656.86 402.92,659.06 400.72,661.26 398.52,659.06" fill="#ff0000"/>
<polygon points="413.87,656.56 416.07,658.76 413.87,660.96 411.67,658.76" fill="#ff0000"/>
<polygon points="404.01,660.74 406.21,662.94 404.01,665.14 401.81,662.94" fill="#ff0000"/>
<polygon points="409.69,660.74 411.89,662.94 409.69,665.14 407.49,662.94" fill="#ff0000"/>
<polygon points="404.01,671.21 406.21,673.41 404.01,675.61 401.81,673.41" fill="#ff0000"/>
<polygon points="410.43,670.76 412.63,672.96 410.43,675.16 408.23,672.96" fill="#ff0000"/>
<polyline points="357.70,549.60 357.70,546.60 408.10,546.60 408.10,549.60" fill="none" stroke="#333" stroke-width="0.9" />
<text x="384.60" y="546.38" font-size="9.2" text-anchor="middle" fill="#222" >**</text>
<polyline points="357.70,558.20 357.70,555.20 382.70,555.20 382.70,558.20" fill="none" stroke="#333" stroke-width="0.9" />
<text x="370.30" y="555.78" font-size="9.2" text-anchor="middle" fill="#222" >**</text>
<polyline points="332.30,572.20 332.30,569.20 407.60,569.20 407.60,572.20" fill="none" stroke="#333" stroke-width="0.9" />
<text x="373.20" y="570.18" font-size="9.2" text-anchor="middle" fill="#222" >*</text>
<polyline points="332.30,581.20 332.30,578.20 383.40,578.20 383.40,581.20" fill="none" stroke="#333" stroke-width="0.9" />
<text x="357.70" y="580.68" font-size="9.2" text-anchor="middle" fill="#222" >**</text>
<circle cx="416.10" cy="562.90" r="2.60" fill="#000"/>
<text x="422.00" y="565.46" font-size="6.4" text-anchor="start" fill="#000" >Isotype</text>
<polygon points="416.10,569.81 418.90,575.13 413.30,575.13" fill="#00b400"/>
<text x="422.00" y="575.56" font-size="6.4" text-anchor="start" fill="#000" >ITK Inh</text>
<rect x="413.70" y="580.80" width="4.80" height="4.80" fill="#0000ff"/>
<text x="422.00" y="585.76" font-size="6.4" text-anchor="start" fill="#000" >αPD-1</text>
<polygon points="416.10,591.25 418.85,594.00 416.10,596.75 413.35,594.00" fill="#ff0000"/>
<text x="422.00" y="596.56" font-size="6.4" text-anchor="start" fill="#000" >ITK inh+αPD-1</text>
<line x1="515.30" y1="583.30" x2="515.30" y2="676.10" stroke="#333" stroke-width="0.9" />
<line x1="515.30" y1="675.70" x2="610.40" y2="675.70" stroke="#333" stroke-width="0.9" />
<line x1="513.00" y1="675.70" x2="515.30" y2="675.70" stroke="#333" stroke-width="0.8" />
<text x="513.20" y="678.00" font-size="6.4" text-anchor="end" fill="#111" font-weight="bold" textLength="3.50" lengthAdjust="spacingAndGlyphs" >0</text>
<line x1="513.00" y1="657.25" x2="515.30" y2="657.25" stroke="#333" stroke-width="0.8" />
<text x="513.20" y="659.55" font-size="6.4" text-anchor="end" fill="#111" font-weight="bold" textLength="7.00" lengthAdjust="spacingAndGlyphs" >20</text>
<line x1="513.00" y1="638.80" x2="515.30" y2="638.80" stroke="#333" stroke-width="0.8" />
<text x="513.20" y="641.10" font-size="6.4" text-anchor="end" fill="#111" font-weight="bold" textLength="7.00" lengthAdjust="spacingAndGlyphs" >40</text>
<line x1="513.00" y1="620.35" x2="515.30" y2="620.35" stroke="#333" stroke-width="0.8" />
<text x="513.20" y="622.65" font-size="6.4" text-anchor="end" fill="#111" font-weight="bold" textLength="7.00" lengthAdjust="spacingAndGlyphs" >60</text>
<line x1="513.00" y1="601.90" x2="515.30" y2="601.90" stroke="#333" stroke-width="0.8" />
<text x="513.20" y="604.20" font-size="6.4" text-anchor="end" fill="#111" font-weight="bold" textLength="7.00" lengthAdjust="spacingAndGlyphs" >80</text>
<line x1="513.00" y1="583.45" x2="515.30" y2="583.45" stroke="#333" stroke-width="0.8" />
<text x="513.20" y="585.75" font-size="6.4" text-anchor="end" fill="#111" font-weight="bold" textLength="10.50" lengthAdjust="spacingAndGlyphs" >100</text>
<line x1="527.70" y1="675.70" x2="527.70" y2="677.90" stroke="#333" stroke-width="0.8" />
<line x1="551.20" y1="675.70" x2="551.20" y2="677.90" stroke="#333" stroke-width="0.8" />
<line x1="574.70" y1="675.70" x2="574.70" y2="677.90" stroke="#333" stroke-width="0.8" />
<line x1="598.40" y1="675.70" x2="598.40" y2="677.90" stroke="#333" stroke-width="0.8" />
<text x="498.40" y="628.80" font-size="6.8" text-anchor="end" fill="#111" textLength="19.40" lengthAdjust="spacingAndGlyphs" >% Tox+</text>
<line x1="519.27" y1="602.35" x2="535.11" y2="602.35" stroke="#000" stroke-width="0.9" />
<line x1="527.19" y1="597.42" x2="527.19" y2="607.14" stroke="#000" stroke-width="0.9" />
<line x1="523.90" y1="597.42" x2="530.48" y2="597.42" stroke="#000" stroke-width="0.9" />
<line x1="523.90" y1="607.14" x2="530.48" y2="607.14" stroke="#000" stroke-width="0.9" />
<circle cx="524.20" cy="589.65" r="1.95" fill="#000"/>
<circle cx="530.18" cy="587.71" r="1.95" fill="#000"/>
<circle cx="533.62" cy="590.70" r="1.95" fill="#000"/>
<circle cx="520.46" cy="592.19" r="1.95" fill="#000"/>
<circle cx="524.95" cy="594.73" r="1.95" fill="#000"/>
<circle cx="529.43" cy="594.13" r="1.95" fill="#000"/>
<circle cx="520.76" cy="597.72" r="1.95" fill="#000"/>
<circle cx="529.13" cy="598.62" r="1.95" fill="#000"/>
<circle cx="533.62" cy="597.12" r="1.95" fill="#000"/>
<circle cx="524.95" cy="600.71" r="1.95" fill="#000"/>
<circle cx="527.19" cy="637.48" r="1.95" fill="#000"/>
<circle cx="527.19" cy="646.00" r="1.95" fill="#000"/>
<line x1="542.88" y1="591.89" x2="558.58" y2="591.89" stroke="#00b400" stroke-width="0.9" />
<line x1="550.66" y1="590.70" x2="550.66" y2="592.94" stroke="#00b400" stroke-width="0.9" />
<line x1="547.67" y1="590.70" x2="553.65" y2="590.70" stroke="#00b400" stroke-width="0.9" />
<line x1="547.67" y1="592.94" x2="553.65" y2="592.94" stroke="#00b400" stroke-width="0.9" />
<polygon points="544.68,585.76 546.78,589.75 542.58,589.75" fill="#00b400"/>
<polygon points="550.66,584.27 552.76,588.26 548.56,588.26" fill="#00b400"/>
<polygon points="557.09,585.31 559.19,589.30 554.99,589.30" fill="#00b400"/>
<polygon points="547.07,588.75 549.17,592.74 544.97,592.74" fill="#00b400"/>
<polygon points="552.60,588.75 554.70,592.74 550.50,592.74" fill="#00b400"/>
<polygon points="548.57,590.84 550.67,594.83 546.47,594.83" fill="#00b400"/>
<polygon points="554.84,589.35 556.94,593.34 552.74,593.34" fill="#00b400"/>
<polygon points="544.68,592.04 546.78,596.03 542.58,596.03" fill="#00b400"/>
<polygon points="557.53,591.29 559.63,595.28 555.43,595.28" fill="#00b400"/>
<polygon points="549.16,595.03 551.26,599.02 547.06,599.02" fill="#00b400"/>
<polygon points="553.35,593.83 555.45,597.82 551.25,597.82" fill="#00b400"/>
<polygon points="550.66,599.51 552.76,603.50 548.56,603.50" fill="#00b400"/>
<line x1="566.80" y1="595.93" x2="582.94" y2="595.93" stroke="#0000ff" stroke-width="0.9" />
<line x1="574.57" y1="594.43" x2="574.57" y2="597.42" stroke="#0000ff" stroke-width="0.9" />
<line x1="571.58" y1="594.43" x2="577.56" y2="594.43" stroke="#0000ff" stroke-width="0.9" />
<line x1="571.58" y1="597.42" x2="577.56" y2="597.42" stroke="#0000ff" stroke-width="0.9" />
<rect x="566.10" y="587.75" width="3.80" height="3.80" fill="#0000ff"/>
<rect x="578.35" y="586.85" width="3.80" height="3.80" fill="#0000ff"/>
<rect x="579.85" y="586.25" width="3.80" height="3.80" fill="#0000ff"/>
<rect x="570.13" y="589.84" width="3.80" height="3.80" fill="#0000ff"/>
<rect x="574.62" y="589.84" width="3.80" height="3.80" fill="#0000ff"/>
<rect x="566.69" y="592.53" width="3.80" height="3.80" fill="#0000ff"/>
<rect x="572.08" y="592.23" width="3.80" height="3.80" fill="#0000ff"/>
<rect x="579.10" y="595.22" width="3.80" height="3.80" fill="#0000ff"/>
<rect x="573.12" y="597.02" width="3.80" height="3.80" fill="#0000ff"/>
<rect x="576.11" y="600.30" width="3.80" height="3.80" fill="#0000ff"/>
<rect x="569.39" y="602.25" width="3.80" height="3.80" fill="#0000ff"/>
<rect x="572.67" y="608.97" width="3.80" height="3.80" fill="#0000ff"/>
<line x1="590.72" y1="594.88" x2="607.16" y2="594.88" stroke="#ff0000" stroke-width="0.9" />
<line x1="598.49" y1="591.44" x2="598.49" y2="598.17" stroke="#ff0000" stroke-width="0.9" />
<line x1="595.50" y1="591.44" x2="601.48" y2="591.44" stroke="#ff0000" stroke-width="0.9" />
<line x1="595.50" y1="598.17" x2="601.48" y2="598.17" stroke="#ff0000" stroke-width="0.9" />
<polygon points="591.91,584.01 594.11,586.21 591.91,588.41 589.71,586.21" fill="#ff0000"/>
<polygon points="595.50,583.56 597.70,585.76 595.50,587.96 593.30,585.76" fill="#ff0000"/>
<polygon points="601.48,582.07 603.68,584.27 601.48,586.47 599.28,584.27" fill="#ff0000"/>
<polygon points="604.92,584.76 607.12,586.96 604.92,589.16 602.72,586.96" fill="#ff0000"/>
<polygon points="595.50,586.25 597.70,588.45 595.50,590.65 593.30,588.45" fill="#ff0000"/>
<polygon points="598.94,588.50 601.14,590.70 598.94,592.90 596.74,590.70" fill="#ff0000"/>
<polygon points="601.93,587.45 604.13,589.65 601.93,591.85 599.73,589.65" fill="#ff0000"/>
<polygon points="592.21,595.97 594.41,598.17 592.21,600.37 590.01,598.17" fill="#ff0000"/>
<polygon points="598.94,599.41 601.14,601.61 598.94,603.81 596.74,601.61" fill="#ff0000"/>
<polygon points="604.92,597.46 607.12,599.66 604.92,601.86 602.72,599.66" fill="#ff0000"/>
<polygon points="598.49,607.93 600.69,610.13 598.49,612.33 596.29,610.13" fill="#ff0000"/>
<polygon points="598.49,622.87 600.69,625.07 598.49,627.27 596.29,625.07" fill="#ff0000"/>
<circle cx="621.00" cy="562.00" r="2.60" fill="#000"/>
<text x="626.80" y="564.56" font-size="6.4" text-anchor="start" fill="#000" >Isotype</text>
<polygon points="621.00,568.81 623.80,574.13 618.20,574.13" fill="#00b400"/>
<text x="626.80" y="574.56" font-size="6.4" text-anchor="start" fill="#000" >ITK Inh</text>
<rect x="618.60" y="580.40" width="4.80" height="4.80" fill="#0000ff"/>
<text x="626.80" y="585.36" font-size="6.4" text-anchor="start" fill="#000" >αPD-1</text>
<polygon points="621.00,590.45 623.75,593.20 621.00,595.95 618.25,593.20" fill="#ff0000"/>
<text x="626.80" y="595.76" font-size="6.4" text-anchor="start" fill="#000" >ITK inh+αPD-1</text>
</svg></body></html>
